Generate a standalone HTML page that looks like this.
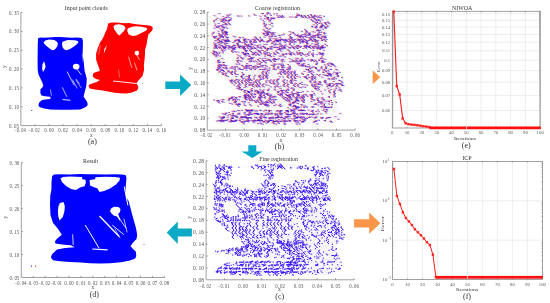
<!DOCTYPE html>
<html><head><meta charset="utf-8"><title>Point cloud registration</title>
<style>html,body{margin:0;padding:0;background:#fff;width:550px;height:303px;overflow:hidden}svg{display:block}</style>
</head><body>
<svg width="550" height="303" viewBox="0 0 550 303">
<rect width="550" height="303" fill="#fff"/>
<path d="M20.9 12.199999999999985V125.6H161.70000000000002" fill="none" stroke="#a0a0a0" stroke-width="1"/>
<path d="M34.95 125.6v-1.6M49.00 125.6v-1.6M63.05 125.6v-1.6M77.10 125.6v-1.6M91.15 125.6v-1.6M105.20 125.6v-1.6M119.25 125.6v-1.6M133.30 125.6v-1.6M147.35 125.6v-1.6M161.40 125.6v-1.6M20.9 106.75h1.6M20.9 87.90h1.6M20.9 69.05h1.6M20.9 50.20h1.6M20.9 31.35h1.6M20.9 12.50h1.6" stroke="#777" stroke-width="0.7"/>
<text x="20.00" y="132.30" font-size="5.3" text-anchor="middle" fill="#505050" font-family="'Liberation Serif',serif" textLength="11.4" lengthAdjust="spacingAndGlyphs">&#8722;0. 04</text>
<text x="34.05" y="132.30" font-size="5.3" text-anchor="middle" fill="#505050" font-family="'Liberation Serif',serif" textLength="11.4" lengthAdjust="spacingAndGlyphs">&#8722;0. 02</text>
<text x="49.00" y="132.30" font-size="5.3" text-anchor="middle" fill="#505050" font-family="'Liberation Serif',serif" textLength="9.6" lengthAdjust="spacingAndGlyphs">0. 00</text>
<text x="63.05" y="132.30" font-size="5.3" text-anchor="middle" fill="#505050" font-family="'Liberation Serif',serif" textLength="9.6" lengthAdjust="spacingAndGlyphs">0. 02</text>
<text x="77.10" y="132.30" font-size="5.3" text-anchor="middle" fill="#505050" font-family="'Liberation Serif',serif" textLength="9.6" lengthAdjust="spacingAndGlyphs">0. 04</text>
<text x="91.15" y="132.30" font-size="5.3" text-anchor="middle" fill="#505050" font-family="'Liberation Serif',serif" textLength="9.6" lengthAdjust="spacingAndGlyphs">0. 06</text>
<text x="105.20" y="132.30" font-size="5.3" text-anchor="middle" fill="#505050" font-family="'Liberation Serif',serif" textLength="9.6" lengthAdjust="spacingAndGlyphs">0. 08</text>
<text x="119.25" y="132.30" font-size="5.3" text-anchor="middle" fill="#505050" font-family="'Liberation Serif',serif" textLength="9.6" lengthAdjust="spacingAndGlyphs">0. 10</text>
<text x="133.30" y="132.30" font-size="5.3" text-anchor="middle" fill="#505050" font-family="'Liberation Serif',serif" textLength="9.6" lengthAdjust="spacingAndGlyphs">0. 12</text>
<text x="147.35" y="132.30" font-size="5.3" text-anchor="middle" fill="#505050" font-family="'Liberation Serif',serif" textLength="9.6" lengthAdjust="spacingAndGlyphs">0. 14</text>
<text x="161.40" y="132.30" font-size="5.3" text-anchor="middle" fill="#505050" font-family="'Liberation Serif',serif" textLength="9.6" lengthAdjust="spacingAndGlyphs">0. 16</text>
<text x="18.90" y="127.60" font-size="5.3" text-anchor="end" fill="#505050" font-family="'Liberation Serif',serif" textLength="9.8" lengthAdjust="spacingAndGlyphs">0. 05</text>
<text x="18.90" y="108.75" font-size="5.3" text-anchor="end" fill="#505050" font-family="'Liberation Serif',serif" textLength="9.8" lengthAdjust="spacingAndGlyphs">0. 10</text>
<text x="18.90" y="89.90" font-size="5.3" text-anchor="end" fill="#505050" font-family="'Liberation Serif',serif" textLength="9.8" lengthAdjust="spacingAndGlyphs">0. 15</text>
<text x="18.90" y="71.05" font-size="5.3" text-anchor="end" fill="#505050" font-family="'Liberation Serif',serif" textLength="9.8" lengthAdjust="spacingAndGlyphs">0. 20</text>
<text x="18.90" y="52.20" font-size="5.3" text-anchor="end" fill="#505050" font-family="'Liberation Serif',serif" textLength="9.8" lengthAdjust="spacingAndGlyphs">0. 25</text>
<text x="18.90" y="33.35" font-size="5.3" text-anchor="end" fill="#505050" font-family="'Liberation Serif',serif" textLength="9.8" lengthAdjust="spacingAndGlyphs">0. 30</text>
<text x="18.90" y="14.50" font-size="5.3" text-anchor="end" fill="#505050" font-family="'Liberation Serif',serif" textLength="9.8" lengthAdjust="spacingAndGlyphs">0. 35</text>
<text x="86.30" y="9.50" font-size="6.2" text-anchor="middle" fill="#333" font-family="'Liberation Serif',serif" textLength="42.9" lengthAdjust="spacingAndGlyphs">Input point clouds</text>
<text x="91.30" y="137.00" font-size="5.5" text-anchor="middle" fill="#555" font-family="'Liberation Serif',serif" >x</text>
<text x="92.40" y="144.20" font-size="8.0" text-anchor="middle" fill="#333" font-family="'Liberation Serif',serif" >(a)</text>
<text transform="translate(6.2,66.7) rotate(-90)" font-size="5.5" text-anchor="middle" fill="#555" font-family="'Liberation Serif',serif">y</text>
<path d="M207.2 11.999999999999996V130.1H355.42" fill="none" stroke="#a0a0a0" stroke-width="1"/>
<path d="M225.69 130.1v-1.6M244.18 130.1v-1.6M262.67 130.1v-1.6M281.16 130.1v-1.6M299.65 130.1v-1.6M318.14 130.1v-1.6M336.63 130.1v-1.6M355.12 130.1v-1.6M207.2 118.32h1.6M207.2 106.54h1.6M207.2 94.76h1.6M207.2 82.98h1.6M207.2 71.20h1.6M207.2 59.42h1.6M207.2 47.64h1.6M207.2 35.86h1.6M207.2 24.08h1.6M207.2 12.30h1.6" stroke="#777" stroke-width="0.7"/>
<text x="206.30" y="137.15" font-size="5.3" text-anchor="middle" fill="#505050" font-family="'Liberation Serif',serif" textLength="11.4" lengthAdjust="spacingAndGlyphs">&#8722;0. 02</text>
<text x="224.79" y="137.15" font-size="5.3" text-anchor="middle" fill="#505050" font-family="'Liberation Serif',serif" textLength="11.4" lengthAdjust="spacingAndGlyphs">&#8722;0. 01</text>
<text x="244.18" y="137.15" font-size="5.3" text-anchor="middle" fill="#505050" font-family="'Liberation Serif',serif" textLength="9.6" lengthAdjust="spacingAndGlyphs">0. 00</text>
<text x="262.67" y="137.15" font-size="5.3" text-anchor="middle" fill="#505050" font-family="'Liberation Serif',serif" textLength="9.6" lengthAdjust="spacingAndGlyphs">0. 01</text>
<text x="281.16" y="137.15" font-size="5.3" text-anchor="middle" fill="#505050" font-family="'Liberation Serif',serif" textLength="9.6" lengthAdjust="spacingAndGlyphs">0. 02</text>
<text x="299.65" y="137.15" font-size="5.3" text-anchor="middle" fill="#505050" font-family="'Liberation Serif',serif" textLength="9.6" lengthAdjust="spacingAndGlyphs">0. 03</text>
<text x="318.14" y="137.15" font-size="5.3" text-anchor="middle" fill="#505050" font-family="'Liberation Serif',serif" textLength="9.6" lengthAdjust="spacingAndGlyphs">0. 04</text>
<text x="336.63" y="137.15" font-size="5.3" text-anchor="middle" fill="#505050" font-family="'Liberation Serif',serif" textLength="9.6" lengthAdjust="spacingAndGlyphs">0. 05</text>
<text x="355.12" y="137.15" font-size="5.3" text-anchor="middle" fill="#505050" font-family="'Liberation Serif',serif" textLength="9.6" lengthAdjust="spacingAndGlyphs">0. 06</text>
<text x="205.20" y="132.10" font-size="5.6" text-anchor="end" fill="#505050" font-family="'Liberation Serif',serif" textLength="11.0" lengthAdjust="spacingAndGlyphs">0. 08</text>
<text x="205.20" y="120.32" font-size="5.6" text-anchor="end" fill="#505050" font-family="'Liberation Serif',serif" textLength="11.0" lengthAdjust="spacingAndGlyphs">0. 10</text>
<text x="205.20" y="108.54" font-size="5.6" text-anchor="end" fill="#505050" font-family="'Liberation Serif',serif" textLength="11.0" lengthAdjust="spacingAndGlyphs">0. 12</text>
<text x="205.20" y="96.76" font-size="5.6" text-anchor="end" fill="#505050" font-family="'Liberation Serif',serif" textLength="11.0" lengthAdjust="spacingAndGlyphs">0. 14</text>
<text x="205.20" y="84.98" font-size="5.6" text-anchor="end" fill="#505050" font-family="'Liberation Serif',serif" textLength="11.0" lengthAdjust="spacingAndGlyphs">0. 16</text>
<text x="205.20" y="73.20" font-size="5.6" text-anchor="end" fill="#505050" font-family="'Liberation Serif',serif" textLength="11.0" lengthAdjust="spacingAndGlyphs">0. 18</text>
<text x="205.20" y="61.42" font-size="5.6" text-anchor="end" fill="#505050" font-family="'Liberation Serif',serif" textLength="11.0" lengthAdjust="spacingAndGlyphs">0. 20</text>
<text x="205.20" y="49.64" font-size="5.6" text-anchor="end" fill="#505050" font-family="'Liberation Serif',serif" textLength="11.0" lengthAdjust="spacingAndGlyphs">0. 22</text>
<text x="205.20" y="37.86" font-size="5.6" text-anchor="end" fill="#505050" font-family="'Liberation Serif',serif" textLength="11.0" lengthAdjust="spacingAndGlyphs">0. 24</text>
<text x="205.20" y="26.08" font-size="5.6" text-anchor="end" fill="#505050" font-family="'Liberation Serif',serif" textLength="11.0" lengthAdjust="spacingAndGlyphs">0. 26</text>
<text x="205.20" y="14.30" font-size="5.6" text-anchor="end" fill="#505050" font-family="'Liberation Serif',serif" textLength="11.0" lengthAdjust="spacingAndGlyphs">0. 28</text>
<text x="277.50" y="9.50" font-size="6.2" text-anchor="middle" fill="#333" font-family="'Liberation Serif',serif" textLength="45" lengthAdjust="spacingAndGlyphs">Coarse registration</text>
<text x="280.80" y="141.70" font-size="5.5" text-anchor="middle" fill="#555" font-family="'Liberation Serif',serif" >x</text>
<text x="279.40" y="148.90" font-size="8.0" text-anchor="middle" fill="#333" font-family="'Liberation Serif',serif" >(b)</text>
<text transform="translate(191.5,68.3) rotate(-90)" font-size="5.5" text-anchor="middle" fill="#555" font-family="'Liberation Serif',serif">y</text>
<path d="M206.1 160.5V279.8H354.40000000000003" fill="none" stroke="#a0a0a0" stroke-width="1"/>
<path d="M224.60 279.8v-1.6M243.10 279.8v-1.6M261.60 279.8v-1.6M280.10 279.8v-1.6M298.60 279.8v-1.6M317.10 279.8v-1.6M335.60 279.8v-1.6M354.10 279.8v-1.6M206.1 267.90h1.6M206.1 256.00h1.6M206.1 244.10h1.6M206.1 232.20h1.6M206.1 220.30h1.6M206.1 208.40h1.6M206.1 196.50h1.6M206.1 184.60h1.6M206.1 172.70h1.6M206.1 160.80h1.6" stroke="#777" stroke-width="0.7"/>
<text x="205.20" y="287.65" font-size="5.3" text-anchor="middle" fill="#505050" font-family="'Liberation Serif',serif" textLength="11.4" lengthAdjust="spacingAndGlyphs">&#8722;0. 02</text>
<text x="223.70" y="287.65" font-size="5.3" text-anchor="middle" fill="#505050" font-family="'Liberation Serif',serif" textLength="11.4" lengthAdjust="spacingAndGlyphs">&#8722;0. 01</text>
<text x="243.10" y="287.65" font-size="5.3" text-anchor="middle" fill="#505050" font-family="'Liberation Serif',serif" textLength="9.6" lengthAdjust="spacingAndGlyphs">0. 00</text>
<text x="261.60" y="287.65" font-size="5.3" text-anchor="middle" fill="#505050" font-family="'Liberation Serif',serif" textLength="9.6" lengthAdjust="spacingAndGlyphs">0. 01</text>
<text x="280.10" y="287.65" font-size="5.3" text-anchor="middle" fill="#505050" font-family="'Liberation Serif',serif" textLength="9.6" lengthAdjust="spacingAndGlyphs">0. 02</text>
<text x="298.60" y="287.65" font-size="5.3" text-anchor="middle" fill="#505050" font-family="'Liberation Serif',serif" textLength="9.6" lengthAdjust="spacingAndGlyphs">0. 03</text>
<text x="317.10" y="287.65" font-size="5.3" text-anchor="middle" fill="#505050" font-family="'Liberation Serif',serif" textLength="9.6" lengthAdjust="spacingAndGlyphs">0. 04</text>
<text x="335.60" y="287.65" font-size="5.3" text-anchor="middle" fill="#505050" font-family="'Liberation Serif',serif" textLength="9.6" lengthAdjust="spacingAndGlyphs">0. 05</text>
<text x="354.10" y="287.65" font-size="5.3" text-anchor="middle" fill="#505050" font-family="'Liberation Serif',serif" textLength="9.6" lengthAdjust="spacingAndGlyphs">0. 06</text>
<text x="204.10" y="281.80" font-size="5.6" text-anchor="end" fill="#505050" font-family="'Liberation Serif',serif" textLength="11.0" lengthAdjust="spacingAndGlyphs">0. 08</text>
<text x="204.10" y="269.90" font-size="5.6" text-anchor="end" fill="#505050" font-family="'Liberation Serif',serif" textLength="11.0" lengthAdjust="spacingAndGlyphs">0. 10</text>
<text x="204.10" y="258.00" font-size="5.6" text-anchor="end" fill="#505050" font-family="'Liberation Serif',serif" textLength="11.0" lengthAdjust="spacingAndGlyphs">0. 12</text>
<text x="204.10" y="246.10" font-size="5.6" text-anchor="end" fill="#505050" font-family="'Liberation Serif',serif" textLength="11.0" lengthAdjust="spacingAndGlyphs">0. 14</text>
<text x="204.10" y="234.20" font-size="5.6" text-anchor="end" fill="#505050" font-family="'Liberation Serif',serif" textLength="11.0" lengthAdjust="spacingAndGlyphs">0. 16</text>
<text x="204.10" y="222.30" font-size="5.6" text-anchor="end" fill="#505050" font-family="'Liberation Serif',serif" textLength="11.0" lengthAdjust="spacingAndGlyphs">0. 18</text>
<text x="204.10" y="210.40" font-size="5.6" text-anchor="end" fill="#505050" font-family="'Liberation Serif',serif" textLength="11.0" lengthAdjust="spacingAndGlyphs">0. 20</text>
<text x="204.10" y="198.50" font-size="5.6" text-anchor="end" fill="#505050" font-family="'Liberation Serif',serif" textLength="11.0" lengthAdjust="spacingAndGlyphs">0. 22</text>
<text x="204.10" y="186.60" font-size="5.6" text-anchor="end" fill="#505050" font-family="'Liberation Serif',serif" textLength="11.0" lengthAdjust="spacingAndGlyphs">0. 24</text>
<text x="204.10" y="174.70" font-size="5.6" text-anchor="end" fill="#505050" font-family="'Liberation Serif',serif" textLength="11.0" lengthAdjust="spacingAndGlyphs">0. 26</text>
<text x="204.10" y="162.80" font-size="5.6" text-anchor="end" fill="#505050" font-family="'Liberation Serif',serif" textLength="11.0" lengthAdjust="spacingAndGlyphs">0. 28</text>
<text x="278.60" y="161.20" font-size="6.2" text-anchor="middle" fill="#333" font-family="'Liberation Serif',serif" textLength="38.7" lengthAdjust="spacingAndGlyphs">Fine registration</text>
<text x="279.40" y="291.40" font-size="5.5" text-anchor="middle" fill="#555" font-family="'Liberation Serif',serif" >x</text>
<text x="279.80" y="298.60" font-size="8.0" text-anchor="middle" fill="#333" font-family="'Liberation Serif',serif" >(c)</text>
<text transform="translate(190.5,217.4) rotate(-90)" font-size="5.5" text-anchor="middle" fill="#555" font-family="'Liberation Serif',serif">y</text>
<path d="M21.3 162.45V277.5H164.64000000000001" fill="none" stroke="#a0a0a0" stroke-width="1"/>
<path d="M33.22 277.5v-1.6M45.14 277.5v-1.6M57.06 277.5v-1.6M68.98 277.5v-1.6M80.90 277.5v-1.6M92.82 277.5v-1.6M104.74 277.5v-1.6M116.66 277.5v-1.6M128.58 277.5v-1.6M140.50 277.5v-1.6M152.42 277.5v-1.6M164.34 277.5v-1.6M21.3 254.55h1.6M21.3 231.60h1.6M21.3 208.65h1.6M21.3 185.70h1.6M21.3 162.75h1.6" stroke="#777" stroke-width="0.7"/>
<text x="20.40" y="285.00" font-size="5.3" text-anchor="middle" fill="#505050" font-family="'Liberation Serif',serif" textLength="11.4" lengthAdjust="spacingAndGlyphs">&#8722;0. 04</text>
<text x="32.32" y="285.00" font-size="5.3" text-anchor="middle" fill="#505050" font-family="'Liberation Serif',serif" textLength="11.4" lengthAdjust="spacingAndGlyphs">&#8722;0. 03</text>
<text x="44.24" y="285.00" font-size="5.3" text-anchor="middle" fill="#505050" font-family="'Liberation Serif',serif" textLength="11.4" lengthAdjust="spacingAndGlyphs">&#8722;0. 02</text>
<text x="56.16" y="285.00" font-size="5.3" text-anchor="middle" fill="#505050" font-family="'Liberation Serif',serif" textLength="11.4" lengthAdjust="spacingAndGlyphs">&#8722;0. 01</text>
<text x="68.98" y="285.00" font-size="5.3" text-anchor="middle" fill="#505050" font-family="'Liberation Serif',serif" textLength="9.6" lengthAdjust="spacingAndGlyphs">0. 00</text>
<text x="80.90" y="285.00" font-size="5.3" text-anchor="middle" fill="#505050" font-family="'Liberation Serif',serif" textLength="9.6" lengthAdjust="spacingAndGlyphs">0. 01</text>
<text x="92.82" y="285.00" font-size="5.3" text-anchor="middle" fill="#505050" font-family="'Liberation Serif',serif" textLength="9.6" lengthAdjust="spacingAndGlyphs">0. 02</text>
<text x="104.74" y="285.00" font-size="5.3" text-anchor="middle" fill="#505050" font-family="'Liberation Serif',serif" textLength="9.6" lengthAdjust="spacingAndGlyphs">0. 03</text>
<text x="116.66" y="285.00" font-size="5.3" text-anchor="middle" fill="#505050" font-family="'Liberation Serif',serif" textLength="9.6" lengthAdjust="spacingAndGlyphs">0. 04</text>
<text x="128.58" y="285.00" font-size="5.3" text-anchor="middle" fill="#505050" font-family="'Liberation Serif',serif" textLength="9.6" lengthAdjust="spacingAndGlyphs">0. 05</text>
<text x="140.50" y="285.00" font-size="5.3" text-anchor="middle" fill="#505050" font-family="'Liberation Serif',serif" textLength="9.6" lengthAdjust="spacingAndGlyphs">0. 06</text>
<text x="152.42" y="285.00" font-size="5.3" text-anchor="middle" fill="#505050" font-family="'Liberation Serif',serif" textLength="9.6" lengthAdjust="spacingAndGlyphs">0. 07</text>
<text x="164.34" y="285.00" font-size="5.3" text-anchor="middle" fill="#505050" font-family="'Liberation Serif',serif" textLength="9.6" lengthAdjust="spacingAndGlyphs">0. 08</text>
<text x="19.30" y="279.50" font-size="5.3" text-anchor="end" fill="#505050" font-family="'Liberation Serif',serif" textLength="9.8" lengthAdjust="spacingAndGlyphs">0. 05</text>
<text x="19.30" y="256.55" font-size="5.3" text-anchor="end" fill="#505050" font-family="'Liberation Serif',serif" textLength="9.8" lengthAdjust="spacingAndGlyphs">0. 10</text>
<text x="19.30" y="233.60" font-size="5.3" text-anchor="end" fill="#505050" font-family="'Liberation Serif',serif" textLength="9.8" lengthAdjust="spacingAndGlyphs">0. 15</text>
<text x="19.30" y="210.65" font-size="5.3" text-anchor="end" fill="#505050" font-family="'Liberation Serif',serif" textLength="9.8" lengthAdjust="spacingAndGlyphs">0. 20</text>
<text x="19.30" y="187.70" font-size="5.3" text-anchor="end" fill="#505050" font-family="'Liberation Serif',serif" textLength="9.8" lengthAdjust="spacingAndGlyphs">0. 25</text>
<text x="19.30" y="164.75" font-size="5.3" text-anchor="end" fill="#505050" font-family="'Liberation Serif',serif" textLength="9.8" lengthAdjust="spacingAndGlyphs">0. 30</text>
<text x="90.60" y="162.90" font-size="5.5" text-anchor="middle" fill="#333" font-family="'Liberation Serif',serif" textLength="15.1" lengthAdjust="spacingAndGlyphs">Result</text>
<text x="92.90" y="289.10" font-size="5.5" text-anchor="middle" fill="#555" font-family="'Liberation Serif',serif" >x</text>
<text x="94.30" y="296.60" font-size="8.0" text-anchor="middle" fill="#333" font-family="'Liberation Serif',serif" >(d)</text>
<text transform="translate(6.8,217.2) rotate(-90)" font-size="5.5" text-anchor="middle" fill="#555" font-family="'Liberation Serif',serif">y</text>
<polygon points="165.3,81.5 180.1,81.5 180.1,74.5 191.3,85.1 180.1,96 180.1,89 165.3,89" fill="#0aa9c5"/>
<polygon points="248.3,145.3 256.3,145.3 256.3,151.6 262.6,151.6 252.4,158 241.6,151.6 248.3,151.6" fill="#0aa9c5"/>
<polygon points="191.9,228.6 177.8,228.6 177.8,221.6 166.7,232.6 177.8,243.9 177.8,236.4 191.9,236.4" fill="#0aa9c5"/>
<polygon points="372.7,70.2 380.2,77.2 372.7,84" fill="#f9964a"/>
<polygon points="354.1,219.3 369.2,219.3 369.2,212.6 380.4,223.3 369.2,233.8 369.2,227.4 354.1,227.4" fill="#f9964a"/>
<path d="M407.09 11.3V128.0M421.88 11.3V128.0M436.67 11.3V128.0M451.46 11.3V128.0M466.25 11.3V128.0M481.04 11.3V128.0M495.83 11.3V128.0M510.62 11.3V128.0M525.41 11.3V128.0M392.3 13.90H540.2M392.3 20.26H540.2M392.3 27.06H540.2M392.3 34.37H540.2M392.3 42.26H540.2M392.3 50.84H540.2M392.3 60.24H540.2M392.3 70.62H540.2M392.3 82.23H540.2M392.3 95.40H540.2M392.3 110.59H540.2" stroke="#e2e2e2" stroke-width="0.6" fill="none"/>
<rect x="392.3" y="11.3" width="147.90" height="116.70" fill="none" stroke="#8a8a8a" stroke-width="0.8"/>
<path d="M392.3 126.62h1.2M540.2 126.62h-1.2M392.3 124.70h1.2M540.2 124.70h-1.2M392.3 122.82h1.2M540.2 122.82h-1.2M392.3 120.98h1.2M540.2 120.98h-1.2M392.3 119.17h1.2M540.2 119.17h-1.2M392.3 117.40h1.2M540.2 117.40h-1.2M392.3 115.65h1.2M540.2 115.65h-1.2M392.3 113.94h1.2M540.2 113.94h-1.2M392.3 112.25h1.2M540.2 112.25h-1.2M392.3 110.59h1.2M540.2 110.59h-1.2M392.3 108.97h1.2M540.2 108.97h-1.2M392.3 107.36h1.2M540.2 107.36h-1.2M392.3 105.78h1.2M540.2 105.78h-1.2M392.3 104.23h1.2M540.2 104.23h-1.2M392.3 102.70h1.2M540.2 102.70h-1.2M392.3 101.20h1.2M540.2 101.20h-1.2M392.3 99.72h1.2M540.2 99.72h-1.2M392.3 98.26h1.2M540.2 98.26h-1.2M392.3 96.82h1.2M540.2 96.82h-1.2M392.3 95.40h1.2M540.2 95.40h-1.2M392.3 94.00h1.2M540.2 94.00h-1.2M392.3 92.62h1.2M540.2 92.62h-1.2M392.3 91.26h1.2M540.2 91.26h-1.2M392.3 89.92h1.2M540.2 89.92h-1.2M392.3 88.60h1.2M540.2 88.60h-1.2M392.3 87.29h1.2M540.2 87.29h-1.2M392.3 86.00h1.2M540.2 86.00h-1.2M392.3 84.73h1.2M540.2 84.73h-1.2M392.3 83.47h1.2M540.2 83.47h-1.2M392.3 82.23h1.2M540.2 82.23h-1.2M392.3 81.01h1.2M540.2 81.01h-1.2M392.3 79.80h1.2M540.2 79.80h-1.2M392.3 78.60h1.2M540.2 78.60h-1.2M392.3 77.42h1.2M540.2 77.42h-1.2M392.3 76.26h1.2M540.2 76.26h-1.2M392.3 75.10h1.2M540.2 75.10h-1.2M392.3 73.96h1.2M540.2 73.96h-1.2M392.3 72.84h1.2M540.2 72.84h-1.2M392.3 71.72h1.2M540.2 71.72h-1.2M392.3 70.62h1.2M540.2 70.62h-1.2M392.3 69.53h1.2M540.2 69.53h-1.2M392.3 68.46h1.2M540.2 68.46h-1.2M392.3 67.39h1.2M540.2 67.39h-1.2M392.3 66.34h1.2M540.2 66.34h-1.2M392.3 65.29h1.2M540.2 65.29h-1.2M392.3 64.26h1.2M540.2 64.26h-1.2M392.3 63.24h1.2M540.2 63.24h-1.2M392.3 62.23h1.2M540.2 62.23h-1.2M392.3 61.23h1.2M540.2 61.23h-1.2M392.3 60.24h1.2M540.2 60.24h-1.2M392.3 59.25h1.2M540.2 59.25h-1.2M392.3 58.28h1.2M540.2 58.28h-1.2M392.3 57.32h1.2M540.2 57.32h-1.2M392.3 56.37h1.2M540.2 56.37h-1.2M392.3 55.43h1.2M540.2 55.43h-1.2M392.3 54.49h1.2M540.2 54.49h-1.2M392.3 53.57h1.2M540.2 53.57h-1.2M392.3 52.65h1.2M540.2 52.65h-1.2M392.3 51.74h1.2M540.2 51.74h-1.2M392.3 50.84h1.2M540.2 50.84h-1.2M392.3 49.95h1.2M540.2 49.95h-1.2M392.3 49.06h1.2M540.2 49.06h-1.2M392.3 48.19h1.2M540.2 48.19h-1.2M392.3 47.32h1.2M540.2 47.32h-1.2M392.3 46.46h1.2M540.2 46.46h-1.2M392.3 45.60h1.2M540.2 45.60h-1.2M392.3 44.76h1.2M540.2 44.76h-1.2M392.3 43.92h1.2M540.2 43.92h-1.2M392.3 43.09h1.2M540.2 43.09h-1.2M392.3 42.26h1.2M540.2 42.26h-1.2M392.3 41.44h1.2M540.2 41.44h-1.2M392.3 40.63h1.2M540.2 40.63h-1.2M392.3 39.83h1.2M540.2 39.83h-1.2M392.3 39.03h1.2M540.2 39.03h-1.2M392.3 38.24h1.2M540.2 38.24h-1.2M392.3 37.45h1.2M540.2 37.45h-1.2M392.3 36.67h1.2M540.2 36.67h-1.2M392.3 35.90h1.2M540.2 35.90h-1.2M392.3 35.13h1.2M540.2 35.13h-1.2M392.3 34.37h1.2M540.2 34.37h-1.2M392.3 33.61h1.2M540.2 33.61h-1.2M392.3 32.86h1.2M540.2 32.86h-1.2M392.3 32.12h1.2M540.2 32.12h-1.2M392.3 31.38h1.2M540.2 31.38h-1.2M392.3 30.65h1.2M540.2 30.65h-1.2M392.3 29.92h1.2M540.2 29.92h-1.2M392.3 29.20h1.2M540.2 29.20h-1.2M392.3 28.48h1.2M540.2 28.48h-1.2M392.3 27.77h1.2M540.2 27.77h-1.2M392.3 27.06h1.2M540.2 27.06h-1.2M392.3 26.36h1.2M540.2 26.36h-1.2M392.3 25.67h1.2M540.2 25.67h-1.2M392.3 24.97h1.2M540.2 24.97h-1.2M392.3 24.29h1.2M540.2 24.29h-1.2M392.3 23.60h1.2M540.2 23.60h-1.2M392.3 22.93h1.2M540.2 22.93h-1.2M392.3 22.25h1.2M540.2 22.25h-1.2M392.3 21.59h1.2M540.2 21.59h-1.2M392.3 20.92h1.2M540.2 20.92h-1.2M392.3 20.26h1.2M540.2 20.26h-1.2M392.3 19.61h1.2M540.2 19.61h-1.2M392.3 18.96h1.2M540.2 18.96h-1.2M392.3 18.31h1.2M540.2 18.31h-1.2M392.3 17.67h1.2M540.2 17.67h-1.2M392.3 17.03h1.2M540.2 17.03h-1.2M392.3 16.40h1.2M540.2 16.40h-1.2M392.3 15.77h1.2M540.2 15.77h-1.2M392.3 15.14h1.2M540.2 15.14h-1.2M392.3 14.52h1.2M540.2 14.52h-1.2M392.3 13.90h1.2M540.2 13.90h-1.2M392.3 13.29h1.2M540.2 13.29h-1.2M392.3 12.68h1.2M540.2 12.68h-1.2M392.3 12.07h1.2M540.2 12.07h-1.2M392.3 11.47h1.2M540.2 11.47h-1.2M407.09 11.3v1.3M407.09 128.0v-1.3M421.88 11.3v1.3M421.88 128.0v-1.3M436.67 11.3v1.3M436.67 128.0v-1.3M451.46 11.3v1.3M451.46 128.0v-1.3M466.25 11.3v1.3M466.25 128.0v-1.3M481.04 11.3v1.3M481.04 128.0v-1.3M495.83 11.3v1.3M495.83 128.0v-1.3M510.62 11.3v1.3M510.62 128.0v-1.3M525.41 11.3v1.3M525.41 128.0v-1.3" stroke="#666" stroke-width="0.4"/>
<text x="390.10" y="15.50" font-size="4.6" text-anchor="end" fill="#555" font-family="'Liberation Serif',serif" >0.16</text>
<text x="390.10" y="21.86" font-size="4.6" text-anchor="end" fill="#555" font-family="'Liberation Serif',serif" >0.15</text>
<text x="390.10" y="28.66" font-size="4.6" text-anchor="end" fill="#555" font-family="'Liberation Serif',serif" >0.14</text>
<text x="390.10" y="35.97" font-size="4.6" text-anchor="end" fill="#555" font-family="'Liberation Serif',serif" >0.13</text>
<text x="390.10" y="43.86" font-size="4.6" text-anchor="end" fill="#555" font-family="'Liberation Serif',serif" >0.12</text>
<text x="390.10" y="52.44" font-size="4.6" text-anchor="end" fill="#555" font-family="'Liberation Serif',serif" >0.11</text>
<text x="390.10" y="61.84" font-size="4.6" text-anchor="end" fill="#555" font-family="'Liberation Serif',serif" >0.1</text>
<text x="390.10" y="72.22" font-size="4.6" text-anchor="end" fill="#555" font-family="'Liberation Serif',serif" >0.09</text>
<text x="390.10" y="83.83" font-size="4.6" text-anchor="end" fill="#555" font-family="'Liberation Serif',serif" >0.08</text>
<text x="390.10" y="97.00" font-size="4.6" text-anchor="end" fill="#555" font-family="'Liberation Serif',serif" >0.07</text>
<text x="390.10" y="112.19" font-size="4.6" text-anchor="end" fill="#555" font-family="'Liberation Serif',serif" >0.06</text>
<text x="392.30" y="134.30" font-size="4.8" text-anchor="middle" fill="#555" font-family="'Liberation Serif',serif" >0</text>
<text x="407.09" y="134.30" font-size="4.8" text-anchor="middle" fill="#555" font-family="'Liberation Serif',serif" >10</text>
<text x="421.88" y="134.30" font-size="4.8" text-anchor="middle" fill="#555" font-family="'Liberation Serif',serif" >20</text>
<text x="436.67" y="134.30" font-size="4.8" text-anchor="middle" fill="#555" font-family="'Liberation Serif',serif" >30</text>
<text x="451.46" y="134.30" font-size="4.8" text-anchor="middle" fill="#555" font-family="'Liberation Serif',serif" >40</text>
<text x="466.25" y="134.30" font-size="4.8" text-anchor="middle" fill="#555" font-family="'Liberation Serif',serif" >50</text>
<text x="481.04" y="134.30" font-size="4.8" text-anchor="middle" fill="#555" font-family="'Liberation Serif',serif" >60</text>
<text x="495.83" y="134.30" font-size="4.8" text-anchor="middle" fill="#555" font-family="'Liberation Serif',serif" >70</text>
<text x="510.62" y="134.30" font-size="4.8" text-anchor="middle" fill="#555" font-family="'Liberation Serif',serif" >80</text>
<text x="525.41" y="134.30" font-size="4.8" text-anchor="middle" fill="#555" font-family="'Liberation Serif',serif" >90</text>
<text x="540.20" y="134.30" font-size="4.8" text-anchor="middle" fill="#555" font-family="'Liberation Serif',serif" >100</text>
<text x="462.10" y="9.60" font-size="6.0" text-anchor="middle" fill="#333" font-family="'Liberation Serif',serif" textLength="20.2" lengthAdjust="spacingAndGlyphs">NIWOA</text>
<text x="465.00" y="140.30" font-size="5" text-anchor="middle" fill="#333" font-family="'Liberation Serif',serif" textLength="22" lengthAdjust="spacingAndGlyphs">Iterations</text>
<text x="466.20" y="147.80" font-size="8" text-anchor="middle" fill="#333" font-family="'Liberation Serif',serif" >(e)</text>
<text transform="translate(380.0,66.6) rotate(-90)" font-size="5" text-anchor="middle" fill="#555" font-family="'Liberation Serif',serif" textLength="11.2" lengthAdjust="spacingAndGlyphs">Error</text>
<polyline points="393.78,11.60 396.74,86.10 399.69,94.50 402.65,118.40 405.61,123.20 408.57,124.20 411.53,124.60 414.49,124.90 417.44,125.30 420.40,125.70 423.36,126.20 426.32,126.60 429.28,127.00 432.23,127.90 435.19,127.90 438.15,127.90 441.11,127.90 444.06,127.90 447.02,127.90 449.98,127.90 452.94,127.90 455.90,127.90 458.86,127.90 461.81,127.90 464.77,127.90 467.73,127.90 470.69,127.90 473.65,127.90 476.60,127.90 479.56,127.90 482.52,127.90 485.48,127.90 488.44,127.90 491.39,127.90 494.35,127.90 497.31,127.90 500.27,127.90 503.23,127.90 506.18,127.90 509.14,127.90 512.10,127.90 515.06,127.90 518.02,127.90 520.97,127.90 523.93,127.90 526.89,127.90 529.85,127.90 532.81,127.90 535.76,127.90 538.72,127.90" fill="none" stroke="#ff1a1a" stroke-width="1.1"/>
<rect x="392.58" y="10.40" width="2.4" height="2.4" fill="#ff2424"/>
<rect x="395.54" y="84.90" width="2.4" height="2.4" fill="#ff2424"/>
<rect x="398.50" y="93.30" width="2.4" height="2.4" fill="#ff2424"/>
<rect x="401.45" y="117.20" width="2.4" height="2.4" fill="#ff2424"/>
<rect x="404.41" y="122.00" width="2.4" height="2.4" fill="#ff2424"/>
<rect x="407.37" y="123.00" width="2.4" height="2.4" fill="#ff2424"/>
<rect x="410.33" y="123.40" width="2.4" height="2.4" fill="#ff2424"/>
<rect x="413.29" y="123.70" width="2.4" height="2.4" fill="#ff2424"/>
<rect x="416.24" y="124.10" width="2.4" height="2.4" fill="#ff2424"/>
<rect x="419.20" y="124.50" width="2.4" height="2.4" fill="#ff2424"/>
<rect x="422.16" y="125.00" width="2.4" height="2.4" fill="#ff2424"/>
<rect x="425.12" y="125.40" width="2.4" height="2.4" fill="#ff2424"/>
<rect x="428.08" y="125.80" width="2.4" height="2.4" fill="#ff2424"/>
<rect x="431.03" y="126.70" width="2.4" height="2.4" fill="#ff2424"/>
<rect x="433.99" y="126.70" width="2.4" height="2.4" fill="#ff2424"/>
<rect x="436.95" y="126.70" width="2.4" height="2.4" fill="#ff2424"/>
<rect x="439.91" y="126.70" width="2.4" height="2.4" fill="#ff2424"/>
<rect x="442.87" y="126.70" width="2.4" height="2.4" fill="#ff2424"/>
<rect x="445.82" y="126.70" width="2.4" height="2.4" fill="#ff2424"/>
<rect x="448.78" y="126.70" width="2.4" height="2.4" fill="#ff2424"/>
<rect x="451.74" y="126.70" width="2.4" height="2.4" fill="#ff2424"/>
<rect x="454.70" y="126.70" width="2.4" height="2.4" fill="#ff2424"/>
<rect x="457.66" y="126.70" width="2.4" height="2.4" fill="#ff2424"/>
<rect x="460.61" y="126.70" width="2.4" height="2.4" fill="#ff2424"/>
<rect x="463.57" y="126.70" width="2.4" height="2.4" fill="#ff2424"/>
<rect x="466.53" y="126.70" width="2.4" height="2.4" fill="#ff2424"/>
<rect x="469.49" y="126.70" width="2.4" height="2.4" fill="#ff2424"/>
<rect x="472.45" y="126.70" width="2.4" height="2.4" fill="#ff2424"/>
<rect x="475.40" y="126.70" width="2.4" height="2.4" fill="#ff2424"/>
<rect x="478.36" y="126.70" width="2.4" height="2.4" fill="#ff2424"/>
<rect x="481.32" y="126.70" width="2.4" height="2.4" fill="#ff2424"/>
<rect x="484.28" y="126.70" width="2.4" height="2.4" fill="#ff2424"/>
<rect x="487.24" y="126.70" width="2.4" height="2.4" fill="#ff2424"/>
<rect x="490.19" y="126.70" width="2.4" height="2.4" fill="#ff2424"/>
<rect x="493.15" y="126.70" width="2.4" height="2.4" fill="#ff2424"/>
<rect x="496.11" y="126.70" width="2.4" height="2.4" fill="#ff2424"/>
<rect x="499.07" y="126.70" width="2.4" height="2.4" fill="#ff2424"/>
<rect x="502.03" y="126.70" width="2.4" height="2.4" fill="#ff2424"/>
<rect x="504.98" y="126.70" width="2.4" height="2.4" fill="#ff2424"/>
<rect x="507.94" y="126.70" width="2.4" height="2.4" fill="#ff2424"/>
<rect x="510.90" y="126.70" width="2.4" height="2.4" fill="#ff2424"/>
<rect x="513.86" y="126.70" width="2.4" height="2.4" fill="#ff2424"/>
<rect x="516.82" y="126.70" width="2.4" height="2.4" fill="#ff2424"/>
<rect x="519.77" y="126.70" width="2.4" height="2.4" fill="#ff2424"/>
<rect x="522.73" y="126.70" width="2.4" height="2.4" fill="#ff2424"/>
<rect x="525.69" y="126.70" width="2.4" height="2.4" fill="#ff2424"/>
<rect x="528.65" y="126.70" width="2.4" height="2.4" fill="#ff2424"/>
<rect x="531.61" y="126.70" width="2.4" height="2.4" fill="#ff2424"/>
<rect x="534.56" y="126.70" width="2.4" height="2.4" fill="#ff2424"/>
<rect x="537.52" y="126.70" width="2.4" height="2.4" fill="#ff2424"/>
<rect x="429.28" y="126.6" width="111.53" height="2.6" fill="#ff1414"/>
<path d="M430.40 127.9h0.7M431.88 127.9h0.7M433.36 127.9h0.7M434.84 127.9h0.7M436.32 127.9h0.7M437.80 127.9h0.7M439.28 127.9h0.7M440.76 127.9h0.7M442.24 127.9h0.7M443.71 127.9h0.7M445.19 127.9h0.7M446.67 127.9h0.7M448.15 127.9h0.7M449.63 127.9h0.7M451.11 127.9h0.7M452.59 127.9h0.7M454.07 127.9h0.7M455.55 127.9h0.7M457.03 127.9h0.7M458.50 127.9h0.7M459.98 127.9h0.7M461.46 127.9h0.7M462.94 127.9h0.7M464.42 127.9h0.7M465.90 127.9h0.7M467.38 127.9h0.7M468.86 127.9h0.7M470.34 127.9h0.7M471.82 127.9h0.7M473.30 127.9h0.7M474.77 127.9h0.7M476.25 127.9h0.7M477.73 127.9h0.7M479.21 127.9h0.7M480.69 127.9h0.7M482.17 127.9h0.7M483.65 127.9h0.7M485.13 127.9h0.7M486.61 127.9h0.7M488.09 127.9h0.7M489.56 127.9h0.7M491.04 127.9h0.7M492.52 127.9h0.7M494.00 127.9h0.7M495.48 127.9h0.7M496.96 127.9h0.7M498.44 127.9h0.7M499.92 127.9h0.7M501.40 127.9h0.7M502.88 127.9h0.7M504.35 127.9h0.7M505.83 127.9h0.7M507.31 127.9h0.7M508.79 127.9h0.7M510.27 127.9h0.7M511.75 127.9h0.7M513.23 127.9h0.7M514.71 127.9h0.7M516.19 127.9h0.7M517.67 127.9h0.7M519.14 127.9h0.7M520.62 127.9h0.7M522.10 127.9h0.7M523.58 127.9h0.7M525.06 127.9h0.7M526.54 127.9h0.7M528.02 127.9h0.7M529.50 127.9h0.7M530.98 127.9h0.7M532.46 127.9h0.7M533.93 127.9h0.7M535.41 127.9h0.7M536.89 127.9h0.7M538.37 127.9h0.7M539.85 127.9h0.7" stroke="#e00000" stroke-width="0.7" opacity="0.8"/>
<rect x="465.95" y="126.4" width="0.7" height="3" fill="#fff"/>
<path d="M407.40 161.4V279.5M422.40 161.4V279.5M437.40 161.4V279.5M452.40 161.4V279.5M467.40 161.4V279.5M482.40 161.4V279.5M497.40 161.4V279.5M512.40 161.4V279.5M527.40 161.4V279.5M392.4 200.83H542.4M392.4 240.16H542.4" stroke="#e2e2e2" stroke-width="0.6" fill="none"/>
<rect x="392.4" y="161.4" width="150.00" height="118.10" fill="none" stroke="#8a8a8a" stroke-width="0.8"/>
<path d="M392.4 267.65h1.2M542.4 267.65h-1.2M392.4 260.72h1.2M542.4 260.72h-1.2M392.4 255.81h1.2M542.4 255.81h-1.2M392.4 252.00h1.2M542.4 252.00h-1.2M392.4 248.89h1.2M542.4 248.89h-1.2M392.4 246.25h1.2M542.4 246.25h-1.2M392.4 243.97h1.2M542.4 243.97h-1.2M392.4 241.96h1.2M542.4 241.96h-1.2M392.4 228.32h1.2M542.4 228.32h-1.2M392.4 221.39h1.2M542.4 221.39h-1.2M392.4 216.48h1.2M542.4 216.48h-1.2M392.4 212.67h1.2M542.4 212.67h-1.2M392.4 209.56h1.2M542.4 209.56h-1.2M392.4 206.92h1.2M542.4 206.92h-1.2M392.4 204.64h1.2M542.4 204.64h-1.2M392.4 202.63h1.2M542.4 202.63h-1.2M392.4 188.99h1.2M542.4 188.99h-1.2M392.4 182.06h1.2M542.4 182.06h-1.2M392.4 177.15h1.2M542.4 177.15h-1.2M392.4 173.34h1.2M542.4 173.34h-1.2M392.4 170.23h1.2M542.4 170.23h-1.2M392.4 167.59h1.2M542.4 167.59h-1.2M392.4 165.31h1.2M542.4 165.31h-1.2M392.4 163.30h1.2M542.4 163.30h-1.2M407.40 161.4v1.3M407.40 279.5v-1.3M422.40 161.4v1.3M422.40 279.5v-1.3M437.40 161.4v1.3M437.40 279.5v-1.3M452.40 161.4v1.3M452.40 279.5v-1.3M467.40 161.4v1.3M467.40 279.5v-1.3M482.40 161.4v1.3M482.40 279.5v-1.3M497.40 161.4v1.3M497.40 279.5v-1.3M512.40 161.4v1.3M512.40 279.5v-1.3M527.40 161.4v1.3M527.40 279.5v-1.3" stroke="#666" stroke-width="0.4"/>
<text x="387.40" y="163.10" font-size="4.8" text-anchor="end" fill="#555" font-family="'Liberation Serif',serif" >10</text>
<text x="387.80" y="161.10" font-size="3.2" text-anchor="start" fill="#555" font-family="'Liberation Serif',serif" >1</text>
<text x="387.40" y="202.43" font-size="4.8" text-anchor="end" fill="#555" font-family="'Liberation Serif',serif" >10</text>
<text x="387.80" y="200.43" font-size="3.2" text-anchor="start" fill="#555" font-family="'Liberation Serif',serif" >0</text>
<text x="387.40" y="241.76" font-size="4.8" text-anchor="end" fill="#555" font-family="'Liberation Serif',serif" >10</text>
<text x="387.80" y="239.76" font-size="3.2" text-anchor="start" fill="#555" font-family="'Liberation Serif',serif" >&#8722;1</text>
<text x="387.40" y="281.09" font-size="4.8" text-anchor="end" fill="#555" font-family="'Liberation Serif',serif" >10</text>
<text x="387.80" y="279.09" font-size="3.2" text-anchor="start" fill="#555" font-family="'Liberation Serif',serif" >&#8722;2</text>
<text x="392.40" y="285.80" font-size="4.8" text-anchor="middle" fill="#555" font-family="'Liberation Serif',serif" >0</text>
<text x="407.40" y="285.80" font-size="4.8" text-anchor="middle" fill="#555" font-family="'Liberation Serif',serif" >10</text>
<text x="422.40" y="285.80" font-size="4.8" text-anchor="middle" fill="#555" font-family="'Liberation Serif',serif" >20</text>
<text x="437.40" y="285.80" font-size="4.8" text-anchor="middle" fill="#555" font-family="'Liberation Serif',serif" >30</text>
<text x="452.40" y="285.80" font-size="4.8" text-anchor="middle" fill="#555" font-family="'Liberation Serif',serif" >40</text>
<text x="467.40" y="285.80" font-size="4.8" text-anchor="middle" fill="#555" font-family="'Liberation Serif',serif" >50</text>
<text x="482.40" y="285.80" font-size="4.8" text-anchor="middle" fill="#555" font-family="'Liberation Serif',serif" >60</text>
<text x="497.40" y="285.80" font-size="4.8" text-anchor="middle" fill="#555" font-family="'Liberation Serif',serif" >70</text>
<text x="512.40" y="285.80" font-size="4.8" text-anchor="middle" fill="#555" font-family="'Liberation Serif',serif" >80</text>
<text x="527.40" y="285.80" font-size="4.8" text-anchor="middle" fill="#555" font-family="'Liberation Serif',serif" >90</text>
<text x="542.40" y="285.80" font-size="4.8" text-anchor="middle" fill="#555" font-family="'Liberation Serif',serif" >100</text>
<text x="466.90" y="159.60" font-size="6.0" text-anchor="middle" fill="#333" font-family="'Liberation Serif',serif" textLength="9.4" lengthAdjust="spacingAndGlyphs">ICP</text>
<text x="467.20" y="291.10" font-size="5" text-anchor="middle" fill="#333" font-family="'Liberation Serif',serif" textLength="22.3" lengthAdjust="spacingAndGlyphs">Iterations</text>
<text x="467.00" y="298.80" font-size="8" text-anchor="middle" fill="#333" font-family="'Liberation Serif',serif" >(f)</text>
<text transform="translate(383.7,223.6) rotate(-90)" font-size="5" text-anchor="middle" fill="#555" font-family="'Liberation Serif',serif" textLength="15.9" lengthAdjust="spacingAndGlyphs">Error</text>
<polyline points="393.90,169.00 396.90,196.00 399.90,204.00 402.90,212.30 405.90,218.00 408.90,221.50 411.90,225.00 414.90,229.30 417.90,232.30 420.90,235.20 423.90,238.50 426.90,242.20 429.90,245.00 432.90,254.60 435.90,277.20 438.90,277.20 441.90,277.20 444.90,277.20 447.90,277.20 450.90,277.20 453.90,277.20 456.90,277.20 459.90,277.20 462.90,277.20 465.90,277.20 468.90,277.20 471.90,277.20 474.90,277.20 477.90,277.20 480.90,277.20 483.90,277.20 486.90,277.20 489.90,277.20 492.90,277.20 495.90,277.20 498.90,277.20 501.90,277.20 504.90,277.20 507.90,277.20 510.90,277.20 513.90,277.20 516.90,277.20 519.90,277.20 522.90,277.20 525.90,277.20 528.90,277.20 531.90,277.20 534.90,277.20 537.90,277.20 540.90,277.20" fill="none" stroke="#ff1a1a" stroke-width="1.0"/>
<rect x="392.70" y="167.80" width="2.4" height="2.4" fill="#ff2424"/>
<rect x="395.70" y="194.80" width="2.4" height="2.4" fill="#ff2424"/>
<rect x="398.70" y="202.80" width="2.4" height="2.4" fill="#ff2424"/>
<rect x="401.70" y="211.10" width="2.4" height="2.4" fill="#ff2424"/>
<rect x="404.70" y="216.80" width="2.4" height="2.4" fill="#ff2424"/>
<rect x="407.70" y="220.30" width="2.4" height="2.4" fill="#ff2424"/>
<rect x="410.70" y="223.80" width="2.4" height="2.4" fill="#ff2424"/>
<rect x="413.70" y="228.10" width="2.4" height="2.4" fill="#ff2424"/>
<rect x="416.70" y="231.10" width="2.4" height="2.4" fill="#ff2424"/>
<rect x="419.70" y="234.00" width="2.4" height="2.4" fill="#ff2424"/>
<rect x="422.70" y="237.30" width="2.4" height="2.4" fill="#ff2424"/>
<rect x="425.70" y="241.00" width="2.4" height="2.4" fill="#ff2424"/>
<rect x="428.70" y="243.80" width="2.4" height="2.4" fill="#ff2424"/>
<rect x="431.70" y="253.40" width="2.4" height="2.4" fill="#ff2424"/>
<rect x="434.70" y="276.00" width="2.4" height="2.4" fill="#ff2424"/>
<rect x="437.70" y="276.00" width="2.4" height="2.4" fill="#ff2424"/>
<rect x="440.70" y="276.00" width="2.4" height="2.4" fill="#ff2424"/>
<rect x="443.70" y="276.00" width="2.4" height="2.4" fill="#ff2424"/>
<rect x="446.70" y="276.00" width="2.4" height="2.4" fill="#ff2424"/>
<rect x="449.70" y="276.00" width="2.4" height="2.4" fill="#ff2424"/>
<rect x="452.70" y="276.00" width="2.4" height="2.4" fill="#ff2424"/>
<rect x="455.70" y="276.00" width="2.4" height="2.4" fill="#ff2424"/>
<rect x="458.70" y="276.00" width="2.4" height="2.4" fill="#ff2424"/>
<rect x="461.70" y="276.00" width="2.4" height="2.4" fill="#ff2424"/>
<rect x="464.70" y="276.00" width="2.4" height="2.4" fill="#ff2424"/>
<rect x="467.70" y="276.00" width="2.4" height="2.4" fill="#ff2424"/>
<rect x="470.70" y="276.00" width="2.4" height="2.4" fill="#ff2424"/>
<rect x="473.70" y="276.00" width="2.4" height="2.4" fill="#ff2424"/>
<rect x="476.70" y="276.00" width="2.4" height="2.4" fill="#ff2424"/>
<rect x="479.70" y="276.00" width="2.4" height="2.4" fill="#ff2424"/>
<rect x="482.70" y="276.00" width="2.4" height="2.4" fill="#ff2424"/>
<rect x="485.70" y="276.00" width="2.4" height="2.4" fill="#ff2424"/>
<rect x="488.70" y="276.00" width="2.4" height="2.4" fill="#ff2424"/>
<rect x="491.70" y="276.00" width="2.4" height="2.4" fill="#ff2424"/>
<rect x="494.70" y="276.00" width="2.4" height="2.4" fill="#ff2424"/>
<rect x="497.70" y="276.00" width="2.4" height="2.4" fill="#ff2424"/>
<rect x="500.70" y="276.00" width="2.4" height="2.4" fill="#ff2424"/>
<rect x="503.70" y="276.00" width="2.4" height="2.4" fill="#ff2424"/>
<rect x="506.70" y="276.00" width="2.4" height="2.4" fill="#ff2424"/>
<rect x="509.70" y="276.00" width="2.4" height="2.4" fill="#ff2424"/>
<rect x="512.70" y="276.00" width="2.4" height="2.4" fill="#ff2424"/>
<rect x="515.70" y="276.00" width="2.4" height="2.4" fill="#ff2424"/>
<rect x="518.70" y="276.00" width="2.4" height="2.4" fill="#ff2424"/>
<rect x="521.70" y="276.00" width="2.4" height="2.4" fill="#ff2424"/>
<rect x="524.70" y="276.00" width="2.4" height="2.4" fill="#ff2424"/>
<rect x="527.70" y="276.00" width="2.4" height="2.4" fill="#ff2424"/>
<rect x="530.70" y="276.00" width="2.4" height="2.4" fill="#ff2424"/>
<rect x="533.70" y="276.00" width="2.4" height="2.4" fill="#ff2424"/>
<rect x="536.70" y="276.00" width="2.4" height="2.4" fill="#ff2424"/>
<rect x="539.70" y="276.00" width="2.4" height="2.4" fill="#ff2424"/>
<rect x="435.90" y="275.9" width="107.10" height="2.7" fill="#ff1414"/>
<path d="M435.55 277.25h0.7M437.05 277.25h0.7M438.55 277.25h0.7M440.05 277.25h0.7M441.55 277.25h0.7M443.05 277.25h0.7M444.55 277.25h0.7M446.05 277.25h0.7M447.55 277.25h0.7M449.05 277.25h0.7M450.55 277.25h0.7M452.05 277.25h0.7M453.55 277.25h0.7M455.05 277.25h0.7M456.55 277.25h0.7M458.05 277.25h0.7M459.55 277.25h0.7M461.05 277.25h0.7M462.55 277.25h0.7M464.05 277.25h0.7M465.55 277.25h0.7M467.05 277.25h0.7M468.55 277.25h0.7M470.05 277.25h0.7M471.55 277.25h0.7M473.05 277.25h0.7M474.55 277.25h0.7M476.05 277.25h0.7M477.55 277.25h0.7M479.05 277.25h0.7M480.55 277.25h0.7M482.05 277.25h0.7M483.55 277.25h0.7M485.05 277.25h0.7M486.55 277.25h0.7M488.05 277.25h0.7M489.55 277.25h0.7M491.05 277.25h0.7M492.55 277.25h0.7M494.05 277.25h0.7M495.55 277.25h0.7M497.05 277.25h0.7M498.55 277.25h0.7M500.05 277.25h0.7M501.55 277.25h0.7M503.05 277.25h0.7M504.55 277.25h0.7M506.05 277.25h0.7M507.55 277.25h0.7M509.05 277.25h0.7M510.55 277.25h0.7M512.05 277.25h0.7M513.55 277.25h0.7M515.05 277.25h0.7M516.55 277.25h0.7M518.05 277.25h0.7M519.55 277.25h0.7M521.05 277.25h0.7M522.55 277.25h0.7M524.05 277.25h0.7M525.55 277.25h0.7M527.05 277.25h0.7M528.55 277.25h0.7M530.05 277.25h0.7M531.55 277.25h0.7M533.05 277.25h0.7M534.55 277.25h0.7M536.05 277.25h0.7M537.55 277.25h0.7M539.05 277.25h0.7M540.55 277.25h0.7M542.05 277.25h0.7" stroke="#e00000" stroke-width="0.7" opacity="0.8"/>
<rect x="467.10" y="275.7" width="0.7" height="3.1" fill="#fff"/>
<path d="M38.1 38.2L40.0 37.6L44.0 37.7L48.0 37.6L52.0 37.3L56.0 37.1L60.0 37.0L64.0 37.2L68.0 37.5L72.0 37.7L76.0 37.6L80.0 37.7L82.2 38.2L82.9 41.0L82.9 46.0L82.7 52.0L82.5 55.0L83.6 60.3L84.6 70.8L86.7 78.2L86.6 82.0L86.3 85.5L85.8 88.0L84.8 91.5L83.6 96.4L85.5 99.5L87.4 102.5L87.6 105.2L85.0 107.5L80.0 109.4L70.0 109.8L60.0 109.7L50.4 109.4L44.0 108.4L39.5 107.0L38.4 105.6L39.2 102.5L42.0 100.0L47.0 99.2L50.4 99.1L50.4 96.8L45.0 96.3L41.5 95.6L40.3 93.0L40.5 89.3L42.5 87.2L43.3 85.5L42.3 82.5L40.3 78.2L38.5 74.5L37.7 70.0L37.6 62.0L37.7 52.0L37.8 44.0ZM43.7 42.2L45.2 40.6L49.3 39.6L54.4 39.9L56.9 41.7L57.9 43.2L57.4 46.2L55.9 48.3L54.4 49.8L52.3 50.3L49.3 48.3L46.2 45.7L44.2 43.7ZM62.3 42.0L64.5 41.1L67.6 40.1L74.7 40.3L77.8 41.1L78.3 42.7L76.8 44.2L73.7 46.7L69.6 49.3L66.6 50.3L64.0 49.3L62.5 47.3L62.0 44.2ZM44.0 61.3L45.1 64.5L45.6 66.6L44.5 69.8L43.0 71.9L42.2 68.7L42.4 64.5Z" fill="#0000ff" fill-rule="evenodd"/>
<ellipse cx="76.2" cy="66.6" rx="3.3" ry="2.9" fill="#fff"/>
<path d="M77.2 69.5L81 74.5" stroke="#fff" stroke-width="0.8" stroke-linecap="round"/>
<path d="M67.2 71.9L74.1 85" stroke="#fff" stroke-width="0.8" stroke-linecap="round"/>
<path d="M76.2 79.3L79.4 83.5" stroke="#fff" stroke-width="0.6" stroke-linecap="round"/>
<path d="M72.7 80L77.1 88.2" stroke="#fff" stroke-width="0.6" stroke-linecap="round"/>
<path d="M76 80L80.9 87.6" stroke="#fff" stroke-width="0.6" stroke-linecap="round"/>
<path d="M62.4 87.6L66.7 96.4" stroke="#fff" stroke-width="0.7" stroke-linecap="round"/>
<path d="M62.9 99.6L70 100.2" stroke="#fff" stroke-width="0.9" stroke-linecap="round"/>
<path d="M50.4 89.8L51.4 95.3" stroke="#fff" stroke-width="0.6" stroke-linecap="round"/>
<path d="M82.2 55L83 61.3" stroke="#fff" stroke-width="0.4" stroke-linecap="round"/>
<circle cx="31.8" cy="110.5" r="0.55" fill="#0000ff"/>
<path d="M108.1 23.5L111.4 22.6L116.8 22.4L121.2 22.9L125.0 23.2L128.8 22.9L134.3 24.0L138.6 24.5L144.1 25.1L149.5 25.6L152.3 26.7L152.8 28.9L151.7 31.1L148.4 34.4L147.3 39.8L146.5 45.0L145.0 50.0L145.0 54.0L144.5 60.0L143.9 65.0L144.1 70.0L142.5 76.0L140.6 78.0L137.0 82.2L137.0 83.9L138.2 86.5L138.2 88.6L137.0 90.4L132.0 92.5L126.4 93.4L120.0 93.3L114.6 92.8L108.0 91.5L102.7 90.4L95.0 89.5L89.7 88.6L88.5 85.7L90.0 84.3L96.8 82.1L100.0 80.0L96.0 79.0L92.7 76.8L93.3 73.3L96.0 72.0L99.8 70.9L99.1 68.0L97.9 65.3L96.1 59.5L96.1 53.6L97.9 47.8L100.2 42.0L101.0 41.5L103.2 37.6L105.4 32.2L107.0 28.9L108.1 24.0ZM113.5 26.2L115.2 24.8L119.0 24.3L122.8 25.1L125.0 26.7L125.5 28.4L123.9 31.1L121.7 33.3L119.5 35.4L117.9 34.4L115.7 31.6L114.1 28.9ZM127.7 28.4L132.1 26.7L136.4 26.2L141.9 26.7L146.3 27.8L147.3 28.9L146.3 30.5L141.9 32.7L136.4 35.4L132.1 36.0L128.8 34.4L127.2 31.1ZM106.8 45.0L105.6 49.5L103.7 53.8L104.4 49.0Z" fill="#ff0000" fill-rule="evenodd"/>
<circle cx="136.9" cy="53.1" r="2.3" fill="#fff"/>
<path d="M136.9 54.8L139.2 59.5" stroke="#fff" stroke-width="0.7" stroke-linecap="round"/>
<path d="M128.7 57.1L131.7 67.6" stroke="#fff" stroke-width="0.6" stroke-linecap="round"/>
<path d="M134.6 63L136.9 70" stroke="#fff" stroke-width="0.6" stroke-linecap="round"/>
<path d="M113.4 81L137 83.6" stroke="#fff" stroke-width="0.9" stroke-linecap="round"/>
<path d="M100.2 45.5L98.8 54.5" stroke="#fff" stroke-width="0.4" stroke-linecap="round"/>
<path d="M118.5 70L119.5 77" stroke="#fff" stroke-width="0.4" stroke-linecap="round"/>
<circle cx="142.8" cy="83.6" r="0.45" fill="#ff0000"/>
<path d="M52.2 176.0L54.0 174.6L60.0 174.3L70.0 174.5L80.0 174.0L88.0 174.2L95.0 174.3L105.0 174.4L115.0 174.3L122.0 174.5L125.6 175.0L126.5 178.0L126.0 183.0L125.5 190.0L126.0 197.0L128.6 201.0L130.5 208.0L132.0 214.0L134.0 221.0L136.0 228.0L137.2 235.0L136.5 239.0L133.5 242.0L130.5 246.0L133.0 249.0L135.8 251.6L136.3 256.0L135.2 258.5L130.0 260.5L121.0 262.2L110.0 263.2L100.0 263.5L90.0 263.3L81.0 262.5L70.0 262.0L60.0 261.3L53.0 260.3L50.9 257.5L52.0 254.2L53.9 252.5L57.0 249.4L65.0 248.0L74.7 247.3L70.7 245.2L62.0 244.6L55.5 243.6L54.9 241.6L56.9 238.7L61.8 234.7L57.9 228.8L52.9 222.8L50.5 215.0L50.0 205.0L50.3 195.0L51.4 190.0L51.5 182.0ZM60.5 178.5L63.0 177.0L70.0 176.6L82.0 177.0L82.3 179.3L85.5 179.8L85.8 183.0L84.5 186.3L80.0 187.5L76.0 190.0L71.0 189.0L66.0 186.0L62.0 182.0ZM89.6 180.0L95.0 179.3L95.5 177.2L105.0 176.8L115.0 177.0L120.0 177.8L119.5 180.5L116.0 184.5L110.0 188.5L104.0 191.0L99.5 192.0L97.5 188.5L93.5 187.0L90.0 185.5ZM60.0 203.0L63.5 202.0L64.8 206.0L64.5 211.0L62.8 216.9L59.5 220.5L58.2 216.0L57.9 211.0L58.5 206.0ZM111.0 208.5L114.0 206.8L118.5 207.0L120.5 209.0L120.0 212.0L118.2 214.0L119.5 217.5L120.5 220.0L119.5 220.5L117.0 216.5L114.0 215.8L111.5 213.5L110.0 211.0Z" fill="#0000ff" fill-rule="evenodd"/>
<path d="M120 219.5L126 228" stroke="#fff" stroke-width="0.8" stroke-linecap="round"/>
<path d="M99.9 216.5L118.9 236.2" stroke="#fff" stroke-width="1.3" stroke-linecap="round"/>
<path d="M112.6 225.4L123.5 234.4" stroke="#fff" stroke-width="0.9" stroke-linecap="round"/>
<path d="M124 219L127 232" stroke="#fff" stroke-width="0.7" stroke-linecap="round"/>
<path d="M124.3 187L127.8 205" stroke="#fff" stroke-width="1.0" stroke-linecap="round"/>
<path d="M85.4 225.4L99 248" stroke="#fff" stroke-width="1.0" stroke-linecap="round"/>
<path d="M92.7 249L107.2 249.8" stroke="#fff" stroke-width="1.2" stroke-linecap="round"/>
<path d="M72.7 234.7L73.2 244.6" stroke="#fff" stroke-width="0.8" stroke-linecap="round"/>
<path d="M115 229L120 238" stroke="#fff" stroke-width="0.6" stroke-linecap="round"/>
<rect x="31" y="265.6" width="1" height="1" fill="#0000ff"/>
<rect x="35" y="265.6" width="1" height="1" fill="#ff0000"/>
<rect x="143.5" y="244.3" width="1" height="0.8" fill="#e0208a"/>
<filter id="bl" x="-5%" y="-5%" width="110%" height="110%"><feGaussianBlur stdDeviation="0.45"/></filter>
<g filter="url(#bl)">
<path d="M214.0 14.0 L222.0 13.2 L233.0 14.5 L236.0 16.2 L245.0 15.5 L256.0 13.5 L268.0 13.0 L283.0 13.5 L284.0 17.0 L297.0 16.5 L297.0 14.0 L310.0 14.3 L320.0 15.5 L329.0 17.0 L329.5 22.0 L328.8 28.0 L327.0 30.0 L327.0 40.0 L328.0 45.0 L330.7 47.0 L330.7 51.0 L325.5 52.0 L323.0 57.0 L327.0 60.0 L333.0 63.0 L335.0 66.0 L340.0 72.0 L343.0 77.0 L344.0 85.0 L344.0 91.0 L336.0 93.0 L335.5 100.0 L338.0 106.0 L341.0 112.0 L341.0 118.0 L335.0 122.0 L322.0 124.0 L300.0 124.6 L270.0 124.5 L240.0 124.0 L220.0 123.0 L214.8 121.5 L213.3 110.0 L213.3 60.0 L213.6 30.0ZM233.0 16.5 L245.0 16.3 L256.0 16.5 L259.0 18.0 L263.0 21.0 L263.5 30.0 L261.0 35.0 L254.0 37.2 L245.0 37.5 L238.0 36.6 L230.0 34.2 L226.0 31.2 L229.0 27.0 L231.0 22.0ZM273.5 20.0 L276.0 17.5 L284.0 17.2 L297.0 17.5 L306.0 18.5 L311.0 20.0 L313.0 22.5 L312.0 25.5 L306.0 27.5 L298.0 29.2 L290.0 31.5 L283.0 34.0 L277.0 34.5 L274.0 31.5 L273.0 26.0ZM223.5 52.5 L226.0 50.5 L230.5 50.2 L235.5 51.8 L237.0 56.0 L236.8 61.5 L234.5 65.3 L228.5 65.8 L224.8 63.0 L223.0 58.0ZM289.0 64.5 L292.2 64.5 L317.5 91.5 L314.3 92.0ZM266.0 62.0 L268.0 62.0 L282.0 80.0 L280.0 80.5ZM213.0 67.0 L219.0 72.5 L227.8 80.0 L236.0 88.2 L244.2 92.3 L247.0 94.5 L235.0 96.5 L225.0 98.2 L218.3 99.8 L213.0 100.0ZM213.0 100.0 L218.3 101.5 L230.0 104.0 L247.0 106.0 L260.5 106.5 L285.0 107.5 L289.0 109.5 L285.0 111.3 L260.5 109.8 L245.0 109.6 L222.4 112.7 L217.0 117.0 L215.5 121.5 L213.0 122.0ZM270.0 90.0 L273.5 90.0 L290.0 107.0 L286.5 107.5ZM283.5 13.0 L296.5 13.0 L296.5 16.4 L284.5 16.8Z" fill="#c4b8ff" fill-opacity="0.12" fill-rule="evenodd"/>
<path d="M262 13.4l1 0m3.6-.5l1 0m.4-.9l-2 2.6m-52.7 1l1 0m4-2.1l1 0m6.8 1.4l1 0m-.5 1.2l1 0m.5-.9l1 0m.2-1.1l1 0m6.4 1.8l1 0m-.1 0l1 0m1.7 .1l1 0m6.7-.1l1 0m4.1-1.7l1 0m.3 1.1l1 0m4 .8l1 0m.4-2.6l1 0m1.9 2l1 0m-.6 .7l1 0m3.9-2.4l1 0m-.2 1.5l1 0m2.4-1.4l1 0m1.7-.3l1 0m-.6 2l1 0m1.6-.4l1.3 1.5 1.1 1.3m0-3.2l1.3 1.5 1.1 1.3m12.4-3.7l1 0m-.4 1.6l1 0m-.8-.4l-2 2.6m2.8-2.8l1 0m-.7-.1l1 0m.6 1l1 0m-.5-.1l1 0m-.1-.4l1.3 1.5 1.1 1.3m.1-2.5l1 0m-.6-.1l1.3 1.5 1.1 1.3m.7-3.4l1.3 1.5 1.1 1.3m.5-3.1l1 0m-.7 0l1.3 1.5 1.1 1.3m.3-1.2l1 0m-.1-1.5l1.3 1.5 1.1 1.3m.7-2.1l1.3 1.5 1.1 1.3m0-2.7l1 0m2.6 .6l1 0m-107.7 2.1l1 0m2.2 .9l1 0m1.2-.4l1.3 1.5 1.1 1.3m-1.7-4.9l1 0m-.4 2.1l1 0m-.2-.5l1.3 1.5 1.1 1.3m-1.2-3.5l1 0m-.6 0l1 0m1.3-.1l1 0m1 1.7l-2 2.6m2.4-3.6l1 0m28.8 .6l1 0m2.9 0l1 0m1.1-1.3l1 0m-.7 1.2l1 0m-.6-1.2l1 0m-.5-.1l1 0m-.6 1.3l1 0m1.9-.5l1 0m-.6-.4l1 0m-.7 .6l-2 2.6m3-2.2l1 0m.2-.4l1 0m-1-.4l1 0m2.6-.7l1 0m.2-.1l1 0m1.8-.5l1 0m7 .3l1 0m1.5-.1l1 0m2.3 .4l1 0m4.9-.2l1 0m6.2 .8l1 0m1.4 .9l1.3 1.5 1.1 1.3m-1.2-3.9l1 0m-.9-.6l1 0m.6 .7l1 0m-.3 1.2l1 0m-.7-.6l1.3 1.5 1.1 1.3m.8-2.4l1.3 1.5 1.1 1.3m.4-4l1 0m-108.1 4.1l1 0m-.6-1.2l1 0m.7-.8l1 0m4.3 1.7l1 0m-.8-.3l1 0m-.1-.4l1 0m-.4-1l1 0m-.9 2.5l1 0m1.2 .3l1.3 1.5 1.1 1.3m-1.9-4.6l1 0m1.6 1.7l1.3 1.5 1.1 1.3m-2.3-4.6l1 0m-.5-.3l1 0m.6-.3l1 0m31 .3l1 0m.6 1.5l1 0m2.7-2.2l1 0m.5 1.7l1 0m43.1-.1l1 0m.8 .7l1.3 1.5 1.1 1.3m-1-2.5l1 0m-.8 .2l1 0m-.3-2.1l1 0m2.4 2.2l1.3 1.5 1.1 1.3m-1.8-5.4l1 0m2.3 2.6l1.3 1.5 1.1 1.3m.7-3.8l1.3 1.5 1.1 1.3m-115.2-.2l1 0m-.7 1.2l1.3 1.5 1.1 1.3m.6-4.7l1 0m.8 1.9l-2 2.6m3.6-2.7l1.3 1.5 1.1 1.3m-1.3-3.3l1 0m1.3-.1l1 0m-1-.6l1 0m37.4 .1l1 0m-.7-.8l1 0m.5 2.3l1 0m-.8-1.3l1 0m2.9 .3l1 0m.7-1.7l1 0m-.1 .7l1 0m40.4 1.2l1 0m2.6 .5l-2 2.6m3.7-4.6l1 0m3 1.8l-2 2.6m3-2.5l1.3 1.5 1.1 1.3m-1.2-5.2l1 0m.3 0l1 0m-112.9 5.3l1 0m2.5-2.1l1 0m2.2-.1l1 0m.1 1.3l1 0m.7 .1l1 0m-.8 1.2l-2 2.6m3.4-4.1l1 0m.4 1.3l1 0m36.5-1.4l1 0m-.6-1l1 0m.5 2.4l1 0m-.4-.3l1 0m2.2 .6l1 0m1.2-2.5l1 0m38.5 .3l1 0m-.5 .5l1 0m2.6 1.1l1 0m-.2-.9l1 0m2.5 .7l1 0m-.6-1.4l1 0m-.3 1.1l1 0m-1-1.3l1 0m-.4-.4l1 0m2.3 2.1l1 0m-.8 .3l1 0m.5-1.4l1 0m.1-.8l1 0m-110.7 5.2l1 0m1-2.5l1 0m0 1.4l1 0m-.2 .8l1 0m1.9 .6l1 0m-.7-.2l1 0m37.2-2.2l1.3 1.5 1.1 1.3m1.2-.9l1 0m-.9 .5l1 0m.2-2.1l1 0m20.2 2.2l1 0m11-.2l1 0m2.5-2.2l1.3 1.5 1.1 1.3m9.3-1.4l1 0m-.1-.9l1 0m-.5 .8l1 0m-.7 .6l1 0m.5-.9l1 0m1.6-.9l1 0m-109.2 2.5l-2 2.6m6.2-1.5l1.3 1.5 1.1 1.3m1.1-3.5l1 0m.2-.2l1 0m-.3 .8l-2 2.6m3-.8l1 0m-.6-1.7l1 0m-1-.8l1.3 1.5 1.1 1.3m-2.1-1.3l1 0m-.9-1.2l1 0m-.1 .1l1 0m-.8-.4l1 0m35.1 .7l1.3 1.5 1.1 1.3m-1.4-2.3l1 0m.7-.4l1 0m.2 .1l1 0m-.3 1.2l1 0m-1-1.4l1 0m-1 1.6l1 0m.5-2.6l1 0m-.9 .2l-2 2.6m2.8-2.8l1.3 1.5 1.1 1.3m.1-1.9l1.3 1.5 1.1 1.3m-2.2-2.9l1 0m.9 .2l1 0m8.3 1.3l1 0m5.1 .3l1 0m.4-1.3l1 0m.5-1.3l1.3 1.5 1.1 1.3m10.8-2.7l1 0m-.5 .6l-2 2.6m3.7-2.7l1.3 1.5 1.1 1.3m-1.9-.8l1 0m.1-1.3l1 0m1.6-1.3l1 0m1 .3l1 0m4.4-.2l-2 2.6m2.8-2.3l1 0m1.9 .3l1 0m-.8 1.2l1 0m.3-.4l1 0m-113.3 2.3l1.3 1.5 1.1 1.3m-.8-1.7l1 0m1.5-1l-2 2.6m4.2-3.1l1.3 1.5 1.1 1.3m-.2-2l1 0m-.8-.6l1.3 1.5 1.1 1.3m-1.1-1.7l1 0m1.1-1.3l1.3 1.5 1.1 1.3m-1-3.3l1 0m.6 2.8l1 0m4.4-1.3l1 0m.8 .7l1 0m3.8 .7l1 0m2.1-.1l1 0m10.5-.6l1 0m.1 .5l1 0m3.2-.1l1 0m3.5-.2l1 0m.9-1.4l1 0m-.4-.6l1 0m1.2 1.8l1 0m-.8-2.1l1 0m.3 1.6l1 0m.2-1.2l1 0m-.9 1.1l1 0m1.7 .1l1 0m0 .2l1 0m2.2-1.1l1 0m0 1.9l1 0m-.5-2l1 0m1-.5l1 0m6.2 .5l1.3 1.5 1.1 1.3m-.3-.7l1 0m2.9-2.3l1 0m.5 .2l1 0m0-.5l1 0m-.8 1.9l1 0m-.3-1.2l1.3 1.5 1.1 1.3m-1.3-1.8l1 0m-.5-.9l1 0m-.9-.2l1 0m.2 .5l1.3 1.5 1.1 1.3m-1.8-2.6l1 0m-.9-1.6l1 0m1 1.8l1 0m-.7 .1l1 0m-.2-1.7l1 0m-.3 2.4l1 0m-.7-1.5l1 0m.2-.7l1 0m.4 .4l1 0m1 .3l1.3 1.5 1.1 1.3m-2.1-1.5l1 0m.2-1.9l1 0m-.5 1.2l1 0m-.4 .7l1 0m-.1-1.3l1 0m-.7 1.5l1 0m-.9-1.6l1 0m-.4-.4l1 0m.8-.4l1 0m-.5 .8l1.3 1.5 1.1 1.3m-2.3-2.6l1 0m-.9-1l1 0m.8 0l1 0m-.4-.2l1 0m.8 1.6l1 0m-.4 0l-2 2.6m3.2-2.7l1 0m.4 1.3l1 0m-.2-1.8l-2 2.6m-107.2 .7l1 0m-.4 .4l1 0m-.4 0l1.3 1.5 1.1 1.3m-2.2-4.1l1 0m-.3 .6l1 0m1.1 1.7l1 0m.4-.7l1 0m1.2 .5l1 0m1.1-2.3l1 0m-.9 1.5l-2 2.6m2.4-1.5l1 0m-.5-1.2l1.3 1.5 1.1 1.3m6-2.6l-2 2.6m3.5-1.7l1 0m-.6-.9l1.3 1.5 1.1 1.3m-2.1-2.6l1 0m-.2-1.9l1 0m3.1 2.1l1 0m-.5-.5l1 0m-.9 1.1l1 0m-.3-.8l1 0m-.4-.7l1 0m1.2 .6l1 0m.8 .4l1 0m1.9-.4l1 0m.7-.8l1.3 1.5 1.1 1.3m-.7-2.6l1 0m-.2 0l1 0m.1-.2l1.3 1.5 1.1 1.3m.3-2.5l1 0m.6 1.5l1 0m-.3-1.5l-2 2.6m8.9-3.1l1.3 1.5 1.1 1.3m-1.3-3.2l1 0m1.6 .7l1 0m1.4-.1l1 0m-.7 1.4l1 0m-.9 .3l1 0m-.8-.9l1.3 1.5 1.1 1.3m-1-3.3l1 0m-.7 1.4l1 0m.9-.1l1 0m-1-.1l1 0m.3-.9l1 0m-.8-.5l-2 2.6m2.8-1.5l1 0m-.6-1.1l1.3 1.5 1.1 1.3m-.2-2.2l1 0m-.9 .9l1 0m-.1-1.1l1.3 1.5 1.1 1.3m-.9-2l1 0m.6-1.5l1.3 1.5 1.1 1.3m-.8-3.5l1 0m-.8 .8l1 0m-.1 .7l1 0m1 1l1 0m-.6-1.1l-2 2.6m2.7-2.4l1 0m1.5 .8l1 0m-.9-1.2l1 0m.5 0l1.3 1.5 1.1 1.3m-2.2-2.5l1 0m.7 .3l1 0m0 .1l1 0m1.7-.6l-2 2.6m2.9-2.5l1.3 1.5 1.1 1.3m-.4-1.6l1 0m.2-2.8l1 0m.6 .5l1 0m-.7-.1l1 0m-.4 .7l-2 2.6m2.1-2.2l1.3 1.5 1.1 1.3m-1.4-1.8l1 0m1-.3l1 0m-.8-.5l1 0m0-.3l1.3 1.5 1.1 1.3m.1-4.2l1 0m-.8 2.9l1 0m2.6-.2l1 0m-.5 .1l1 0m-.9-1.2l1 0m1-.1l1.3 1.5 1.1 1.3m-1.7-4l1 0m.5 1.5l1 0m-113.3 3.5l1 0m.1-2.1l1 0m.3-.1l1 0m-.3 2.4l-1.6 1.6 1.6 1.6m.7-3.9l1 0m.4 0l1 0m0-.8l1 0m-.7-.1l1 0m.4 .7l1 0m-.9-.1l1 0m.9 .9l1 0m-.6-2.3l1 0m-.1 0l1 0m-.2 .8l1 0m-.4-.3l1 0m-.9 1.4l-1.6 1.6 1.6 1.6m.3-2.4l1 0m-.5-2.7l1 0m-.5 .9l1 0m4.2 1l1 0m1.7-2l1 0m-.1 2.6l1 0m.9-2l1 0m-.6 1.1l-1.6 1.6 1.6 1.6m.2-3.6l1 0m-.9-.8l1 0m1.2 1.6l1 0m1.3-.7l1.4 1.5 1.2 1.4m-2.3-3.7l1 0m.3 .6l1 0m-.2-.8l1 0m-.8 1.2l1 0m2.4-.3l1 0m-.4-1.1l1 0m-1 1.6l1.4 1.5 1.2 1.4m-2.3-3.9l1 0m.7 1.4l1 0m.3-1.9l1 0m-.7 .9l1 0m-.7 .7l1 0m.2-.3l1 0m3.1-.3l1 0m1.9-.7l1 0m.3 .2l1 0m2 .9l1 0m-.8-1l1 0m.1-.5l1 0m-.8 .7l1 0m-.3-.8l1 0m1.8 2.8l1 0m-.3-.7l1 0m-.1-1l1 0m-.8-.5l1 0m.6-.7l1 0m-.9 2.4l1 0m-.2-1.9l1 0m0-.1l1 0m-.7-.3l1 0m1.3 2.4l1.4 1.5 1.2 1.4m-2.1-3.9l1 0m3.5 .4l1 0m-.1-1.6l1 0m2.5 1.1l1 0m-.4-.5l1 0m.4 .9l-1.6 1.6 1.6 1.6m.5-3.3l1 0m1.1-.3l1 0m.1-.3l1 0m-.4 .3l1 0m2.7-1.3l1 0m-.4 2.4l1 0m-.5-1.1l1 0m1-.2l1 0m-.8 0l1 0m-.9 .8l1 0m.4-1.6l1 0m-.6 1l1 0m.4 .3l1 0m0 .2l1 0m-.9 1l1 0m-.6 0l1 0m6.5-2.3l1 0m-1-.3l1 0m.1 1.2l1 0m1 .9l1 0m-104.8 1.9l1 0m-.1 1l1 0m-.7 .2l1.4 1.5 1.2 1.4m-.4-3.1l1 0m.4-1.7l1 0m-.3 .8l1 0m.4-1.3l1 0m-.1 2l1 0m-.9-.1l1.4 1.5 1.2 1.4m1.5-2.2l-1.6 1.6 1.6 1.6m2-4.1l1.4 1.5 1.2 1.4m-2-2.5l1 0m3.3-.1l-1.6 1.6 1.6 1.6m.6-3.2l1 0m-.4-.5l1 0m-.4 .4l1 0m1.8-.7l1 0m-.7 .5l1.4 1.5 1.2 1.4m0-2.4l1 0m-.4-.1l1.4 1.5 1.2 1.4m-.8-2.6l1 0m1.2-1.3l1 0m-.3 .9l-1.6 1.6 1.6 1.6m1.2-3.3l1 0m-.6 .6l1 0m-.6-1.5l1 0m.1 1.4l1 0m-.8-1.4l1 0m-.9 1.2l-1.6 1.6 1.6 1.6m.5-2.5l1 0m-.2-.5l1 0m-.8 .1l1.4 1.5 1.2 1.4m-2.5-5.2l1 0m1.6 2.4l1.4 1.5 1.2 1.4m-1.6-4.2l1 0m1.4 .4l1.4 1.5 1.2 1.4m-1.7-2.6l1 0m.8-.8l1 0m1.9 1.5l1 0m-.4-.6l1.4 1.5 1.2 1.4m-1.4-4.2l1 0m1.3-.2l1 0m4.5 2l1 0m1.2-1.1l1 0m-.6-.9l1 0m.7 .3l1 0m1.1 .1l1 0m1.2 1.5l1 0m-.8-.1l-1.6 1.6 1.6 1.6m2.2-4l1.4 1.5 1.2 1.4m-.7-2.4l1 0m-.4-1.1l1 0m.8 1.8l1 0m3.4-1l1.4 1.5 1.2 1.4m-.3-4.3l1 0m.2 1.9l1.4 1.5 1.2 1.4m-.8-2.7l1 0m-.7-.2l1 0m-.7-.5l1 0m-.2 .4l1 0m1.3 .5l1 0m2.1-.1l1 0m.4-.7l1 0m-.9 .1l1 0m0 .5l1 0m-.2-.6l-1.6 1.6 1.6 1.6m.1-4l1 0m-.7 1.6l1 0m.3-.6l1.4 1.5 1.2 1.4m-1.5-3.2l1 0m.8 .2l1.4 1.5 1.2 1.4m-2.2-4.8l1 0m1.9 1.9l1.4 1.5 1.2 1.4m-2.6-4.4l1 0m-.7 1.9l1 0m-.2-1.7l1 0m.5 .6l1 0m-1-1.3l1 0m-.4 2.3l1.4 1.5 1.2 1.4m-2.6-3.3l1 0m2.6 .8l1 0m-.2-.8l1 0m-1 0l-1.6 1.6 1.6 1.6m2.4-4.5l1 0m.8 1.4l1 0m-113.6 2.3l1 0m-.9 .1l1 0m.4-1.4l1 0m-.8 .8l1 0m2 .2l1 0m-.4-.7l1 0m-.5 .1l1 0m-.4 1.5l1 0m1.3-1.9l1 0m-.3 .1l1 0m-1 1.9l-1.6 1.6 1.6 1.6m.5-4.1l1 0m0-1l1 0m-.6 .6l1 0m1.2 .6l1 0m.5 1.1l1 0m-.9-2.2l1 0m1.2 .2l1 0m-.2-.4l1 0m0 1.8l1 0m-1 .9l1 0m-.8 .1l-1.6 1.6 1.6 1.6m.4-4.4l1 0m-.9-.3l1 0m-.7 1.4l1 0m-.5-2l1 0m-.5 .4l1 0m2.2-.9l1 0m-.8 .8l1 0m-.1-1.1l1 0m2 1.7l1 0m.1-1l1 0m-.9-.6l1 0m-.5 2.4l1.4 1.5 1.2 1.4m-2.5-3.7l1 0m5-.3l1 0m.3 .7l-1.6 1.6 1.6 1.6m.5-3.4l1 0m3.1-.5l1 0m.1 1.5l1.4 1.5 1.2 1.4m.4-5.4l1 0m-1 .8l1 0m-.1 .5l1 0m2.3-1.1l1 0m-.2 1.1l1 0m1.4 .1l1 0m-.9 .1l1 0m-.7 .6l1 0m.4-.9l1 0m-.2-1.6l1 0m-.7 1.5l1 0m-.2-.1l1 0m1.2-.5l1 0m.2-.3l1 0m.5 .2l1 0m-.5-.1l1 0m-.4 2.1l1 0m-.2 0l1 0m0-.6l1.4 1.5 1.2 1.4m-1.8-3l1 0m.2-.1l1 0m-.2-.8l1 0m-.8-.7l1 0m-.7 1.9l1 0m.3-1.9l1 0m-.7 .9l1 0m-.8 .4l1 0m3.5-.5l1 0m-.1-.2l1 0m-.5 .1l1 0m1.6-.7l1 0m-.6 .9l1 0m.1 .9l1 0m2.4-.8l1 0m.8-.9l1 0m-.8-.2l1 0m2.4 1.4l1 0m1.4-.8l1 0m1.7-.5l1 0m-.4 .2l1 0m3.3 .8l1 0m-.4-1.3l1 0m1.8 2l1 0m-.2-.7l1 0m-.3-.4l1 0m-.8 .9l1 0m.5 .8l1 0m-.1-1.7l1 0m.5 0l1 0m-.8-.2l1 0m-.5 0l1 0m.2 .2l1 0m-.7-.6l1 0m-112.2 3.9l1 0m-.5 1.3l1 0m-1-.7l1 0m.8 .8l1 0m-1-.9l1 0m2.9 .7l1 0m3.8-1.8l1 0m9.1 1l1 0m.3 .7l1 0m1.6 0l1 0m3.5 .4l1 0m1.1-2.5l1 0m-.1 .9l1 0m0-.6l1 0m4.6 2l1 0m1.6 0l1 0m.1-.1l1 0m4.6-2.3l-1.6 1.6 1.6 1.6m1.3-2.4l1 0m1.1 1l1 0m.6-1.3l1 0m-.7 1.9l1 0m-.9-2.6l1 0m3.3-.1l1 0m1.4 2.6l1.4 1.5 1.2 1.4m-.6-4.1l1 0m0 1.1l1 0m9.6-2.2l1 0m.4 .6l1 0m-.2 1.3l1 0m.8 .3l-1.6 1.6 1.6 1.6m1.4-3l1.4 1.5 1.2 1.4m1.4-3.2l1 0m1-1.4l1 0m2.1 1.8l1.4 1.5 1.2 1.4m5.2-3.4l1 0m2.3-1.5l1 0m5.4 2l1 0m2.8 .1l-1.6 1.6 1.6 1.6m.5-5.4l1 0m-112.1 2.4l1.4 1.5 1.2 1.4m-1.1-1.6l1 0m1.6-1.3l1 0m0 .3l-1.6 1.6 1.6 1.6m.1-1.4l1 0m.1-1.5l1 0m2.8-.4l1 0m13.7 2l1 0m3.9-2.2l1 0m.2 1.4l1 0m-.3 .5l1 0m-.7-1.8l1.4 1.5 1.2 1.4m-2.3-1.3l1 0m-.8-1.1l1 0m.1 .3l1 0m.1-.9l1.4 1.5 1.2 1.4m-2-2.2l1 0m3.5 1.2l1 0m-.3 .1l1 0m-.7-1.6l1 0m-.4-.4l1.4 1.5 1.2 1.4m.9-1.1l1 0m-.9-1.5l1.4 1.5 1.2 1.4m1-2l1 0m2-.7l1 0m-.7-.3l1 0m-.7 1.5l1 0m.7-.1l1 0m-.9-.8l1 0m.5 2.1l1 0m-.7-.2l1 0m-.6-2.6l1 0m1.7 .4l-1.6 1.6 1.6 1.6m2.7-2.3l1 0m2.1-1.3l1 0m.2 .5l1 0m3.2 1.4l1 0m-.9-.8l1 0m0 .7l1 0m1-.5l1 0m-.9-.2l1 0m.5-.1l1 0m2 .6l1 0m-.3 .3l1 0m-.9-1l1 0m4.8-.6l1 0m-.3 1.4l1 0m.7-1.4l1.4 1.5 1.2 1.4m-2.4-3.1l1 0m-1-.1l1 0m1 .2l1 0m3 1.5l1 0m3.1-1.9l-1.6 1.6 1.6 1.6m3.6-1.5l1 0m-.5-1.6l-1.6 1.6 1.6 1.6m2.9-1.3l1 0m1.8-.8l1 0m-.7 0l1 0m.5-.2l1 0m.9 1l1 0m-.9-1.1l1 0m-108.1 3.2l1 0m2.6-.7l1 0m1.6 2.6l1 0m14.1-.1l1 0m-.6-1.2l1 0m.8-1.5l1 0m.1 .8l1.4 1.5 1.2 1.4m.1-1.4l1 0m1.1-2.1l1 0m2.6 .4l1 0m-.2 2.1l1 0m-.3-2l1.4 1.5 1.2 1.4m-.9-1l1 0m0-1.1l1 0m5.3 1l1 0m1.9 .3l1 0m1.5-.4l1 0m-.9-2.1l1 0m4.5 .6l1 0m1.9-.4l1 0m.1 2.2l1 0m3.1 .1l1 0m-.3-2.4l1 0m.5-.2l1 0m1.2-.2l1 0m.8 1.2l1 0m9.9 1.2l1 0m1.3 .3l1 0m2.8-.3l1 0m3.4-2l1 0m5.6 .1l1 0m6.8 2.1l1 0m-.7-.1l1 0m0-1.4l1 0m-104.9 3.6l1 0m.8-.9l-1.6 1.6 1.6 1.6m17-2l1 0m1.3-1.1l-1.6 1.6 1.6 1.6m.9-1.9l1 0m.5 .2l1 0m5.8-2.2l1 0m-.9 .4l1 0m.8 1.5l1 0m-.5-.8l1 0m-1 1.4l1 0m-.9-2.7l1 0m.9 2.3l1 0m1.7-.3l1 0m1.3-1.9l1.4 1.5 1.2 1.4m2.4-1.3l1 0m-.7-.8l1.4 1.5 1.2 1.4m-2.1-1.7l1 0m1.4-.4l1 0m.4-.2l1 0m-.9-1.4l1 0m.4 .9l1 0m-.4 .1l1 0m-.9-.5l1.4 1.5 1.2 1.4m.5-3.3l1.4 1.5 1.2 1.4m-1-2.9l1 0m-.9 0l1 0m-.5 2.2l1 0m-.6-1.5l1 0m-.4-.3l1 0m.8 .1l1 0m2.8 .8l1 0m-.7-.5l1 0m0-.4l1 0m.4 1.7l1 0m4.3-2.3l1 0m1.3 2.7l1 0m-.6-2.2l1.4 1.5 1.2 1.4m2.2-1.4l1 0m-.9-1.5l-1.6 1.6 1.6 1.6m.9-1.3l1 0m.7 0l1 0m-.7-1.1l1 0m-.6 1.4l1 0m-.2-.7l1 0m-.9-.2l1 0m-1-.7l1 0m.2-.9l1 0m.5 1.8l1 0m-.6-.1l1 0m2.5-1l1 0m1.8 1.4l1 0m-.7-1.2l1 0m-.2 .3l1 0m-.7-1.1l1.4 1.5 1.2 1.4m.5-2.4l1.4 1.5 1.2 1.4m1.1-2.2l1 0m-.8-.3l1 0m1.5-.2l1.4 1.5 1.2 1.4m-1.6-2.2l1 0m-.4-1.8l1 0m1.2 .6l1 0m-108.3 3.5l1 0m.8-.7l1 0m1.9 .4l1 0m0-.1l1 0m11.5 1.7l1.3 0m1.4 0l1.3 0m6.8-.5l1 0m1.2-1.8l1 0m4-.1l1 0m2 2.4l1.3 0m-1.2-2.1l1 0m3.1 .5l-1.6 1.6 1.6 1.6m.1-3.4l1 0m3.2 .5l1 0m6.8 1.3l1.3 0m.5 0l1.3 0m1.5 0l1.3 0m.8 0l1.3 0m.3-2.4l1 0m-.4 2.4l1.3 0m4.1 .4l1 0m1-2.7l1 0m6 1.4l1 0m.6 .1l1 0m.7-.7l-1.6 1.6 1.6 1.6m2.5-1.6l1 0m-.4-.8l-1.6 1.6 1.6 1.6m1.1-2.9l1 0m2.9 .7l1 0m6.6-.4l1 0m0-.7l1 0m4-1.3l1 0m-.6 .2l1 0m1.1-.3l1 0m4.1 .8l-1.6 1.6 1.6 1.6m.9-1.9l1 0m-.7-1.3l1.4 1.5 1.2 1.4m-1.1-1.9l1 0m-.1 .7l1 0m-115.7 1.3l1 0m-.6-1l1 0m-.9 1.5l1 0m-.2 1.3l1 0m-.7-1.5l-1.6 1.6 1.6 1.6m.4-4.3l1 0m-.7 .3l1 0m-.5 1l1 0m-.8-1.1l1 0m.3 2.5l1 0m-.7-2.3l1 0m-.1-.6l1 0m.1 1.1l1 0m-.4 1.5l1 0m-.3-.1l1 0m-1-1.7l1 0m4.7 1.3l1.3 0m1.5 0l1.3 0m.7 0l1.3 0m3.7-1.4l1.3 0m.7 1.4l1.3 0m1 0l1.3 0m-1.2-1.2l1 0m-.9 1.3l1 0m-.6-1.5l1.3 0m.4 1.4l1.3 0m-.9-1.4l1.3 0m.6 0l1.3 0m.6 1.4l1.3 0m-.3-.1l1 0m.3 .2l1 0m-.4-1.2l1 0m.9 1.1l1.3 0m-.7-.1l1 0m-1 .6l1 0m.9-.5l1.3 0m.8 0l1.3 0m-.6-1.4l1.3 0m1.1 0l1.3 0m.2 1.4l1.3 0m3.6-1.4l1.3 0m.9 1.4l1.3 0m-1-1.4l1.3 0m2.8 1.4l1.3 0m1.7-1.4l1.3 0m-.3 1.8l1 0m-.5-.4l1.3 0m-.8-1.4l1.3 0m5.1 1.4l1.3 0m-1.2-1l1 0m10.7 0l1 0m.6-.3l1 0m.9 .3l1 0m-.7 .3l1 0m.2 .6l1 0m0 0l1 0m.4 .3l1 0m-.2-.9l1 0m2.3 .9l1 0m1-.5l1.4 1.5 1.2 1.4m-1-4.8l1 0m5.5 1.6l-1.6 1.6 1.6 1.6m1.9-4.5l1 0m.5 1.6l1 0m3.4-.2l1 0m2.5-.9l1 0m.2 1.4l1 0m-119.5 2.9l1 0m-.9 .3l1 0m-.1-.1l1 0m-.6-1.3l1 0m1.3 .4l1 0m.4 1.1l1 0m-.5-.7l1.4 1.5 1.2 1.4m-.9-4.1l1 0m.8 .7l1 0m.2-.3l1 0m.1 2l1 0m1-2.5l1.3 0m.6 0l1.3 0m.9 1.4l1.3 0m-1-1.4l1.3 0m.5 2.4l-1.7 2.2 1.7 2.2m1.9-5.8l1 0m-.3-1l1.3 0m-.2 1.2l1 0m-.1 .2l1.3 0m.4 .1l1 0m.2-1.5l1.3 0m.6 0l1.3 0m-1-.1l1 0m-.8 2.1l1 0m1.2-2l1.3 0m.7 1.4l1.3 0m-1.2-1.4l1.3 0m1 0l1.3 0m.4 1.4l1.3 0m-.4-1.4l1.3 0m2.7 1.4l1.3 0m1.2 0l1.3 0m.5 0l1.3 0m-.4-1.4l1.3 0m.2 1.4l1.3 0m1.5 .6l1 0m-.9-2l1.3 0m2.9 1.4l1.3 0m-1-1.4l1.3 0m.6 1.4l1.3 0m.7-1.5l1 0m-.5 .1l1 0m1.1 1.4l1.3 0m.7-1.7l1 0m-.7 1.7l1.3 0m-1.2 .4l1 0m-.2 .1l1 0m-.3-2.3l1 0m.6 2.5l-1.7 2.2 1.7 2.2m1.4-5.1l1.3 0m-.8-1.4l1.3 0m.1-.1l1 0m-.9 2.3l-1.7 2.2 1.7 2.2m.2-5.2l1.3 0m-.6-1.4l1.3 0m4.5 2.3l-1.7 2.2 1.7 2.2m10.1-5.4l1 0m.8 .6l1 0m-.9-.5l1 0m-.6-.1l1.4 1.5 1.2 1.4m-.7-3.8l1 0m-.9 .3l1 0m.4-1.2l1 0m-.8 3l1 0m3.1-2.7l1 0m-1 .6l1 0m2.5 1.4l1 0m3.2 .2l1 0m-.2-1l1.4 1.5 1.2 1.4m-1.2-3.9l1 0m-.9-.1l1 0m-.9 .3l1 0m.8 2.2l1 0m.8-1.1l1 0m.4-.1l1 0m3.7 .1l1 0m.6 .5l1 0m-119.3 2.2l1 0m-.1-1l1 0m.3-.5l1 0m0 2l1 0m3.9 0l-1.6 1.6 1.6 1.6m1.3-4.4l1 0m-.7 .6l1 0m1.7 .3l1 0m.6-1.6l-1.7 2.2 1.7 2.2m9.1-2.4l1 0m21.1-2l-1.7 2.2 1.7 2.2m3.5-4.4l-1.7 2.2 1.7 2.2m.8-4.4l1 0m-.9 2.3l1 0m12.3-2.4l-1.7 2.2 1.7 2.2m.4-2.8l1 0m1.5-.4l1 0m3.3 .3l1 0m2.4-1.4l-1.7 2.2 1.7 2.2m2.4-2.3l1 0m6.2 .5l1 0m1.3-1.8l1 0m3.1 .8l1 0m1.5-.7l1 0m-.9 1l1.4 1.5 1.2 1.4m-.4-3.3l1 0m4.1-1.4l1 0m-1 0l1 0m3.9 1.8l1 0m-.9-.7l1 0m3.3 .7l1.4 1.5 1.2 1.4m-1.6-3.6l1 0m4.5 .3l1 0m1.3 .2l1 0m-.6 1.1l1 0m.9-.9l-1.6 1.6 1.6 1.6m.8-3.5l1 0m-117.8 2.1l1 0m-1-.5l1 0m-.5 0l1 0m1.5 1.7l1 0m1 .9l1 0m7.4 0l1 0m.5-2l1 0m4.6-.3l1 0m-.9 .2l1 0m-1 .5l-1.7 1.9 1.7 1.9m2.9-2.3l1 0m1.8-1l1 0m.4-.3l-1.7 1.9 1.7 1.9m4.6-3.6l1 0m3 .8l1 0m1-1.4l-1.7 1.9 1.7 1.9m3.3-3.4l-1.7 1.9 1.7 1.9m1.2-3.2l1 0m1.3-.6l-1.7 1.9 1.7 1.9m10.2-5.2l1 0m6.3 .1l1 0m2.9 .9l-1.7 1.9 1.7 1.9m3.4-3.4l-1.7 1.9 1.7 1.9m3.3-4.1l-1.7 1.9 1.7 1.9m.7-3.9l1 0m-.4 1.9l1 0m4.6-2.3l1 0m1.3 2.1l1.4 1.5 1.2 1.4m-.3-3.6l1 0m-.6-1.2l1 0m2.9 2.1l1 0m0-1.6l1 0m-.5 1.3l-1.6 1.6 1.6 1.6m2.7-3.2l-1.6 1.6 1.6 1.6m.7-5l1 0m1.3 1.2l1 0m-.2-1l1 0m2.4 0l1 0m.8 .6l1 0m.5 .1l1 0m-.7-.1l1 0m-.4 .7l1 0m-.2-.5l1 0m-.4-1.6l1 0m-.4-.3l1 0m-.1 .5l1 0m-.9 1.3l1 0m-1-.9l1 0m-.8 .2l1 0m-.4 1.6l1 0m.5-2.4l1 0m2.4 .1l1 0m.2 2.2l1 0m-.3 .3l1 0m-106.2 2.8l-1.7 2.2 1.7 2.2m3.8-4.4l-1.7 2.2 1.7 2.2m.5-4.2l1 0m1.9-.1l-1.7 2.2 1.7 2.2m1.2-7.2l1 0m1.3 2.8l-1.7 2.2 1.7 2.2m1-5.7l1 0m1.5 .9l-1.7 2.2 1.7 2.2m.9-4.5l1 0m-.4 .3l1 0m-.5-2l1 0m.5 1.9l-1.7 2.2 1.7 2.2m3.4-4.5l1 0m-.8-2.1l1 0m2.5 2.4l-1.7 2.2 1.7 2.2m3-4.5l-1.7 2.2 1.7 2.2m.1-4.2l1 0m1.1-.4l1 0m3.6-2l1 0m3.2 2.4l-1.7 2.2 1.7 2.2m3.4-4.4l-1.7 2.2 1.7 2.2m2.4-4.5l1 0m.2-.5l1 0m-.9 .4l-1.7 2.2 1.7 2.2m.9-6.9l1 0m2.1 .3l1 0m1.5 2l-1.7 2.2 1.7 2.2m7.4-4.3l-1.7 2.2 1.7 2.2m2.4-5.1l1 0m3.8-1.3l1 0m3.3-.1l1 0m.5 0l1 0m-.8 0l1 0m.3 1.6l1 0m1-1.2l1 0m1.8 1.8l1 0m2.2-1.4l1 0m6.1-.6l1 0m5.4 1.2l1 0m-1 .9l1 0m1.8-.1l1 0m0-.4l1 0m1.8-2.1l-1.6 1.6 1.6 1.6m1-1.3l1 0m4.9-1l1 0m-112.8 2.8l1 0m.1 .4l1 0m.4 .3l1 0m13.2-.4l1 0m2.9-.6l1 0m-.2 0l1 0m0 2.1l1 0m1-.2l1 0m10.3-.9l1 0m.4-.9l1 0m18.5 .6l1 0m2.7 1.8l1 0m-.7-2.2l1 0m.5 .7l1 0m.8-1l1 0m.4 .4l1 0m5 1.8l1 0m7.3-1l1 0m-.6-.1l1 0m.2-1l1 0m1.2 1.9l1 0m-.1 .4l1 0m-.8-1.6l1 0m.4 1l1 0m2.3-.4l1 0m-.5 .7l1 0m4.1-1.2l1 0m-.4 .9l1 0m-.5-1.8l-1.6 1.6 1.6 1.6m7.5-1.8l1 0m4.2-1l1 0m.8-.3l1.4 1.5 1.2 1.4m-109.1 1.9l1 0m5-1.2l-1.7 1.9 1.7 1.9m.2-2.7l1 0m5.8-1.5l-1.7 1.9 1.7 1.9m1.6-2.9l1 0m-.6 1.1l1 0m.5-2.7l1 0m-.7 2.1l1 0m.6-.7l1 0m.8-.6l-1.7 1.9 1.7 1.9m3.4-3.6l-1.7 1.9 1.7 1.9m3-3.9l-1.7 1.9 1.7 1.9m3.7-3.9l-1.7 1.9 1.7 1.9m1.5-2.3l1 0m-.6-2.3l1 0m1 2.6l1 0m3.7-1.5l1 0m.4 .2l1 0m3.4-.4l-1.7 1.9 1.7 1.9m6.5-4l-1.7 1.9 1.7 1.9m1.7-4.2l1 0m1.1 .8l-1.7 1.9 1.7 1.9m2.4-4.3l1 0m3.1-.1l1 0m-.8 .2l-1.7 1.9 1.7 1.9m3.6-3.6l-1.7 1.9 1.7 1.9m.6-4l1 0m.7 .9l1 0m1.7 .3l1 0m1.3 .6l1 0m2.9-2.4l1 0m2 .8l-1.6 1.6 1.6 1.6m2.9-3.3l-1.6 1.6 1.6 1.6m1.3-2.7l1 0m-1 0l1 0m.3 .5l1 0m-.7-1.8l1 0m-.2 1.2l1 0m.4 1.2l1 0m3.9-1.2l1 0m.1 1.1l1 0m.2 .4l1 0m-.9 .2l1 0m-.7-1.4l1 0m-.5 .2l1 0m-1-.9l1 0m-.8 2l1 0m1.3-2.1l1 0m-.3 2l1 0m-.2-1.1l1 0m1.3-.7l1 0m.7 .1l1 0m-.6-.5l-1.6 1.6 1.6 1.6m.5-2.6l1 0m.5-.9l1.4 1.5 1.2 1.4m-1.3-1.6l1 0m-.2 1.1l1 0m.1 .2l1 0m-107.2 1.2l1 0m-1 1.7l1 0m1.2-.7l1 0m-.7-.5l1 0m3.9 .3l1 0m6.3 1l1 0m5-2.6l1 0m11.7 1l1 0m3.1 .3l1 0m-.4-.7l1 0m4 .1l1 0m-.8 2l1 0m9.8-.2l1 0m0-.6l1 0m7.4-.2l1 0m.9-.7l1 0m1.5 .3l1 0m6.4-1.4l1 0m2.3 2.5l1 0m-.4-2.2l-1.6 1.6 1.6 1.6m.8-3l1 0m1.7 .3l-1.6 1.6 1.6 1.6m7.2-3.4l1 0m0 1.8l1 0m1.4-1.4l1 0m.9-.4l1 0m2.7 2l1 0m-1-1.5l1 0m2.2 1l1 0m-101.1 .8l1 0m-1 .5l1 0m.5 .7l1 0m-.3-.6l1 0m0 .1l1 0m1.2 1.1l1 0m.5-.4l-1.6 1.6 1.6 1.6m1.4-2.9l1.4 1.5 1.2 1.4m-1.1-1.8l1 0m.8-1.6l1 0m-.1 .9l1 0m-.7-.5l1 0m2.2 .7l1 0m-.9-.9l1 0m.7 .1l1.4 1.5 1.2 1.4m-1.5-2l1 0m1-1.5l1 0m.3 1.6l1 0m2.3-1.7l-1.6 1.6 1.6 1.6m3-2.7l1 0m-.7 .5l1 0m-.2-1.4l1 0m4.9 0l1 0m-1 .8l1 0m1.6 1.4l1 0m1.1 0l1 0m.4-1l1 0m.1 .3l1 0m-.5-.2l1 0m.2 0l1 0m2.6-.9l-1.6 1.6 1.6 1.6m.5-2.4l1 0m-.9-1.3l1 0m-.4 .8l1 0m4.1-.1l1 0m-1 .8l1 0m-.7-1.6l1 0m8 2.7l1 0m3.7-.1l1 0m3.8-.1l1 0m2.1-2.5l1 0m1 1.4l1 0m2.4 1.1l1 0m3.2-1.4l1 0m3.3 .7l1 0m.3-1.2l1 0m2.9 .3l1 0m.1 .6l-1.6 1.6 1.6 1.6m2.9-3.6l1 0m.7-.2l1 0m-.7 .1l1 0m-.4 1.4l1 0m-96.1 2.8l-1.6 1.6 1.6 1.6m1.3-3.9l1.4 1.5 1.2 1.4m-2.2-4.2l1 0m-.8-.3l1 0m-.1 .5l1 0m1 1.5l1.4 1.5 1.2 1.4m-2.2-4.9l1 0m-.5 1.7l1 0m.9 .8l1 0m.4-.1l1 0m-.9 .1l1 0m-.9-2.5l1 0m1.2 .4l1 0m-.7 .4l1 0m-.9 1l1 0m.6-1.8l1 0m-.6 1.5l1 0m.2-.4l1 0m-.3 .3l1 0m-.7 .8l-1.6 1.6 1.6 1.6m.1-4.5l1 0m-.1-.4l1 0m-.3 .8l1 0m1 .5l-1.6 1.6 1.6 1.6m1-3.4l1 0m-.9-.1l1.4 1.5 1.2 1.4m-1.2-2.9l1 0m2.2 .7l-1.6 1.6 1.6 1.6m6.4-3l1 0m-.8-2l1 0m-1 0l1 0m2 2.2l1 0m-.8-1.2l-1.6 1.6 1.6 1.6m.5-2.8l1 0m-.8-1.8l1 0m-.4 .6l1 0m.1 .6l1 0m1.1 .6l1.4 1.5 1.2 1.4m-1.5-4.4l1 0m.1 .6l1 0m2 1.1l-1.6 1.6 1.6 1.6m.6-4.1l1 0m-.5-.9l1 0m-.3 2.1l1 0m.6-.4l1 0m-.9-.4l-1.6 1.6 1.6 1.6m1.7-3.3l1.4 1.5 1.2 1.4m-1.7-3.9l1 0m-.3 1.7l1 0m-.9-1.3l1 0m-.2-.2l1 0m-.9 2.2l1 0m1-2.2l1 0m3.9 1.5l1.4 1.5 1.2 1.4m4.5-2.7l-1.6 1.6 1.6 1.6m1.2-4l1 0m7.4 .5l1 0m5.8-2l1 0m0 .9l1 0m4.6 .5l-1.6 1.6 1.6 1.6m-103.5 .5l1 0m.4-.3l-1.6 1.6 1.6 1.6m1.5-3.1l1.4 1.5 1.2 1.4m-1.3-2.1l1 0m1.9-.7l1 0m-.2 0l1 0m3.7 .6l1.4 1.5 1.2 1.4m-2.4-5l1 0m-.6 1.1l1 0m-.7 .5l1 0m-.9 .3l1 0m-1-2.2l1 0m.5 .5l1 0m-.7 1.6l1.4 1.5 1.2 1.4m-2.2-3.9l1 0m.6 .4l1 0m-.8-.2l1 0m-.5 1l1.4 1.5 1.2 1.4m-.4-3l1 0m.6 .3l1 0m-.3-1.2l1 0m3.2 .8l1 0m0-2l1 0m-.9-.1l1 0m-.6 2.1l1 0m.3 .2l-1.6 1.6 1.6 1.6m0-4.5l1 0m1.6 1.5l1 0m1.7-2.9l1 0m3 2.7l-1.6 1.6 1.6 1.6m.1-5.1l1 0m-.6 1.7l1 0m.4-.1l1 0m-.2-.3l1 0m.5 .3l1 0m-1-.8l1 0m5.2-1.5l1 0m-.4 .4l1 0m-.5 1.2l1 0m-.8 .8l1.4 1.5 1.2 1.4m-.5-2.6l1 0m.2 0l1.4 1.5 1.2 1.4m-1.9-4.9l1 0m.6-.2l1 0m-.7 .5l1 0m-.8 .9l1.4 1.5 1.2 1.4m-1.9-2.6l1 0m.1-2l1 0m1.4 2l1 0m1.6 .6l1 0m.5-.9l1 0m-.7 .5l-1.6 1.6 1.6 1.6m.6-5.3l1 0m-.3 .3l1 0m-.7 1.2l1.4 1.5 1.2 1.4m-.3-3l1.4 1.5 1.2 1.4m-1.6-2.4l1 0m-.9-1.6l1 0m-.8 .6l1 0m0 .6l1 0m-.8 1.1l1 0m-.7-2.8l1 0m5.2-.1l1 0m.1 2.2l1 0m-.8-1.7l1 0m-.8 .6l1 0m.2 1.3l-1.6 1.6 1.6 1.6m1.3-5.3l1 0m3.7 2.4l-1.6 1.6 1.6 1.6m9.8-3.4l1 0m-1-.6l1 0m4.4 .3l1 0m-121.5 3.1l1 0m3.2 .3l1 0m1.2 0l-1.6 1.6 1.6 1.6m2.1-3.7l1 0m0-.2l1 0m4.3 .6l1 0m-.8-.5l1 0m-.7-1.4l1 0m-.2 .3l1 0m-.2-.7l1 0m1.6 2.7l1 0m-.8-1.7l1 0m.5 .5l1 0m.8 .9l-1.6 1.6 1.6 1.6m1.9-3.7l1 0m5.3-1.7l1 0m-.7-.2l1 0m-.1 1.7l1 0m2.2-1.8l1 0m-.5 2.8l1 0m3.3-.6l1.4 1.5 1.2 1.4m0-3.1l1.4 1.5 1.2 1.4m-1.2-2.8l1 0m-.7-1.8l1 0m-.3-.5l1 0m-.1 .3l1 0m-.8 1.8l1.4 1.5 1.2 1.4m1.9-4.4l1 0m2.8 1.8l-1.6 1.6 1.6 1.6m.8-2.8l1.4 1.5 1.2 1.4m-2.2-5.1l1 0m.6 1.4l1 0m.3-.3l1 0m.7-.1l1 0m-.2 .9l-1.6 1.6 1.6 1.6m1-3.7l1 0m9 .7l1 0m.2-2.3l1 0m1 1.8l1 0m.7-2l1 0m-.4 2l1 0m3.3 .5l1 0m-.3 .1l1 0m-.9-1.2l1 0m-.2-.4l1 0m3.1 1.1l1.4 1.5 1.2 1.4m-.7-3.2l1 0m-.7 .9l1 0m8.8-.8l1 0m-.3 .6l1 0m2.3-.5l1.4 1.5 1.2 1.4m1.2-4.6l1 0m0-.3l1 0m-.9 1.6l1 0m.4-.1l1 0m5.9 1.2l1 0m-115.2 .4l1 0m-.2-.1l1 0m3.5 .8l1 0m.5 .6l1 0m5.3 1.1l1 0m3.5-.9l1 0m.8-1.1l1 0m4.9 .3l1 0m.7 1.4l1 0m-.3-1.6l1 0m-.5 .4l1 0m2.8 .9l1 0m2.3-2l1 0m2.8 1.2l1 0m2.5 .5l1 0m1.7-.4l1 0m1.2 .1l1 0m.3 .8l1 0m-.7-.7l1 0m.1 .2l1 0m.5-.2l1 0m2.7 .9l1 0m13.6-2.2l1 0m1-.1l1 0m-.4 .4l1 0m-.8 .8l1 0m2.2 .4l1 0m-.5 .2l1 0m-.6 .1l1 0m-.7-.6l1 0m-.1-.7l1 0m-.3-.2l1 0m-.5 1.6l1 0m1.1-2.1l1 0m-.9 0l1 0m-.8 .5l1 0m4.3 .8l1 0m6.7-.5l1 0m5.9 1l1 0m3-.2l1 0m-.7-1.5l-1.6 1.6 1.6 1.6m1.7-3.2l1 0m.2 2.4l-1.6 1.6 1.6 1.6m1-5.2l1 0m1.4 .5l1 0m-1-.7l1 0m2 1.5l1 0m3-.2l1 0m-104.9 1.7l1 0m2.7 .3l1 0m1.1 0l1 0m-.6 .5l1 0m0-1.1l1 0m-.9 .6l1 0m-.7-.7l-1.6 1.6 1.6 1.6m.2-2.3l1 0m3.5 .5l1 0m0 .6l1 0m3.8-1l1 0m0 1.2l1 0m5.9 .4l1 0m1.5-1.6l1 0m-.9-.8l1 0m-.2 .1l1 0m.6-.3l1 0m.1 .8l2.6-.4m-1.5 1.5l1 0m-.1-.4l1 0m-.6-.4l1 0m1.1-.9l-1.6 1.6 1.6 1.6m0-1.3l1 0m4.5-.2l1 0m1-.6l1 0m4-1.2l-1.6 1.6 1.6 1.6m.3-1l1 0m7-1.6l2.6-.4m-2.3 1.2l1 0m-1 0l1 0m-.1 .7l1 0m1.2-2.2l1 0m-.8 3l1 0m0-1l1 0m-.4 .8l1 0m-.8-1l1 0m1.8 1l1 0m-.7-2.8l1 0m2.5 1l1 0m-.7 .3l1 0m1.8 .5l1 0m8.8-1l2.6-.4m-.6-.1l1 0m.9 1.1l1 0m1.6-1.1l1 0m7 .1l1 0m2.1 .4l1 0m-45 3.3l1 0m1.5 1.6l1 0m2-.6l1 0m1.1-1.8l1 0m-.7 1.7l1 0m-.8-1.7l1 0m-1 1l2.6-.4m-2.5-.7l1 0m.2 2.3l1 0m-.5-1.4l1 0m0-.4l1 0m.9-.4l1 0m2.3 .5l1 0m-.9-.5l1 0m1.2-.1l1 0m-.6 .2l1 0m4.1 .2l2.6-.4m6.3 .1l2.6-.4m.7 .8l2.6-.4m-2.4 2.1l1 0m.5-1.7l1 0m.3 2.3l1 0m-.7-1.9l2.6-.4m1 .2l1 0m-.4-.8l1 0m-103.7 5.9l1 0m2.6-1.4l1 0m.5 .2l1 0m.8-.3l1 0m1.5-.7l1 0m.1 .3l1 0m1.6-.4l1 0m1.7 2.1l1 0m.1-2.6l1 0m-.3 .1l1 0m-.7 1.4l1 0m-.9-.9l1 0m-.3 .1l2.6-.4m-2.6 .5l1 0m.6 1.2l1 0m-.3-1.4l1 0m-.6 1.8l1 0m-.7-1.8l1 0m-1 .3l2.6-.4m-1.5 .7l1 0m-.9-1.3l1 0m1.5 .4l1 0m.5 1.7l1 0m.1-1.1l1 0m1.9-.2l1 0m-.1-.4l1 0m1.9 1l1 0m.9-1l1 0m-.5 .4l1 0m1.9-.2l1 0m-.9 1.1l1 0m-.9-.8l1 0m1 0l1 0m4.4 .5l2.6-.4m.5 .8l1 0m-.7 1l1 0m-.7-1.5l2.6-.4m-2.3 .4l1 0m4.7-.2l2.6-.4m-2.2 .5l1 0m-.9-.1l1 0m-.1 .4l1 0m-.7 .2l1 0m-.9 .6l1 0m1.9-.8l1 0m-.6-1l1 0m-.3 .3l2.6-.4m-1.8 2.2l1 0m-.7-1.6l1 0m-.2 .3l1 0m-.2 1l1 0m-.6-2.3l1 0m2.7 1l2.6-.4m-.5-.6l1 0m-.1 1l2.6-.4m-2.5 0l1 0m.7-.2l1 0m.2 .5l1 0m2.7-.5l1 0m1.9 1.2l2.6-.4m-1.4-.5l1 0m2.5 1.2l1 0m1-1.6l1 0m-.3 1.7l1 0m3.5-1.3l1 0m.8 1l1 0m0-1.6l1 0m-.4 1.4l1 0m-105 2.6l1 0m.9 .1l1 0m-.8 .8l1 0m.1-1l1 0m-.6-.7l1 0m.6 2.2l1 0m1-.6l1 0m1.6 .9l1 0m-.7-.4l1 0m-1-1.4l1 0m-.6-.4l1 0m-.7 2.1l1 0m3.3-1.2l2.6-.4m-1.1-.7l1 0m4.1 .2l1 0m.1 1.3l1 0m1.1 .2l2.6-.4m-1.5 .8l1 0m-.6-2l1 0m.2-.3l1 0m-.6 1.5l2.6-.4m.9-.2l2.6-.4m-.1 .8l2.6-.4m-2.2-.2l1 0m-.6 .1l1 0m-.5 0l1 0m-.3 .9l1 0m1.2-.6l2.6-.4m-2.3 1.7l1 0m-.2-1.2l1 0m1.2 1.5l1 0m-.2-1.3l1 0m0-1.2l1 0m-.4 1.6l1 0m.4-1.5l1 0m-.7 1.4l1 0m-.3-1.5l1 0m.7 1l2.6-.4m-1.7-.6l1 0m2.5 .8l1 0m-.9 1.1l1 0m.3-.6l1 0m-.8 .5l1 0m-1-1.4l1 0m.5 2l1 0m.4-2.3l1 0m-1 1.1l2.6-.4m-.3 .1l1 0m-.5-.8l1 0m1.8-.6l1 0m-.2 1.6l2.6-.4m-.9 .7l1 0m-.4 0l1 0m-.9 .3l1 0m.2 0l2.6-.4m.5-.7l2.6-.4m-1.4 .6l1 0m-.5-.8l1 0m.7 1.2l2.6-.4m1.7-.5l1 0m-.7 .9l1 0m.5-1.1l1 0m.1 1.2l1 0m-.8-1l1 0m-1 .8l1 0m.8-.5l2.6-.4m-.8 1.3l1 0m1-.1l2.6-.4m.3 .5l2.6-.4m-1.5-1.4l1 0m.1 1.3l1 0m1.2 .6l1 0m.5-.9l1 0m2.4 .1l1 0m4-1l1 0m13.1 .7l1 0m-121.9 3.2l1 0m.3 1.4l1 0m.4-.5l2.6-.4m-2.6-.1l1 0m0 .7l1 0m-1-.1l1 0m-.3-.9l1 0m-.7 .3l1 0m2.5 0l1 0m2.6 1.1l2.6-.4m-2.3-1.7l1 0m.1 1.7l1 0m-.8 .3l1 0m-.1-2.2l1 0m.3 .1l1 0m0-.3l1 0m-.8 1.3l1 0m-.2 .4l1 0m-.7-.8l1 0m2.5 .8l2.6-.4m-2-.7l1 0m-.8 1.2l1 0m.1-.6l1 0m.2 .7l1 0m-.8-.5l2.6-.4m-2.2 .3l1 0m.2-1.2l1 0m-.3 2.3l1 0m-1-.8l1 0m-.6 .3l1 0m-.1 .1l2.6-.4m-2.5 1l1 0m1.6-.7l1 0m-.8 .5l1 0m-.5-.2l1 0m3.3-.8l1 0m-.7 .3l1 0m.3 .5l1 0m1.5-.6l1 0m-.5-.2l2.6-.4m-1.5 1.7l1 0m1.5-1.5l1 0m-.7 .7l2.6-.4m-.5 .5l1 0m2.5 .1l2.6-.4m-2.6 .6l1 0m1.1 .2l1 0m.2-1.3l1 0m-1 1.1l1 0m.6 0l1 0m.2-.7l1 0m-.4 .5l2.6-.4m-1.9 .1l1 0m0-.9l1 0m-.3 0l1 0m.5 1l2.6-.4m-1.4-1.3l1 0m.4 2.1l1 0m.8 .2l1 0m-.3-1.6l1 0m-.4 .6l2.6-.4m-1.1-.6l1 0m-.2 .5l1 0m.5-.1l1 0m3.5-.9l1 0m-.9 .6l1 0m-.9 1.9l1 0m-.4-2.3l1 0m-.5 2.4l1 0m-.5-1l2.6-.4m-1.8 .5l1 0m-.8 .1l1 0m-.9 .3l1 0m.1-1.9l1 0m-.4 1.6l2.6-.4m-.3-.8l1 0m.3 1l2.6-.4m.1 1.1l1 0m.9 .2l1 0m.6-.9l2.6-.4m1.1-.1l1 0m1.3 1.4l1 0m-.6-.9l2.6-.4m3.7 .9l2.6-.4m-2.2 .8l1 0m3.4 .2l1 0m.1-.6l1 0m.1-.1l2.6-.4m4.6-.6l1 0m-119.6 4.2l1 0m.8-.2l2.6-.4m-.1-.2l1 0m-.1-1.1l1 0m-.9 1.7l2.6-.4m-1.6 .6l1 0m-.8 .6l1 0m.9-1.1l2.6-.4m.4-.4l1 0m1.7 .3l1 0m-.8 1.1l2.6-.4m-2.6-.4l1 0m.4 1.1l1 0m-.6 .1l1 0m-.2-.2l1 0m0 .1l1 0m-.7-.9l2.6-.4m-1.5 .7l1 0m2.3-.5l1 0m-.6-1.5l1 0m-.8 2.1l1 0m1.3-1.6l1 0m.6 2.2l2.6-.4m-.1-.2l1 0m-.1 .2l2.6-.4m-2.5-1.3l1 0m0 1.3l1 0m2-.1l1 0m.2 .4l1 0m.1-.2l2.6-.4m-1.5-.4l1 0m-.4 .9l1 0m.6-.1l2.6-.4m-1.6-.2l1 0m-.6-.5l1 0m-.5 1.1l1 0m-.5-1.4l1 0m-.3 1.5l2.6-.4m-2.1-.1l1 0m-.8-1.7l1 0m-.2 1.7l1 0m1.3 1.1l1 0m.4-1.3l1 0m-.6 .9l1 0m1.3-.1l1 0m-.7 .2l1 0m-.6-2.6l1 0m-1 2.9l1 0m-.2-.9l2.6-.4m-1.6 0l1 0m-.4 .3l1 0m.7-.1l1 0m1 1.1l1 0m0-1.3l1 0m-.2 1.3l2.6-.4m-1.9 0l1 0m.9-1.5l1 0m-.3 1.9l2.6-.4m-.4-1.1l1 0m.6 1.6l1 0m-.6-1.1l1 0m-.9-1.6l1 0m-.5-.3l1 0m-.8 2.4l1 0m-.3 .3l2.6-.4m.1-2l1 0m-.7 2.1l2.6-.4m-1.2 .5l1 0m.5-2.3l1 0m1.4 .3l1 0m-.7 1.6l1 0m-.5 .4l1 0m-.7-.2l1 0m-.5 .2l2.6-.4m.2 .4l1 0m.5-.8l1 0m.4-1.6l1 0m-.6 2.9l2.6-.4m-1.7-2.3l1 0m-.1 2.7l1 0m-.9-.7l1 0m-1-1.5l1 0m.3 1l1 0m-1-.6l1 0m-.1-1l1 0m7.7 2.7l2.6-.4m-.5-.5l1 0m1.3-.4l1 0m5 .5l1 0m-.9-.2l1 0m4.5 .9l1 0m-.5-.1l1 0m6.5-2l1 0m-118.5 2.3l1 0m7.5 .1l1 0m.3 0l1 0m9.9 .3l1 0m-.5 .1l1 0m-.9-.3l1 0m.4 2.1l1 0m-.6-1l1 0m3-1.2l1 0m4.2 0l1 0m0 1l1 0m2.9 .8l1 0m1.4-.4l1 0m-.7 .7l1 0m.9 .4l1 0m-.5-2.2l1 0m-.8-.4l1 0m1.7 1.4l1 0m.2-1.3l1 0m-.4 .9l1 0m3.6 .1l1 0m-.3-1l2.6-.4m-2.4 .9l1 0m-.6 1.6l1 0m1.3 .1l1 0m1.4-1.2l1 0m-.9 .6l1 0m4.6-.6l1 0m-.7 1.6l1 0m-.3-.4l1 0m10.2-1.1l1 0m-.7 1.4l1 0m.7-1.4l1 0m.1 1.2l1 0m1.8-1.6l1 0m10.4-.1l1 0m2.4 1.6l1 0m13.6-1.6l1 0" stroke="#ff2020" stroke-width="0.8" fill="none" stroke-opacity="1" stroke-linejoin="round"/>
<path d="M267.7 13.1l1 0m.4-.9l-2 2.6m-52.7 1l1 0m4-2.1l1 0m6.8 1.4l1 0m-.5 1.2l1 0m.5-.9l1 0m.2-1.1l1 0m6.4 1.8l1 0m-.1 0l1 0m1.7 .1l1 0m6.7-.1l1 0m4.1-1.7l1 0m.3 1.1l1 0m4 .8l1 0m.4-2.6l1 0m.2-.1l1 0m.7 2.1l1 0m-.6 .7l1 0m3.9-2.4l1 0m-.2 1.5l1 0m2.4-1.4l1 0m1.7-.3l1 0m-.6 2l1 0m1.6-.4l1.3 1.5 1.1 1.3m0-3.2l1.3 1.5 1.1 1.3m12.4-3.7l1 0m-.4 1.6l1 0m-.8-.4l-2 2.6m2.8-2.8l1 0m-.7-.1l1 0m.6 1l1 0m-.5-.1l1 0m-.1-.4l1.3 1.5 1.1 1.3m.1-2.5l1 0m-.6-.1l1.3 1.5 1.1 1.3m.7-3.4l1.3 1.5 1.1 1.3m.5-3.1l1 0m-.7 0l1.3 1.5 1.1 1.3m.3-1.2l1 0m-.1-1.5l1.3 1.5 1.1 1.3m.7-2.1l1.3 1.5 1.1 1.3m0-2.7l1 0m2.6 .6l1 0m-107.7 2.1l1 0m2.2 .9l1 0m1.2-.4l1.3 1.5 1.1 1.3m-1.7-4.9l1 0m-.4 2.1l1 0m-.2-.5l1.3 1.5 1.1 1.3m-1.2-3.5l1 0m-.6 0l1 0m1.3-.1l1 0m1 1.7l-2 2.6m2.4-3.6l1 0m28.8 .6l1 0m2.9 0l1 0m1.1-1.3l1 0m-.7 1.2l1 0m-.6-1.2l1 0m-.5-.1l1 0m-.6 1.3l1 0m1.9-.5l1 0m-.6-.4l1 0m-.7 .6l-2 2.6m3-2.2l1 0m.2-.4l1 0m-1-.4l1 0m2.6-.7l1 0m.2-.1l1 0m1.8-.5l1 0m7 .3l1 0m1.5-.1l1 0m2.3 .4l1 0m4.9-.2l1 0m6.2 .8l1 0m1.4 .9l1.3 1.5 1.1 1.3m-1.2-3.9l1 0m-.9-.6l1 0m.6 .7l1 0m-.3 1.2l1 0m-.7-.6l1.3 1.5 1.1 1.3m.8-2.4l1.3 1.5 1.1 1.3m.4-4l1 0m-108.1 4.1l1 0m-.6-1.2l1 0m.7-.8l1 0m4.3 1.7l1 0m-.8-.3l1 0m-.1-.4l1 0m-.4-1l1 0m-.9 2.5l1 0m1.7-1.5l1 0m1.6 1.7l1.3 1.5 1.1 1.3m-2.3-4.6l1 0m-.5-.3l1 0m.6-.3l1 0m31 .3l1 0m.6 1.5l1 0m2.7-2.2l1 0m.5 1.7l1 0m43.1-.1l1 0m.8 .7l1.3 1.5 1.1 1.3m-1-2.5l1 0m-.1-1.9l1 0m3-.4l1 0m5.4 1.6l1.3 1.5 1.1 1.3m-115.2-.2l1 0m-.7 1.2l1.3 1.5 1.1 1.3m.6-4.7l1 0m.8 1.9l-2 2.6m3.6-2.7l1.3 1.5 1.1 1.3m-1.3-3.3l1 0m1.3-2.2l1.3 1.5 1.1 1.3m-2.4-.7l1 0m-1-.6l1 0m37.4 .1l1 0m-.7-.8l1 0m.7 1l1 0m2.9 .3l1 0m.7-1.7l1 0m-.1 .7l1 0m40.4 1.2l1 0m2.3-2.4l1 0m-.7 2.9l-2 2.6m3.7-4.6l1 0m1.1-.8l1.3 1.5 1.1 1.3m-.5-.2l-2 2.6m3-2.5l1.3 1.5 1.1 1.3m-1.4-5.5l1.3 1.5 1.1 1.3m-2.2-2.5l1 0m.3 0l1 0m-112.9 5.3l1 0m2.5-2.1l1 0m2.2-.1l1 0m.1 1.3l1 0m.7 .1l1 0m.6-.3l1 0m.4 1.3l1 0m36.5-1.4l1 0m-.6-1l1 0m-.4-.3l1 0m-.1 2.7l1 0m-.4-.3l1 0m4.4-1.9l1 0m38.5 .3l1 0m-.5 .5l1 0m2.6 1.1l1 0m-.2-.9l1 0m2.5 .7l1 0m-.6-1.4l1 0m-.3 1.1l1 0m-1-1.3l1 0m-.4-.4l1 0m2.3 2.1l1 0m-.8 .3l1 0m.5-1.4l1 0m.1-.8l1 0m-110.7 5.2l1 0m1-2.5l1 0m0 1.4l1 0m-.2 .8l1 0m1-2.4l-2 2.6m3.2 .2l1 0m37.2-2.2l1.3 1.5 1.1 1.3m1.2-.9l1 0m.3-1.6l1 0m.7-.8l1 0m34 .6l1.3 1.5 1.1 1.3m9.3-1.4l1 0m-.1-.9l1 0m-.5 .8l1 0m-.7 .6l1 0m.5-.9l1 0m1.6-.9l1 0m-109.2 2.5l-2 2.6m6.2-1.5l1.3 1.5 1.1 1.3m1.1-3.5l1 0m.2-.2l1 0m-.3 .8l-2 2.6m3-3.9l1 0m-.6 1.4l1 0m-1-.8l1.3 1.5 1.1 1.3m-2.1-1.3l1 0m-.9-1.2l1 0m-.1 .1l1 0m-.8-.4l1 0m35.1 .7l1.3 1.5 1.1 1.3m-1.4-2.3l1 0m.7-.4l1 0m.2 .1l1 0m-.7-1.5l1 0m-.6 2.7l1 0m-1-1.4l1 0m-1 1.6l1 0m.5-2.6l1 0m-.9 .2l-2 2.6m2.8-2.8l1.3 1.5 1.1 1.3m.1-1.9l1.3 1.5 1.1 1.3m-2.2-2.9l1 0m.9 .2l1 0m8.3 1.3l1 0m4.7-2.5l1 0m.8 1.5l1 0m.5-1.3l1.3 1.5 1.1 1.3m6.3-3.2l1 0m3.5 .5l1 0m-.5 .6l-2 2.6m3.7-2.7l1.3 1.5 1.1 1.3m-1.9-.8l1 0m.1-1.3l1 0m1.6-1.3l1 0m1 .3l1 0m4.4-.2l-2 2.6m2.8-2.3l1 0m1.9 .3l1 0m-.8 1.2l1 0m.3-.4l1 0m-113.3 2.3l1.3 1.5 1.1 1.3m-.8-1.7l1 0m1.5-1l-2 2.6m4.2-3.1l1.3 1.5 1.1 1.3m-.2-2l1 0m-.8-.6l1.3 1.5 1.1 1.3m-1.1-1.7l1 0m1.1-1.3l1.3 1.5 1.1 1.3m-2.3-3.4l1 0m.3 .1l1 0m6 1.5l1 0m.8 .7l1 0m18.4 0l1 0m.1 .5l1 0m3.2-.1l1 0m3.5-.2l1 0m.9-1.4l1 0m-.4-.6l1 0m1.2 1.8l1 0m-.8-2.1l1 0m.3 1.6l1 0m.2-1.2l1 0m-.9 1.1l1 0m1.7 .1l1 0m0 .2l1 0m2.2-1.1l1 0m.5-.1l1 0m1-.5l1 0m6.2 .5l1.3 1.5 1.1 1.3m-1.8-3.8l1 0m4.4 .8l1 0m.5 .2l1 0m0-.5l1 0m-.8 1.9l1 0m-.3-1.2l1.3 1.5 1.1 1.3m-1.3-1.8l1 0m-.5-.9l1 0m-.9-.2l1 0m.2 .5l1.3 1.5 1.1 1.3m-1.8-2.6l1 0m-.9-1.6l1 0m1 1.8l1 0m-.7 .1l1 0m-.2-1.7l1 0m-.3 2.4l1 0m-.7-1.5l1 0m.2-.7l1 0m.4 .4l1 0m1 .3l1.3 1.5 1.1 1.3m-2.1-1.5l1 0m.2-1.9l1 0m-.5 1.2l1 0m-.4 .7l1 0m-.1-1.3l1 0m-.7 1.5l1 0m-.9-1.6l1 0m-.4-.4l1 0m.8-.4l1 0m-.5 .8l1.3 1.5 1.1 1.3m-2.3-2.6l1 0m-.9-1l1 0m.8 0l1 0m-.4-.2l1 0m.8 1.6l1 0m-.4 0l-2 2.6m3.2-2.7l1 0m.4 1.3l1 0m-.2-1.8l-2 2.6m-107.2 .7l1 0m-.4 .4l1 0m-.4 0l1.3 1.5 1.1 1.3m-2.2-4.1l1 0m-.3 .6l1 0m1.1 1.7l1 0m.4-.7l1 0m1.2 .5l1 0m1.1-2.3l1 0m-.9 1.5l-2 2.6m2.4-1.5l1 0m-.6-2.9l1 0m-.9 1.7l1.3 1.5 1.1 1.3m6-2.6l-2 2.6m3.5-1.7l1 0m-.6-.9l1.3 1.5 1.1 1.3m-2.1-2.6l1 0m-.2-1.9l1 0m-.5-.1l1 0m2.1-.1l1 0m-.5 2.3l1 0m-.5-.5l1 0m-.9 1.1l1 0m-.3-.8l1 0m-.4-.7l1 0m1.2 .6l1 0m.8 .4l1 0m1.9-.4l1 0m.7-.8l1.3 1.5 1.1 1.3m-.7-2.6l1 0m-.2 0l1 0m.1-.2l1.3 1.5 1.1 1.3m.3-2.5l1 0m1.3 0l-2 2.6m8.9-3.1l1.3 1.5 1.1 1.3m-1.3-3.2l1 0m1.6 .7l1 0m1.4-.1l1 0m-.7 1.4l1 0m-.9 .3l1 0m-.8-.9l1.3 1.5 1.1 1.3m-1-3.3l1 0m1.1-1.6l1 0m-.9 2.9l1 0m-1-.1l1 0m.3-.9l1 0m-.8-.5l-2 2.6m2.8-1.5l1 0m-.6-1.1l1.3 1.5 1.1 1.3m-.2-2.2l1 0m-.9 .9l1 0m-.1-1.1l1.3 1.5 1.1 1.3m-.9-2l1 0m.6-1.5l1.3 1.5 1.1 1.3m-.8-3.5l1 0m-.8 .8l1 0m-.1 .7l1 0m-1-1.8l1 0m1 2.8l1 0m-.6-1.1l-2 2.6m2.7-2.4l1 0m1.5 .8l1 0m-.9-1.2l1 0m.5 0l1.3 1.5 1.1 1.3m-2.2-2.5l1 0m.7 .3l1 0m0 .1l1 0m1.7-.6l-2 2.6m2.9-2.5l1.3 1.5 1.1 1.3m-.4-1.6l1 0m.2-2.8l1 0m.6 .5l1 0m-.7-.1l1 0m-.4 .7l-2 2.6m2.1-2.2l1.3 1.5 1.1 1.3m-1.4-1.8l1 0m1-.3l1 0m-.8-.5l1 0m0-.3l1.3 1.5 1.1 1.3m.1-4.2l1 0m2.8 2.7l1 0m-.4-1.1l1 0m1-.1l1.3 1.5 1.1 1.3m-1.7-4l1 0m.5 1.5l1 0m-113.3 3.5l1 0m.1-2.1l1 0m.3-.1l1 0m-.3 2.4l-1.6 1.6 1.6 1.6m.7-3.9l1 0m.4 0l1 0m0-.8l1 0m-.7-.1l1 0m.4 .7l1 0m-.9-.1l1 0m.9 .9l1 0m-.6-2.3l1 0m-.1 0l1 0m-.2 .8l1 0m-.4-.3l1 0m-.9 1.4l-1.6 1.6 1.6 1.6m.8-5.1l1 0m-.5 .9l1 0m4.2 1l1 0m1.7-2l1 0m-.1 2.6l1 0m.9-2l1 0m-.6 1.1l-1.6 1.6 1.6 1.6m.2-3.6l1 0m-.9-.8l1 0m1.2 1.6l1 0m1.3-.7l1.4 1.5 1.2 1.4m-2.3-3.7l1 0m.3 .6l1 0m-.2-.8l1 0m-.8 1.2l1 0m2.4-.3l1 0m-.4-1.1l1 0m-1 1.6l1.4 1.5 1.2 1.4m-2.3-3.9l1 0m.7 1.4l1 0m.3-1.9l1 0m-.7 .9l1 0m-.7 .7l1 0m.2-.3l1 0m3.1-.3l1 0m1.2-1.4l1 0m-.3 .7l1 0m.3 .2l1 0m2 .9l1 0m-.8-1l1 0m.1-.5l1 0m-.8 .7l1 0m-.3-.8l1 0m2.5 2.1l1 0m-.1-1l1 0m-.8-.5l1 0m.6-.7l1 0m-.9 2.4l1 0m-.2-1.9l1 0m0-.1l1 0m-.7-.3l1 0m-.6-.3l1 0m.9 2.7l1.4 1.5 1.2 1.4m-2.1-3.9l1 0m3.5 .4l1 0m-.1-1.6l1 0m2.5 1.1l1 0m-.4-.5l1 0m.4 .9l-1.6 1.6 1.6 1.6m.5-3.3l1 0m1.1-.3l1 0m.1-.3l1 0m-.4 .3l1 0m2.7-1.3l1 0m-.4 2.4l1 0m-.5-1.1l1 0m1-.2l1 0m-.8 0l1 0m-.9 .8l1 0m.4-1.6l1 0m-.6 1l1 0m.4 .3l1 0m0 .2l1 0m7-1.3l1 0m-1-.3l1 0m.1 1.2l1 0m1-1.6l1 0m-1 2.5l1 0m3.1-2.6l1 0m-108.9 4.5l1 0m-.1 1l1 0m-.7 .2l1.4 1.5 1.2 1.4m-.4-3.1l1 0m.4-1.7l1 0m-.3 .8l1 0m.4-1.3l1 0m-.1 2l1 0m-.9-.1l1.4 1.5 1.2 1.4m1.5-2.2l-1.6 1.6 1.6 1.6m.9-6.1l1 0m.1 2l1.4 1.5 1.2 1.4m-2-2.5l1 0m3.3-.1l-1.6 1.6 1.6 1.6m.6-3.2l1 0m-.4-.5l1 0m-.4 .4l1 0m1.8-.7l1 0m-.7 .5l1.4 1.5 1.2 1.4m0-2.4l1 0m-.4-.1l1.4 1.5 1.2 1.4m-.8-2.6l1 0m1.2-1.3l1 0m-.3 .9l-1.6 1.6 1.6 1.6m1.2-3.3l1 0m-.6 .6l1 0m-.6-1.5l1 0m.1 1.4l1 0m-.8-1.4l1 0m-.9 1.2l-1.6 1.6 1.6 1.6m1.3-3l1 0m-.8 .1l1.4 1.5 1.2 1.4m-2.5-5.2l1 0m1.6 2.4l1.4 1.5 1.2 1.4m-1.6-4.2l1 0m1.4 .4l1.4 1.5 1.2 1.4m-1.7-2.6l1 0m.8-.8l1 0m1.9 1.5l1 0m-.4-.6l1.4 1.5 1.2 1.4m-1.4-4.2l1 0m1.3-.2l1 0m4.4-.8l1 0m-.9 2.8l1 0m1.2-1.1l1 0m-.6-.9l1 0m.7 .3l1 0m1.1 .1l1 0m1.2 1.5l1 0m-.8-.1l-1.6 1.6 1.6 1.6m2.2-4l1.4 1.5 1.2 1.4m-.7-2.4l1 0m-.4-1.1l1 0m5.2 .8l1.4 1.5 1.2 1.4m-.3-4.3l1 0m.2 1.9l1.4 1.5 1.2 1.4m-.8-2.7l1 0m-.7-.2l1 0m-.7-.5l1 0m-.2 .4l1 0m4.4 .4l1 0m.4-.7l1 0m-.9 .1l1 0m0 .5l1 0m-.4-2.7l1 0m-.8 2.1l-1.6 1.6 1.6 1.6m.1-4l1 0m-.9-1.3l1 0m-.8 2.9l1 0m.3-.6l1.4 1.5 1.2 1.4m-1.5-3.2l1 0m.8 .2l1.4 1.5 1.2 1.4m-2.2-4.8l1 0m1.9 1.9l1.4 1.5 1.2 1.4m-2.6-4.4l1 0m-.7 1.9l1 0m-.2-1.7l1 0m.5 .6l1 0m-1-1.3l1 0m-.4 2.3l1.4 1.5 1.2 1.4m-2.6-3.3l1 0m2.6 .8l1 0m-.2-.8l1 0m-1 0l-1.6 1.6 1.6 1.6m2.4-4.5l1 0m.8 1.4l1 0m-113.6 2.3l1 0m-.9 .1l1 0m.4-1.4l1 0m-.8 .8l1 0m2 .2l1 0m-.4-.7l1 0m-.5 .1l1 0m-.4 1.5l1 0m1.3-1.9l1 0m-.3 .1l1 0m-1 1.9l-1.6 1.6 1.6 1.6m.5-4.1l1 0m0-1l1 0m-.6 .6l1 0m1.2 .6l1 0m.5 1.1l1 0m-.9-2.2l1 0m1.2 .2l1 0m-.2-.4l1 0m0 1.8l1 0m-1 .9l1 0m-.4-1.1l1 0m-.9-.3l1 0m-.2-.6l1 0m-.5 .4l1 0m2.2-.9l1 0m-.8 .8l1 0m-.1-1.1l1 0m2 1.7l1 0m.1-1l1 0m-.9-.6l1 0m-.5 2.4l1.4 1.5 1.2 1.4m-2.5-3.7l1 0m4.3-1.7l1 0m-.3 1.4l1 0m.3 .7l-1.6 1.6 1.6 1.6m.5-3.4l1 0m3.1-.5l1 0m3.1-1l1 0m-1 .8l1 0m-.1 .5l1 0m2.3-1.1l1 0m-.2 1.1l1 0m1.4 .1l1 0m-.9 .1l1 0m-.7 .6l1 0m.4-.9l1 0m-.2-1.6l1 0m-.7 1.5l1 0m-.2-.1l1 0m1.2-.5l1 0m.2-.3l1 0m.5 .2l1 0m-.5-.1l1 0m-.4 2.1l1 0m-.2 0l1 0m0-.6l1.4 1.5 1.2 1.4m-1.8-3l1 0m.2-.1l1 0m-.2-.8l1 0m-.8-.7l1 0m-.7 1.9l1 0m.3-1.9l1 0m-.7 .9l1 0m-.8 .4l1 0m1.9-1.9l1 0m.6 1.4l1 0m-.1-.2l1 0m-.5 .1l1 0m1.6-.7l1 0m-.6 .9l1 0m.1 .9l1 0m2.4-.8l1 0m.8-.9l1 0m-.8-.2l1 0m-.1-.6l1 0m1.5 2l1 0m1.4-.8l1 0m1.7-.5l1 0m-.4 .2l1 0m3.3 .8l1 0m-.4-1.3l1 0m1.8 2l1 0m-.2-.7l1 0m-.3-.4l1 0m-.8 .9l1 0m.5 .8l1 0m-.1-1.7l1 0m.5 0l1 0m-.8-.2l1 0m-.5 0l1 0m.2 .2l1 0m-.7-.6l1 0m-112.2 3.9l1 0m-.5 1.3l1 0m-1-.7l1 0m.8-.1l1 0m2.9 .7l1 0m3.8-1.8l1 0m8.3-.9l-1.6 1.6 1.6 1.6m.8-3.3l1 0m-1 2l1 0m.3 .7l1 0m1.6 0l1 0m5.6-2.1l1 0m-.1 .9l1 0m0-.6l1 0m4.6 2l1 0m1.6 0l1 0m.1-.1l1 0m.4-2.7l1.4 1.5 1.2 1.4m1.6-2.5l-1.6 1.6 1.6 1.6m1.3-2.4l1 0m1.1 1l1 0m.6-1.3l1 0m-.7 1.9l1 0m-.9-2.6l1 0m3.3-.1l1 0m1.4 2.6l1.4 1.5 1.2 1.4m-.6-4.1l1 0m0 1.1l1 0m9.6-2.2l1 0m.4 .6l1 0m-.2 1.3l1 0m.8 .3l-1.6 1.6 1.6 1.6m1.4-3l1.4 1.5 1.2 1.4m1.4-3.2l1 0m1-1.4l1 0m2.1 1.8l1.4 1.5 1.2 1.4m5.2-3.4l1 0m2.3-1.5l1 0m9.7-.1l1 0m-112.1 2.4l1.4 1.5 1.2 1.4m-1.1-1.6l1 0m.5-1.6l1 0m.1 .3l1 0m0 .3l-1.6 1.6 1.6 1.6m.1-1.4l1 0m.1-1.5l1 0m2.8-.4l1 0m13.7 2l1 0m3.9-2.2l1 0m-.5-.2l1 0m-.3 1.6l1 0m-.3 .5l1 0m-.7-1.8l1.4 1.5 1.2 1.4m-2.3-1.3l1 0m-.8-1.1l1 0m.1 .3l1 0m.1-.9l1.4 1.5 1.2 1.4m-2-2.2l1 0m3.5 1.2l1 0m-.3 .1l1 0m-.7-1.6l1 0m-.4-.4l1.4 1.5 1.2 1.4m.9-1.1l1 0m-.9-1.5l1.4 1.5 1.2 1.4m1-2l1 0m2-.7l1 0m-.7-.3l1 0m-.7 1.5l1 0m.7-.1l1 0m-.9-.8l1 0m.8 1.9l1 0m-.6-2.6l1 0m1.7 .4l-1.6 1.6 1.6 1.6m2.7-2.3l1 0m2.1-1.3l1 0m.2 .5l1 0m3.2 1.4l1 0m-.9-.8l1 0m0 .7l1 0m1-.5l1 0m-.9-.2l1 0m.5-.1l1 0m2 .6l1 0m-.3 .3l1 0m-.9-1l1 0m4.8-.6l1 0m-.3 1.4l1 0m.7-1.4l1.4 1.5 1.2 1.4m-2.4-3.1l1 0m-1-.1l1 0m1 .2l1 0m3 1.5l1 0m3.1-1.9l-1.6 1.6 1.6 1.6m3.6-1.5l1 0m-.5-1.6l-1.6 1.6 1.6 1.6m2.9-1.3l1 0m1.8-2.2l1 0m-1 1.4l1 0m-.7 0l1 0m.5-.2l1 0m.9 1l1 0m-.9-2.1l-1.6 1.6 1.6 1.6m0-2.2l1 0m-108.1 3.2l1 0m2.6-.7l1 0m17.1 1.3l1 0m.8-1.5l1 0m.1 .8l1.4 1.5 1.2 1.4m.1-1.4l1 0m1.1-2.1l1 0m2.6 .4l1 0m.5 .1l1.4 1.5 1.2 1.4m-.9-1l1 0m0-1.1l1 0m5.3 1l1 0m4.4-.1l1 0m-.9-2.1l1 0m1.9-.5l1 0m1.6 1.1l1 0m1.9-.4l1 0m4.9-.1l1 0m.5-.2l1 0m1.2-.2l1 0m.8 1.2l1 0m9.9 1.2l1 0m5.1 0l1 0m3.4-2l1 0m5.6 .1l1 0m7.1 2l1 0m0-1.4l1 0m-104.9 3.6l1 0m.8-.9l-1.6 1.6 1.6 1.6m2.4-4.2l1 0m13.6 2.2l1 0m-.5-2.3l1 0m.8 1.2l-1.6 1.6 1.6 1.6m.9-1.9l1 0m.5 .2l1 0m5.8-2.2l1 0m-.9 .4l1 0m.4-.9l1 0m-.6 2.4l1 0m-.5-.8l1 0m-.9-1.3l1 0m.9 2.3l1 0m1.7-.3l1 0m1.3-1.9l1.4 1.5 1.2 1.4m2.1-3.2l1 0m-.7 1.9l1 0m-.7-.8l1.4 1.5 1.2 1.4m-2.1-1.7l1 0m1.4-.4l1 0m.4-.2l1 0m-.9-1.4l1 0m.4 .9l1 0m-.4 .1l1 0m-.9-.5l1.4 1.5 1.2 1.4m.5-3.3l1.4 1.5 1.2 1.4m-1-2.9l1 0m-.9 0l1 0m-.8-.5l1 0m-.7 2.7l1 0m-.6-1.5l1 0m-.4-.3l1 0m.8 .1l1 0m0-.9l1 0m1.8 1.7l1 0m-.7-.5l1 0m0-.4l1 0m.4 1.7l1 0m4.3-2.3l1 0m1.7 .5l1.4 1.5 1.2 1.4m2.2-1.4l1 0m-.9-1.5l-1.6 1.6 1.6 1.6m.9-1.3l1 0m-.9-2.7l1 0m.6 2.7l1 0m-.7-1.1l1 0m.2 .7l1 0m-.9-.2l1 0m-1-.7l1 0m.2-.9l1 0m.5 1.8l1 0m-.6-.1l1 0m2.5-1l1 0m1.8 1.4l1 0m-.7-1.2l1 0m-.2 .3l1 0m-.7-1.1l1.4 1.5 1.2 1.4m.5-2.4l1.4 1.5 1.2 1.4m1.1-2.2l1 0m-.8-.3l1 0m.6-1.6l1 0m-.1 1.4l1.4 1.5 1.2 1.4m-1.6-2.2l1 0m-.4-1.8l1 0m1.2 .6l1 0m-108.3 3.5l1 0m.8-.7l1 0m1.9 .4l1 0m0-.1l1 0m11.5 1.7l1.3 0m1.4 0l1.3 0m6.8-.5l1 0m1.2-1.8l1 0m.5-.3l1 0m2.5 .2l1 0m2 2.4l1.3 0m-1.2-2.1l1 0m3.1 .5l-1.6 1.6 1.6 1.6m.1-3.4l1 0m3.2 .5l1 0m6.8 1.3l1.3 0m.5 0l1.3 0m1.5 0l1.3 0m.8 0l1.3 0m.3-2.4l1 0m-.4 2.4l1.3 0m6.1-2.3l1 0m.9-.3l1 0m4.1 1.7l1 0m.6 .1l1 0m.7-.7l-1.6 1.6 1.6 1.6m.2-4.3l1 0m1.3 2.7l1 0m-.4-.8l-1.6 1.6 1.6 1.6m1.1-2.9l1 0m10.5 .3l1 0m0-.7l1 0m4-1.3l1 0m-.6 .2l1 0m1.1-.3l1 0m4.1 .8l-1.6 1.6 1.6 1.6m.9-1.9l1 0m-.7-1.3l1.4 1.5 1.2 1.4m-1.1-1.9l1 0m-.1 .7l1 0m-115.7 1.3l1 0m-.6-1l1 0m-.9 1.5l1 0m.1-.2l-1.6 1.6 1.6 1.6m.4-4.3l1 0m-.7 .3l1 0m-.5 1l1 0m-.8-1.1l1 0m.6 .2l1 0m-.1-.6l1 0m.1 1.1l1 0m-.4 1.5l1 0m-.3-.1l1 0m-1-1.7l1 0m4.7 1.3l1.3 0m1.5 0l1.3 0m.7 0l1.3 0m3.7-1.4l1.3 0m.7 1.4l1.3 0m1 0l1.3 0m-1.2-1.2l1 0m-.9 1.3l1 0m-.6-1.5l1.3 0m.4 1.4l1.3 0m-.9-1.4l1.3 0m.6 0l1.3 0m.6 1.4l1.3 0m-.3-.1l1 0m.3 .2l1 0m-.4-1.2l1 0m.9 1.1l1.3 0m-.7-.1l1 0m-1 .6l1 0m.9-.5l1.3 0m.8 0l1.3 0m-.6-1.4l1.3 0m1.1 0l1.3 0m.2 1.4l1.3 0m3.6-1.4l1.3 0m.9 1.4l1.3 0m-1-1.4l1.3 0m2.8 1.4l1.3 0m1.7-1.4l1.3 0m-.3 1.8l1 0m-.5-.4l1.3 0m-.8-1.4l1.3 0m3.5-.9l1 0m.6 2.3l1.3 0m-1.2-1l1 0m10.7 0l1 0m.6-.3l1 0m.9 .3l1 0m-.7 .3l1 0m.2 .6l1 0m0 0l1 0m0-2.3l1 0m-.6 2.6l1 0m-.2-.9l1 0m2.3 .9l1 0m1-.5l1.4 1.5 1.2 1.4m-1-4.8l1 0m5.5 1.6l-1.6 1.6 1.6 1.6m1.9-4.5l1 0m.5 1.6l1 0m3.4-.2l1 0m2.5-.9l1 0m.2 1.4l1 0m-119.5 2.9l1 0m-.9 .3l1 0m-.1-.1l1 0m-.6-1.3l1 0m.4-1.1l1 0m-.1 1.5l1 0m.4 1.1l1 0m-.5-.7l1.4 1.5 1.2 1.4m-2.4-4.7l1 0m.5 .6l1 0m.8 .7l1 0m.2-.3l1 0m2.1-.5l1.3 0m.6 0l1.3 0m.9 1.4l1.3 0m-1-1.4l1.3 0m2.4 1l1 0m-.3-1l1.3 0m-.2 1.2l1 0m-.1 .2l1.3 0m.4 .1l1 0m.2-1.5l1.3 0m.6 0l1.3 0m-1-.1l1 0m-.8 2.1l1 0m1.2-2l1.3 0m.7 1.4l1.3 0m-1.2-1.4l1.3 0m1 0l1.3 0m.4 1.4l1.3 0m-.4-1.4l1.3 0m2.7 1.4l1.3 0m1.2 0l1.3 0m.5 0l1.3 0m-.4-1.4l1.3 0m.2 1.4l1.3 0m1.5 .6l1 0m-.9-2l1.3 0m2.9 1.4l1.3 0m-1-1.4l1.3 0m.6 1.4l1.3 0m.7-1.5l1 0m-.5 .1l1 0m1.1 1.4l1.3 0m.7-1.7l1 0m-.7 1.7l1.3 0m-1.2 .4l1 0m-.2 .1l1 0m-.3-2.3l1 0m.6 2.5l-1.7 2.2 1.7 2.2m1.4-5.1l1.3 0m-.8-1.4l1.3 0m.1-.1l1 0m-.9 2.3l-1.7 2.2 1.7 2.2m.2-5.2l1.3 0m-.6-1.4l1.3 0m14.6 1.3l1 0m.8 .6l1 0m-.9-.5l1 0m-.6-.1l1.4 1.5 1.2 1.4m-.7-3.8l1 0m-.9 .3l1 0m.4-1.2l1 0m3.3 .3l1 0m-1 .6l1 0m2.5 1.4l1 0m3.2 .2l1 0m-.2-1l1.4 1.5 1.2 1.4m-1.2-3.9l1 0m-.9-.1l1 0m-.9 .3l1 0m2.6 1.1l1 0m.4-.1l1 0m3.7 .1l1 0m.6 .5l1 0m-119.3 2.2l1 0m-.1-1l1 0m.3-.5l1 0m0 2l1 0m3.9 0l-1.6 1.6 1.6 1.6m1.2-5.2l1 0m-.9 .8l1 0m-.7 .6l1 0m1.7 .3l1 0m.6-1.6l-1.7 2.2 1.7 2.2m3.5-4.6l-1.7 2.2 1.7 2.2m5.6-2.2l1 0m21.1-2l-1.7 2.2 1.7 2.2m3.5-4.4l-1.7 2.2 1.7 2.2m.8-4.4l1 0m-.9 2.3l1 0m12.3-2.4l-1.7 2.2 1.7 2.2m.4-2.8l1 0m1.5-.4l1 0m3.3 .3l1 0m2.4-1.4l-1.7 2.2 1.7 2.2m2.4-2.3l1 0m-.1-2.4l-1.7 2.2 1.7 2.2m6.3-1.5l1 0m1.3-1.8l1 0m3.1 .8l1 0m1.5-.7l1 0m-.9 1l1.4 1.5 1.2 1.4m-1.9-4.9l1 0m.5 1.6l1 0m4.1-1.4l1 0m-1 0l1 0m3.9 1.8l1 0m-.9-.7l1 0m3.3 .7l1.4 1.5 1.2 1.4m-2.5-5l1 0m-.1 1.4l1 0m4.5 .3l1 0m1.3 .2l1 0m1.3 .2l-1.6 1.6 1.6 1.6m.8-3.5l1 0m-117.8 2.1l1 0m-1-.5l1 0m-.5 0l1 0m1.5 1.7l1 0m10.9-1.1l1 0m4.6-.3l1 0m-.9 .2l1 0m-1 .5l-1.7 1.9 1.7 1.9m5.7-3.3l1 0m.4-.3l-1.7 1.9 1.7 1.9m4.6-3.6l1 0m3 .8l1 0m1-1.4l-1.7 1.9 1.7 1.9m3.3-3.4l-1.7 1.9 1.7 1.9m1.2-3.2l1 0m1.3-.6l-1.7 1.9 1.7 1.9m10.2-5.2l1 0m6.3 .1l1 0m2.9 .9l-1.7 1.9 1.7 1.9m3.4-3.4l-1.7 1.9 1.7 1.9m3.3-4.1l-1.7 1.9 1.7 1.9m.7-3.9l1 0m5.2-.4l1 0m3.6 1.4l1 0m-.6-1.2l1 0m3.9 .5l1 0m-.5 1.3l-1.6 1.6 1.6 1.6m2.7-3.2l-1.6 1.6 1.6 1.6m.7-5l1 0m1.3 1.2l1 0m-.2-1l1 0m2.4 0l1 0m.8 .6l1 0m.5 .1l1 0m-.7-.1l1 0m-.4 .7l1 0m-.2-.5l1 0m-.4-1.6l1 0m-.4-.3l1 0m-.1 .5l1 0m-.9 1.3l1 0m-1-.9l1 0m-.8 .2l1 0m-.4 1.6l1 0m.5-2.4l1 0m2.4 .1l1 0m-.2-.5l1 0m-.6 2.7l1 0m-110.5 .3l1 0m4 2.8l-1.7 2.2 1.7 2.2m3.4-7.2l1 0m-.6 2.8l-1.7 2.2 1.7 2.2m4.6-7.1l1 0m2.3 1.5l1 0m.8-1.7l1 0m-.3 2.6l-1.7 2.2 1.7 2.2m.9-4.5l1 0m-.4 .3l1 0m-.5-2l1 0m.5 1.9l-1.7 2.2 1.7 2.2m3.4-4.5l1 0m-.8-2.1l1 0m2.5 2.4l-1.7 2.2 1.7 2.2m3-4.5l-1.7 2.2 1.7 2.2m.1-4.2l1 0m1.1-.4l1 0m3.6-2l1 0m3.2 2.4l-1.7 2.2 1.7 2.2m5.8-4.5l1 0m.2-.5l1 0m-.9 .4l-1.7 2.2 1.7 2.2m.9-6.9l1 0m2.1 .3l1 0m1.5 2l-1.7 2.2 1.7 2.2m7.4-4.3l-1.7 2.2 1.7 2.2m2.4-5.1l1 0m1.3-1.8l1 0m1.5 .5l1 0m3.3-.1l1 0m.1-.6l1.4 1.5 1.2 1.4m-2.2-2.3l1 0m-.8 0l1 0m.3 1.6l1 0m1-1.2l1 0m1.7-.8l1 0m-.9 2.6l1 0m2.2-1.4l1 0m6.1-.6l1 0m5.4 1.2l1 0m-1 .9l1 0m1.8-.1l1 0m0-.4l1 0m1.8-2.1l-1.6 1.6 1.6 1.6m1-1.3l1 0m.8-2.1l1 0m3.1 1.1l1 0m-112.8 2.8l1 0m.1 .4l1 0m.4 .3l1 0m3.3-1.6l1 0m1.9-.1l-1.7 2.2 1.7 2.2m3.5-4.4l-1.7 2.2 1.7 2.2m3.5-3.1l1 0m2.9-.6l1 0m-.2 0l1 0m0 2.1l1 0m1-.2l1 0m10.3-.9l1 0m.4-.9l1 0m6.6-.8l-1.7 2.2 1.7 2.2m11.9-3l1 0m3-.4l1 0m.5 .7l1 0m.8-1l1 0m.4 .4l1 0m5 1.8l1 0m7.3-1l1 0m-.6-.1l1 0m.2-1l1 0m1.2 1.9l1 0m.1-1.2l1 0m.4 1l1 0m2.3-.4l1 0m-.5 .7l1 0m4.1-1.2l1 0m-.4 .9l1 0m-.5-1.8l-1.6 1.6 1.6 1.6m7.5-1.8l1 0m4.2-1l1 0m.8-.3l1.4 1.5 1.2 1.4m-109.1 1.9l1 0m5-1.2l-1.7 1.9 1.7 1.9m.2-2.7l1 0m5.8-1.5l-1.7 1.9 1.7 1.9m1.6-2.9l1 0m.9-1.6l1 0m-.7 2.1l1 0m.6-.7l1 0m.8-.6l-1.7 1.9 1.7 1.9m3.4-3.6l-1.7 1.9 1.7 1.9m3-3.9l-1.7 1.9 1.7 1.9m3.7-3.9l-1.7 1.9 1.7 1.9m1.5-2.3l1 0m-.6-2.3l1 0m1 2.6l1 0m3.7-1.5l1 0m.4 .2l1 0m3.4-.4l-1.7 1.9 1.7 1.9m6.5-4l-1.7 1.9 1.7 1.9m1.7-4.2l1 0m1.1 .8l-1.7 1.9 1.7 1.9m1.4-5l1 0m0 .7l1 0m3.1-.1l1 0m-.8 .2l-1.7 1.9 1.7 1.9m3.6-3.6l-1.7 1.9 1.7 1.9m.6-4l1 0m.7 .9l1 0m1.7 .3l1 0m1.3 .6l1 0m2.9-2.4l1 0m2 .8l-1.6 1.6 1.6 1.6m.9-4.3l1 0m1 1l-1.6 1.6 1.6 1.6m1.3-2.7l1 0m-1 0l1 0m.3 .5l1 0m-.7-1.8l1 0m-.2 1.2l1 0m.4 1.2l1 0m3.9-1.2l1 0m.1 1.1l1 0m.2 .4l1 0m-.6-1.2l1 0m-.5 .2l1 0m-1-.9l1 0m1.5-.1l1 0m-.3 2l1 0m-.2-1.1l1 0m1.3-.7l1 0m.7 .1l1 0m-.6-.5l-1.6 1.6 1.6 1.6m.5-2.6l1 0m.5-.9l1.4 1.5 1.2 1.4m-1.3-1.6l1 0m-.2 1.1l1 0m-106.1 1.4l1 0m1.2 1l1 0m-.7-.5l1 0m3.9 .3l1 0m3.6-2.1l1 0m7.7 .5l1 0m11.7 1l1 0m3.1 .3l1 0m-.4-.7l1 0m4 .1l1 0m11 1.2l1 0m7.4-.2l1 0m.9-.7l1 0m1.5 .3l1 0m6.4-1.4l1 0m2.3 2.5l1 0m-.4-2.2l-1.6 1.6 1.6 1.6m.8-3l1 0m1.7 .3l-1.6 1.6 1.6 1.6m7.2-3.4l1 0m0 1.8l1 0m-.1-2.6l1 0m0-.1l1 0m-.5 1.3l1 0m.9-.4l1 0m2.7 2l1 0m-1-1.5l1 0m2.2 1l1 0m3.1-2.4l1 0m-107.2 2.9l1 0m1 .3l1 0m-1 .5l1 0m.5 .7l1 0m-.3-.6l1 0m0 .1l1 0m1.2 1.1l1 0m.5-.4l-1.6 1.6 1.6 1.6m1.4-2.9l1.4 1.5 1.2 1.4m.7-3.4l1 0m-.1 .9l1 0m-.8-2.3l1 0m-.9 1.8l1 0m2.2 .7l1 0m-.9-.9l1 0m.7 .1l1.4 1.5 1.2 1.4m-1.5-2l1 0m1-1.5l1 0m.3 1.6l1 0m2.3-1.7l-1.6 1.6 1.6 1.6m3-2.7l1 0m-.7 .5l1 0m-.2-1.4l1 0m4.9 0l1 0m-1 .8l1 0m1.6 1.4l1 0m1.1 0l1 0m.1-2.7l1 0m-.7 1.7l1 0m.1 .3l1 0m-.5-.2l1 0m.2 0l1 0m2.6-.9l-1.6 1.6 1.6 1.6m.5-2.4l1 0m-.9-1.3l1 0m-.4 .8l1 0m1.9-1.4l1 0m1.2 1.3l1 0m-1 .8l1 0m-.7-1.6l1 0m17.5 2.5l1 0m2.1-2.5l1 0m1 1.4l1 0m2.4 1.1l1 0m3.2-1.4l1 0m3.3 .7l1 0m.3-1.2l1 0m2.9 .3l1 0m.1 .6l-1.6 1.6 1.6 1.6m2.9-3.6l1 0m.7-.2l1 0m-.7 .1l1 0m-.4 1.4l1 0m-96.1 2.8l-1.6 1.6 1.6 1.6m1.3-3.9l1.4 1.5 1.2 1.4m-2.2-4.2l1 0m-.8-.3l1 0m-.1 .5l1 0m-.8-.8l1 0m.8 2.3l1.4 1.5 1.2 1.4m-2.2-4.9l1 0m-.5 1.7l1 0m.9 .8l1 0m.4-.1l1 0m-.9 .1l1 0m-.9-2.5l1 0m1.2 .4l1 0m-.7 .4l1 0m-.9 1l1 0m.6-1.8l1 0m-.6 1.5l1 0m.2-.4l1 0m-.3 .3l1 0m-.7 .8l-1.6 1.6 1.6 1.6m.1-4.5l1 0m-.1-.4l1 0m-.3 .8l1 0m1 .5l-1.6 1.6 1.6 1.6m1-3.4l1 0m-.9-.1l1.4 1.5 1.2 1.4m-1.2-2.9l1 0m2.2 .7l-1.6 1.6 1.6 1.6m6.4-3l1 0m-.8-2l1 0m-1 0l1 0m2.2 1l-1.6 1.6 1.6 1.6m.5-2.8l1 0m-.8-1.8l1 0m-.4 .6l1 0m.1 .6l1 0m1.1 .6l1.4 1.5 1.2 1.4m-1.5-4.4l1 0m.1 .6l1 0m2 1.1l-1.6 1.6 1.6 1.6m.6-4.1l1 0m-.5-.9l1 0m-.3 2.1l1 0m.6-.4l1 0m-.9-.4l-1.6 1.6 1.6 1.6m1.7-3.3l1.4 1.5 1.2 1.4m-1.7-3.9l1 0m-.3 1.7l1 0m-.9-1.3l1 0m-.2-.2l1 0m1.1 0l1 0m1.1-.8l1 0m1.8 2.3l1.4 1.5 1.2 1.4m-.7-5.3l1 0m4.2 2.6l-1.6 1.6 1.6 1.6m1.2-4l1 0m7.4 .5l1 0m5.8-2l1 0m0 .9l1 0m4.6 .5l-1.6 1.6 1.6 1.6m-103.5 .5l1 0m.4-.3l-1.6 1.6 1.6 1.6m1.5-3.1l1.4 1.5 1.2 1.4m1.6-2.8l1 0m-.2 0l1 0m3.7 .6l1.4 1.5 1.2 1.4m-2.4-5l1 0m-.6 1.1l1 0m-.7 .5l1 0m-.9 .3l1 0m-1-2.2l1 0m.5 .5l1 0m-.7 1.6l1.4 1.5 1.2 1.4m-2.2-3.9l1 0m.6 .4l1 0m-.8-.2l1 0m-.5 1l1.4 1.5 1.2 1.4m-.4-3l1 0m1.3-.9l1 0m3.2 .8l1 0m0-2l1 0m-.9-.1l1 0m-.6 2.1l1 0m.3 .2l-1.6 1.6 1.6 1.6m0-4.5l1 0m4.3-1.4l1 0m3 2.7l-1.6 1.6 1.6 1.6m.1-5.1l1 0m-.6 1.7l1 0m.4-.1l1 0m-.2-.3l1 0m.5 .3l1 0m-1-.8l1 0m4.7-1.8l1 0m-.5 .3l1 0m-.4 .4l1 0m-.5 1.2l1 0m-.8 .8l1.4 1.5 1.2 1.4m.7-2.6l1.4 1.5 1.2 1.4m-1.9-4.9l1 0m.6-.2l1 0m-.7 .5l1 0m-.8 .9l1.4 1.5 1.2 1.4m-1.9-2.6l1 0m.1-2l1 0m1.4 2l1 0m3.1-.3l1 0m-.7 .5l-1.6 1.6 1.6 1.6m.6-5.3l1 0m-.4-.4l1 0m-.9 .7l1 0m-.7 1.2l1.4 1.5 1.2 1.4m-.3-3l1.4 1.5 1.2 1.4m-1.6-2.4l1 0m-.9-1.6l1 0m-.8 .6l1 0m0 .6l1 0m-.5-1.7l1 0m5.2-.1l1 0m.1 2.2l1 0m-.8-1.7l1 0m-.8 .6l1 0m.2 1.3l-1.6 1.6 1.6 1.6m1.3-5.3l1 0m3.7 2.4l-1.6 1.6 1.6 1.6m9.8-3.4l1 0m-1-.6l1 0m4.4 .3l1 0m-121.5 3.1l1 0m3.2 .3l1 0m1.2 0l-1.6 1.6 1.6 1.6m2.1-3.7l1 0m0-.2l1 0m4.3 .6l1 0m-.8-.5l1 0m-.7-1.4l1 0m-.2 .3l1 0m-.2-.7l1 0m1.8 1l1 0m.5 .5l1 0m.4-1.9l1 0m-.6 2.8l-1.6 1.6 1.6 1.6m1.9-3.7l1 0m5.3-1.7l1 0m-.7-.2l1 0m-.1 1.7l1 0m2.2-1.8l1 0m3.7-.3l1 0m-.9 2.5l1.4 1.5 1.2 1.4m0-3.1l1.4 1.5 1.2 1.4m-1.2-2.8l1 0m-.7-1.8l1 0m-.3-.5l1 0m-.1 .3l1 0m-.8 1.8l1.4 1.5 1.2 1.4m1.5-5.1l1 0m-.6 .7l1 0m2.8 1.8l-1.6 1.6 1.6 1.6m1.2-5l1 0m.6 1.4l1 0m.3-.3l1 0m.7-.1l1 0m-.2 .9l-1.6 1.6 1.6 1.6m1-3.7l1 0m7.7-2.2l1 0m.3 2.9l1 0m.2-2.3l1 0m1 1.8l1 0m.7-2l1 0m-.4 2l1 0m3-2.3l1 0m-.7 2.8l1 0m-.3 .1l1 0m-.9-1.2l1 0m-.2-.4l1 0m3.1 1.1l1.4 1.5 1.2 1.4m-.7-3.2l1 0m-.7-2l1 0m8.8 2.1l1 0m-.3 .6l1 0m2.3-.5l1.4 1.5 1.2 1.4m1.2-4.6l1 0m0-.3l1 0m-.9 1.6l1 0m.4-.1l1 0m-108.3 1.6l1 0m-.2-.1l1 0m3.5 .8l1 0m.5 .6l1 0m5.3 1.1l1 0m2.5-2.7l1 0m0 1.8l1 0m.8-1.1l1 0m4.9 .3l1 0m.7 1.4l1 0m-.3-1.6l1 0m-.5 .4l1 0m2.8 .9l1 0m.2-2.1l1 0m1.1 .1l1 0m2.8 1.2l1 0m2.5 .5l1 0m1.7-.4l1 0m1.2 .1l1 0m.3 .8l1 0m-.7-.7l1 0m.1 .2l1 0m.5-.2l1 0m0-1.8l1.4 1.5 1.2 1.4m.1-.2l1 0m13.6-2.2l1 0m1-.1l1 0m-.4 .4l1 0m-.8 .8l1 0m2.2 .4l1 0m-.5 .2l1 0m-.6 .1l1 0m-.7-.6l1 0m-.1-.7l1 0m-.3-.2l1 0m-.5 1.6l1 0m1.1-2.1l1 0m-.9 0l1 0m-.8 .5l1 0m4.3 .8l1 0m-.8-1.5l1 0m6.5 1l1 0m5.9 1l1 0m3-.2l1 0m-.7-1.5l-1.6 1.6 1.6 1.6m1.7-3.2l1 0m.2 2.4l-1.6 1.6 1.6 1.6m1-5.2l1 0m1.4 .5l1 0m-1-.7l1 0m1-.5l1 0m0 2l1 0m3-.2l1 0m-104.9 1.7l1 0m2.7 .3l1 0m1.1 0l1 0m-.6 .5l1 0m0-1.1l1 0m-.9 .6l1 0m-.7-.7l-1.6 1.6 1.6 1.6m.2-2.3l1 0m3.5 .5l1 0m0 .6l1 0m3.8-1l1 0m0 1.2l1 0m5.9 .4l1 0m1.5-1.6l1 0m-.9-.8l1 0m-.2 .1l1 0m.6-.3l1 0m.1 .8l2.6-.4m-1.5 1.5l1 0m-.1-.4l1 0m-.6-.4l1 0m1.1-.9l-1.6 1.6 1.6 1.6m0-1.3l1 0m4.5-.2l1 0m1-.6l1 0m4-1.2l-1.6 1.6 1.6 1.6m.3-1l1 0m7-1.6l2.6-.4m-2.3 1.2l1 0m-1 0l1 0m-.1 .7l1 0m1.2-2.2l1 0m.2 2l1 0m-.2-.2l1 0m2.1-1.8l1 0m2.5 1l1 0m-.7 .3l1 0m1.8 .5l1 0m8.8-1l2.6-.4m-.6-.1l1 0m.9 1.1l1 0m1.6-1.1l1 0m7 .1l1 0m2.1 .4l1 0m-45 3.3l1 0m1.5 1.6l1 0m1.6-2.7l1 0m-.6 2.1l1 0m.2-2.3l1 0m-.1 .5l1 0m-.7 1.7l1 0m-.8-1.7l1 0m-1 1l2.6-.4m-2.5-.7l1 0m.2 2.3l1 0m-.7-2.7l1 0m-.8 1.3l1 0m0-.4l1 0m.9-.4l1 0m2.3 .5l1 0m-.9-.5l1 0m1.2-.1l1 0m-.6 .2l1 0m4.1 .2l2.6-.4m6.3 .1l2.6-.4m.7 .8l2.6-.4m-2.4 2.1l1 0m.5-1.7l1 0m.6 .4l2.6-.4m1 .2l1 0m-.4-.8l1 0m-100.1 4.5l1 0m.5 .2l1 0m.8-.3l1 0m1.5-.7l1 0m.1 .3l1 0m1.6-.4l1 0m2.8-.5l1 0m-.3 .1l1 0m-.7 1.4l1 0m-.9-.9l1 0m-.3 .1l2.6-.4m-2.6 .5l1 0m.6 1.2l1 0m-.3-1.4l1 0m-.6 1.8l1 0m-.7-1.8l1 0m-1 .3l2.6-.4m-1.5 .7l1 0m-.9-1.3l1 0m1.5 .4l1 0m.5 1.7l1 0m.1-1.1l1 0m1.9-.2l1 0m-.1-.4l1 0m1.9 1l1 0m.9-1l1 0m-.5 .4l1 0m1.9-.2l1 0m-.9 1.1l1 0m-.9-.8l1 0m1 0l1 0m4.4 .5l2.6-.4m.5 .8l1 0m-.4-.5l2.6-.4m-2.3 .4l1 0m4.7-.2l2.6-.4m-2.2 .5l1 0m-.9-.1l1 0m-.1 .4l1 0m-.7 .2l1 0m-.9 .6l1 0m1.9-.8l1 0m-.6-1l1 0m-.3 .3l2.6-.4m-1.8 2.2l1 0m-.7-1.6l1 0m-.2 .3l1 0m-.2 1l1 0m-.6-2.3l1 0m2.7 1l2.6-.4m-.5-.6l1 0m-.1 1l2.6-.4m-2.5 0l1 0m.7-.2l1 0m.2 .5l1 0m2.7-.5l1 0m1.9 1.2l2.6-.4m-1.4-.5l1 0m2.5 1.2l1 0m1-1.6l1 0m-.3 1.7l1 0m3.5-1.3l1 0m.8 1l1 0m0-1.6l1 0m-.4 1.4l1 0m-.6-1.6l1 0m-105.4 4.2l1 0m.9 .1l1 0m-.8 .8l1 0m.1-1l1 0m-.6-.7l1 0m.6 2.2l1 0m0-2.6l1 0m0 2l1 0m1.9 .5l1 0m-1-1.4l1 0m-.6-.4l1 0m3.6 .9l2.6-.4m-1.1-.7l1 0m4.1 .2l1 0m-.7-.9l1 0m-.2 2.2l1 0m1.1 .2l2.6-.4m-1.5 .8l1 0m-.6-2l1 0m.2-.3l1 0m-.6 1.5l2.6-.4m.9-.2l2.6-.4m-.1 .8l2.6-.4m-2.2-.2l1 0m-.6 .1l1 0m-.5 0l1 0m-.3 .9l1 0m1.2-.6l2.6-.4m-2.3 1.7l1 0m-.2-1.2l1 0m2 .2l1 0m0-1.2l1 0m-.4 1.6l1 0m.4-1.5l1 0m-.7 1.4l1 0m-.3-1.5l1 0m.7 1l2.6-.4m-1.7-.6l1 0m2.5 .8l1 0m-.9 1.1l1 0m.3-.6l1 0m-.8 .5l1 0m-1-1.4l1 0m1.9-.3l1 0m-1 1.1l2.6-.4m-2.3-1.4l1 0m1 1.5l1 0m-.5-.8l1 0m1.8-.6l1 0m-.2 1.6l2.6-.4m-.9 .7l1 0m-.4 0l1 0m-.9 .3l1 0m.2 0l2.6-.4m.5-.7l2.6-.4m-1.4 .6l1 0m-.5-.8l1 0m.7 1.2l2.6-.4m1.7-.5l1 0m-.7 .9l1 0m.5-1.1l1 0m.1 1.2l1 0m-.8-1l1 0m-1 .8l1 0m.8-.5l2.6-.4m-.8 1.3l1 0m1-.1l2.6-.4m.3 .5l2.6-.4m-1.5-1.4l1 0m.1 1.3l1 0m1.2 .6l1 0m.5-.9l1 0m2.4 .1l1 0m4-1l1 0m13.1 .7l1 0m-121.9 3.2l1 0m.3 1.4l1 0m.4-.5l2.6-.4m-2.6-.1l1 0m0 .7l1 0m-1-.1l1 0m-.3-.9l1 0m-.7 .3l1 0m2.5 0l1 0m2.6 1.1l2.6-.4m-2.3-1.7l1 0m-.1-.7l1 0m-.8 2.4l1 0m-.8 .3l1 0m-.4-2.8l1 0m-.7 .6l1 0m.3 .1l1 0m0-.3l1 0m-.8 1.3l1 0m-.2 .4l1 0m-.7-.8l1 0m2.5 .8l2.6-.4m-2-.7l1 0m-.8 1.2l1 0m.1-.6l1 0m.2 .7l1 0m-.8-.5l2.6-.4m-2.2 .3l1 0m.2-1.2l1 0m-.3 2.3l1 0m-1-.8l1 0m-.6 .3l1 0m-.1 .1l2.6-.4m.1 .3l1 0m-.8 .5l1 0m-.5-.2l1 0m3.3-.8l1 0m-.7 .3l1 0m.3 .5l1 0m1.5-.6l1 0m-.5-.2l2.6-.4m1 .2l1 0m-.7 .7l2.6-.4m-2.4-1.7l1 0m.9 2.2l1 0m2.5 .1l2.6-.4m-2.6 .6l1 0m1.1 .2l1 0m.2-1.3l1 0m-1 1.1l1 0m.6 0l1 0m.2-.7l1 0m-.4 .5l2.6-.4m-1.9 .1l1 0m0-.9l1 0m-.8-1.2l1 0m-.5 1.2l1 0m.5 1l2.6-.4m-1.4-1.3l1 0m.4 2.1l1 0m.8 .2l1 0m-.3-1.6l1 0m-.4 .6l2.6-.4m-1.1-.6l1 0m-.2 .5l1 0m.5-.1l1 0m3.5-.9l1 0m-.9 .6l1 0m-.9 1.9l1 0m-.4-2.3l1 0m0 1.4l2.6-.4m-1.8 .5l1 0m-.8 .1l1 0m-.9 .3l1 0m.1-1.9l1 0m-.4 1.6l2.6-.4m-.3-.8l1 0m.3 1l2.6-.4m.1 1.1l1 0m.9 .2l1 0m.6-.9l2.6-.4m1.1-.1l1 0m1.3 1.4l1 0m-.6-.9l2.6-.4m3.7 .9l2.6-.4m-2.2 .8l1 0m4.5-.4l1 0m.1-.1l2.6-.4m4.6-.6l1 0m-119.6 4.2l1 0m.8-.2l2.6-.4m-.1-.2l1 0m-.1-1.1l1 0m-.9 1.7l2.6-.4m-1.6 .6l1 0m1.1-.5l2.6-.4m.4-.4l1 0m1.7 .3l1 0m-.8 1.1l2.6-.4m-2.6-.4l1 0m1.6 1l1 0m.3-.8l2.6-.4m-1.5 .7l1 0m2.3-.5l1 0m-.6-1.5l1 0m-.8 2.1l1 0m1.3-1.6l1 0m3.1 1.6l1 0m-.1 .2l2.6-.4m-2.5-1.3l1 0m-.6-1l1 0m-.4 2.3l1 0m2-.1l1 0m.2 .4l1 0m.1-.2l2.6-.4m-1.5-.4l1 0m-.4 .9l1 0m.6-.1l2.6-.4m-1.6-.2l1 0m-.6-.5l1 0m-.5 1.1l1 0m-.5-1.4l1 0m-.3 1.5l2.6-.4m-2.1-.1l1 0m-.8-1.7l1 0m-.7-.2l1 0m-.5 1.9l1 0m2.7-.2l1 0m-.6 .9l1 0m1.3-.1l1 0m-.7 .2l1 0m-.6-2.6l1 0m-.2 2l2.6-.4m-1.6 0l1 0m-.4 .3l1 0m.7-.1l1 0m2-.2l1 0m.5 .9l1 0m.9-1.5l1 0m1.9 .4l1 0m1 .5l1 0m-.9-1.6l1 0m-.5-.3l1 0m-.8 2.4l1 0m-.3 .3l2.6-.4m.1-2l1 0m-.7 2.1l2.6-.4m-1.2 .5l1 0m.5-2.3l1 0m1.4 .3l1 0m-.7 1.6l1 0m-.5 .4l1 0m-.7-.2l1 0m-.6-2.5l1 0m-.9 2.7l2.6-.4m.2 .4l1 0m.5-.8l1 0m.4-1.6l1 0m.3 .2l1 0m0 2l1 0m-1-1.5l1 0m.3 1l1 0m-1-.6l1 0m-.1-1l1 0m9.8 1.8l1 0m1.3-.4l1 0m5 .5l1 0m-.9-.2l1 0m.1-2l1 0m3.4 2.9l1 0m-.5-.1l1 0m6.5-2l1 0m-118.5 2.3l1 0m1.4 0l1 0m5.1 .1l1 0m.3 0l1 0m.8-.3l1 0m-.6 .1l1 0m.8-.1l1 0m5.9 .6l1 0m-.5 .1l1 0m-.9-.3l1 0m.4 2.1l1 0m-.7-2.4l2.6-.4m-2.5 1.8l1 0m3-1.2l1 0m4.2 0l1 0m0 1l1 0m2.9 .8l1 0m1.4-.4l1 0m-.7 .7l1 0m.9 .4l1 0m-.5-2.2l1 0m-.8-.4l1 0m-.5-.1l1 0m1.2 1.5l1 0m.2-1.3l1 0m-.4 .9l1 0m-.2-1.1l1 0m2.8 1.2l1 0m-.3-1l2.6-.4m-2.4 .9l1 0m-.6 1.6l1 0m0-2.3l1 0m.3 2.4l1 0m-.5-2.4l2.6-.4m-.7 1.6l1 0m-.9 .6l1 0m.3-1.8l2.6-.4m1.2 .5l1 0m-.5 1.1l1 0m-.7 1.6l1 0m-.3-.4l1 0m10.2-1.1l1 0m-.7 1.4l1 0m.7-1.4l1 0m.1 1.2l1 0m1.1-2.4l2.6-.4m-1.9 1.2l1 0m.1-.8l1 0m9.3 .7l1 0m-.3-.8l2.6-.4m.1 2.8l1 0m13.6-1.6l1 0" stroke="#1c1cff" stroke-width="0.8" fill="none" stroke-opacity="1" stroke-linejoin="round"/>
<path d="M214.3 165.0 L222.3 164.2 L233.3 165.5 L236.3 167.2 L245.3 166.5 L256.3 164.5 L268.3 164.0 L283.3 164.5 L284.3 168.0 L297.3 167.5 L297.3 165.0 L310.3 165.3 L320.3 166.5 L329.3 168.0 L329.8 173.0 L329.1 179.0 L327.3 181.0 L327.3 191.0 L328.3 196.0 L331.0 198.0 L331.0 202.0 L325.8 203.0 L323.3 208.0 L327.3 211.0 L333.3 214.0 L335.3 217.0 L340.3 223.0 L343.3 228.0 L344.3 236.0 L344.3 242.0 L336.3 244.0 L335.8 251.0 L338.3 257.0 L341.3 263.0 L341.3 269.0 L335.3 273.0 L322.3 275.0 L300.3 275.6 L270.3 275.5 L240.3 275.0 L220.3 274.0 L215.1 272.5 L213.6 261.0 L213.6 211.0 L213.9 181.0ZM233.3 167.5 L245.3 167.3 L256.3 167.5 L259.3 169.0 L263.3 172.0 L263.8 181.0 L261.3 186.0 L254.3 188.2 L245.3 188.5 L238.3 187.6 L230.3 185.2 L226.3 182.2 L229.3 178.0 L231.3 173.0ZM273.8 171.0 L276.3 168.5 L284.3 168.2 L297.3 168.5 L306.3 169.5 L311.3 171.0 L313.3 173.5 L312.3 176.5 L306.3 178.5 L298.3 180.2 L290.3 182.5 L283.3 185.0 L277.3 185.5 L274.3 182.5 L273.3 177.0ZM223.8 203.5 L226.3 201.5 L230.8 201.2 L235.8 202.8 L237.3 207.0 L237.1 212.5 L234.8 216.3 L228.8 216.8 L225.1 214.0 L223.3 209.0ZM289.3 215.5 L292.5 215.5 L317.8 242.5 L314.6 243.0ZM266.3 213.0 L268.3 213.0 L282.3 231.0 L280.3 231.5ZM213.3 218.0 L219.3 223.5 L228.1 231.0 L236.3 239.2 L244.5 243.3 L247.3 245.5 L235.3 247.5 L225.3 249.2 L218.6 250.8 L213.3 251.0ZM213.3 251.0 L218.6 252.5 L230.3 255.0 L247.3 257.0 L260.8 257.5 L285.3 258.5 L289.3 260.5 L285.3 262.3 L260.8 260.8 L245.3 260.6 L222.7 263.7 L217.3 268.0 L215.8 272.5 L213.3 273.0ZM270.3 241.0 L273.8 241.0 L290.3 258.0 L286.8 258.5ZM283.8 164.0 L296.8 164.0 L296.8 167.4 L284.8 167.8Z" fill="#c0b4ff" fill-opacity="0.12" fill-rule="evenodd"/>
<path d="M214.7 165.3l1 0m-.3 1l1.3 1.5 1.1 1.3m.3-2.8l1 0m-.6-1.6l1 0m-.2 1.1l1 0m1.7 .6l1.3 1.5 1.1 1.3m-1.2-3.1l1 0m-.7-1.2l1 0m-1 .2l1 0m.9 1.3l1 0m-.3-.1l1 0m3.1-.1l1 0m20.1 0l1.3 1.5 1.1 1.3m1-3.9l1 0m.2 .3l1 0m0-.4l1 0m-1 1.4l1 0m1.5-.3l-2 2.6m2.6-2.7l1.3 1.5 1.1 1.3m-1.5-2.6l1 0m1.3-.6l1 0m1 .7l-2 2.6m4.3-4.4l1 0m-.5-.2l1 0m1.3 1.1l1 0m-.8-.9l1 0m.7 .8l1 0m1.5-1.8l-2 2.6m2.1 .1l1 0m1.2-.1l1 0m-.7-1.2l1 0m.1 1.4l1 0m-.4-1l1 0m-.4 .7l1.3 1.5 1.1 1.3m-2.3-5.3l1.3 1.5 1.1 1.3m-2.1-1.5l1 0m.2 1.5l1 0m-.7 0l1 0m16.1 0l1.3 1.5 1.1 1.3m-1.2-2.7l1 0m.4 .1l1 0m2.8-.8l1 0m-.7 .1l1 0m7.1 .5l1 0m-99.6 1.7l1 0m-.5 1.2l1 0m-.3-1.3l1 0m1.3-.9l1.3 1.5 1.1 1.3m-1-1.3l1 0m-.5 1l1 0m-.3-1.4l1 0m.2 1.1l1.3 1.5 1.1 1.3m-1.3-3.6l1 0m-.8-.7l1 0m-.5 1.8l1 0m2.8-2.2l1 0m-.7 1.1l1 0m-.4-1.6l1.3 1.5 1.1 1.3m-2.1-2.7l1 0m-.7 .8l1 0m-.7 .3l1 0m.5-.6l1 0m6.1-.1l1 0m11.9-.2l1 0m8.7 .8l1 0m2.1-.7l1 0m-.6-.5l1 0m-.6 .3l1 0m2.2-.4l1 0m1.4 .5l1 0m-.9 2.2l1 0m1.3-1.1l1 0m3.5 .1l1 0m0-1.4l1 0m-.4-.2l1 0m-.9-.1l-2 2.6m3.3-1.6l1 0m-.2 0l1 0m.7-1l1.3 1.5 1.1 1.3m4.9-1.5l1 0m-.6-.1l1 0m5.2 .3l1 0m.7-.2l1 0m1.6 .8l1 0m-.1-1.4l1 0m1.7 1.1l1 0m1.2 .3l1 0m-.6-.8l1 0m-.9 1.4l1 0m-.3-1.1l1 0m3.4-1.4l1.3 1.5 1.1 1.3m-2.1-2.3l1 0m-.7 2l1 0m-.9-1.3l1 0m3.1-1.3l1 0m3.4 1.9l1 0m-.8 0l1 0m1.5 0l1 0m-.7-.6l1 0m1.8-1l1.3 1.5 1.1 1.3m-115 0l1 0m-.4 1.5l1 0m-.3 1.1l1 0m1.3-1.4l1 0m1.8-1.3l-2 2.6m7 .2l1 0m-.4-.5l1 0m0-1.7l-2 2.6m2-.7l1 0m1.6-1.8l1 0m29.2-.6l1 0m2.3 .4l1 0m0 1.9l1 0m-.8-2.3l1 0m1.2 0l1.3 1.5 1.1 1.3m-1-1.9l1 0m1.1 1.1l1 0m-.8 0l1 0m-.6-1.9l1 0m-.7 .4l1 0m.5-.5l1 0m36.4 .7l1 0m-.9-.1l1 0m-.1 .3l1 0m0-.2l1 0m1.5 1.8l1 0m-.5-2.4l1.3 1.5 1.1 1.3m-2.1-.9l1 0m.6-1.5l1 0m-.4-.1l1 0m-.7 2l1 0m.3-1.1l1 0m.2 .8l1 0m-.6-1.6l1.3 1.5 1.1 1.3m-2.3-2.3l1 0m-.7 .8l1 0m1.5-.8l1 0m-.4 1.7l1 0m-.2-1.8l1 0m.6 .6l1 0m-.7 .4l1 0m-112.6 .8l1 0m-.9 1.3l1.3 1.5 1.1 1.3m-2.2-3.9l1 0m-.4 .9l1 0m.1 .2l1 0m-.5-1.1l1 0m-.8 1.5l1 0m-.2 1.2l1 0m-.4-1.9l1 0m3.6 .8l1 0m.6 .3l1 0m-.3-1.6l1 0m-.8 1.1l1 0m.5 .7l1 0m1.1-1.7l1 0m31.7 2.1l1 0m1.2 .3l1 0m.7-1.7l1.3 1.5 1.1 1.3m-.2-4l1 0m-.7 .2l1.3 1.5 1.1 1.3m-1.3-.2l1 0m0-2.8l1 0m-.9 2.6l1 0m-.7-.6l1 0m40.8-.3l1 0m.1 .7l1 0m.4-2.4l1 0m-.4 .4l-2 2.6m3.8-1.9l1 0m-.5 .8l1 0m-.6-1l1 0m-1 1.9l1 0m-.5-2.6l1 0m-.2 .6l1.3 1.5 1.1 1.3m-2-1.1l1 0m1.7-1.2l1 0m1.8 .8l1 0m-.6-1.1l1 0m.8-.3l1 0m-114 4.4l1 0m-.9-.1l1 0m-.4-.9l1 0m-.8-.3l1 0m-.3 1.4l1 0m-.7 .5l1 0m-.9-2.4l1 0m.9 .7l1 0m-.1-.5l-2 2.6m2.9-1.6l1 0m-.5-.5l1.3 1.5 1.1 1.3m-1.4-2.9l1 0m-.2 1.2l1 0m1.7-2l1 0m-.8 1.4l1 0m1.6-1.4l1 0m37.5 1.8l1 0m.2 .2l1 0m0-1.4l1 0m.2 1.7l1 0m.1-2.1l1 0m41.1 0l1 0m-.5 2.4l1 0m2.4-1.8l1 0m6.3-.6l1 0m-.8 2.1l1 0m.6-.1l1 0m-1-1.6l1 0m-113.1 4.4l1 0m1-1.7l1 0m-.8 1.4l1 0m2.7-.6l-2 2.6m2-3l1 0m-1 0l1 0m-.4-.2l1 0m1.5-.6l1 0m1.9 .6l1 0m36.3 1.1l1 0m.1-.6l-2 2.6m2.9-1.8l1.3 1.5 1.1 1.3m-.9-4.4l1 0m.5 0l1 0m24.4 1.3l1.3 1.5 1.1 1.3m3.3-2.4l1 0m1 .2l1 0m.8 .1l1 0m2.2 .2l1 0m.6-2.1l1 0m-.4 .9l1 0m-.9-.1l-2 2.6m6.2-1.9l1 0m1.1-.8l-2 2.6m3.2-2.8l1.3 1.5 1.1 1.3m-1.7-3.6l1 0m3.1 0l1 0m3.4 1.9l1 0m-.7-1.3l1 0m-115.4 4.5l1.3 1.5 1.1 1.3m-.3-3.3l1 0m-1-1.2l1 0m-.3 .1l1 0m1.4-.1l1 0m.8 .4l1 0m-.4 .1l1 0m-.9 .8l1 0m-.5-1.2l1 0m-.7 1.8l1 0m-.9 .2l1 0m2.3-.1l1 0m.4-.7l1 0m33.9 0l1.3 1.5 1.1 1.3m.9-2.3l1 0m-1-1.1l1 0m1.4 1.3l1 0m.9-1.2l-2 2.6m6-2.1l-2 2.6m2.4-2.5l1 0m-.9 .2l1 0m-.7 .8l1 0m.4-1.1l-2 2.6m20.3-2l1 0m-.2-.3l1 0m-.2-2.1l1 0m2.2 2.8l1 0m-.6-1.6l1 0m2 1.5l1 0m.1-1.6l1 0m-.4 .1l1 0m3.9-1l1 0m-.1 1.7l1.3 1.5 1.1 1.3m2.3-2.4l1 0m-.6-.2l-2 2.6m2.6-3.3l1.3 1.5 1.1 1.3m-2.1-2.6l1 0m-.6 .4l1 0m-.9-.6l1 0m.6 .4l1 0m-.6-.7l1 0m-.1 1.1l1.3 1.5 1.1 1.3m.2-3.1l1.3 1.5 1.1 1.3m-2.4-4.2l1 0m-.8 1l1 0m-.5 .6l1 0m0-.1l1 0m-.5 .6l1 0m-.9-1.1l1 0m-.9 1.1l1 0m.6-.3l1 0m.2-.2l-2 2.6m-110.2 0l1 0m.1 .6l1 0m-.6-1.8l1 0m1.7 2l-2 2.6m2.6-2.6l1 0m1.1-2l1 0m1.8 .9l1 0m.8-.9l1 0m-.1 .9l1 0m-.4-1.1l1 0m-.7 2.2l-2 2.6m2.3-4.6l1 0m.2 2.1l1.3 1.5 1.1 1.3m-2.2-3.6l1 0m-.7-.8l1 0m-.5 .7l1 0m1.1-.1l1 0m29.8-.2l1 0m.7-.3l1 0m1.3 .2l1 0m-.1 .4l1 0m1.3-1l1 0m3.9 .1l1 0m-.7 .9l-2 2.6m4.8-2.4l1 0m2.8-.6l1 0m1.1 .6l1 0m0 .2l1 0m1.6-1.9l1 0m1 2.4l1 0m-1-2.3l1 0m.6 1.5l1 0m.9-1.6l1 0m.1 .5l1 0m.5 1l1.3 1.5 1.1 1.3m1-2.8l1.3 1.5 1.1 1.3m-.6-2.9l1 0m1.5 .9l1 0m-.2-.8l1 0m-.3 1.1l1 0m.1 0l1 0m.2-.8l1 0m1.2 .4l1.3 1.5 1.1 1.3m-.7-5l1 0m-.1 1.9l1.3 1.5 1.1 1.3m0-3.1l1 0m-.1-1.6l1 0m-.1 .5l1 0m4.1 .3l1 0m-.6-.3l1 0m-.5 1.9l1.3 1.5 1.1 1.3m-2.3-4.6l1 0m1.6 1.2l1 0m.8-1l1 0m-.6 1.3l1 0m-113.5 1.7l1 0m.2 1l1.3 1.5 1.1 1.3m0-3.6l1 0m.1 .1l1 0m.5 .7l-2 2.6m4.3-2.4l1 0m-.4-.3l1 0m.3-.8l1 0m-.8 1.1l1.3 1.5 1.1 1.3m3.4-2.8l1 0m3-.3l1 0m.9 .6l-2 2.6m2.2-4.8l1 0m-1 1.5l1 0m-.6-.2l1 0m2.7 1l1.3 1.5 1.1 1.3m1.2-3l1 0m-.8-1.1l1 0m-1 .8l1.3 1.5 1.1 1.3m3.7-2.1l1.3 1.5 1.1 1.3m4.4-3.6l1.3 1.5 1.1 1.3m-1.5-3.4l1 0m1 .8l1.3 1.5 1.1 1.3m-1.5-3.7l1 0m.9 1.5l1.3 1.5 1.1 1.3m-1.5-4l1 0m-1-1.5l1 0m.1 0l1 0m2.4 1.7l1 0m-1-.7l1 0m.4 .7l1 0m.2-.2l1 0m-.3 .5l-2 2.6m2.8-3.9l1 0m-.9 1.6l1.3 1.5 1.1 1.3m-.7-2.4l1 0m2.4-.9l1 0m2.6 .9l-2 2.6m2-4.5l1 0m-.1 1.4l1.3 1.5 1.1 1.3m-1.7-4.2l1 0m.9 1l1 0m-.1-1.4l1 0m-.4 2.1l1.3 1.5 1.1 1.3m.5-4.3l1 0m-.7 1.6l1.3 1.5 1.1 1.3m-.1-4.9l1 0m-.4 1.9l1.3 1.5 1.1 1.3m-2-4.7l1 0m-1 1.3l1 0m1.9-.9l1 0m-.3 1.9l1 0m1.4-.2l1.3 1.5 1.1 1.3m1.1-3l1 0m.9-2.5l1 0m-1 2l-2 2.6m2.3-4.6l1 0m.1 2.1l1.3 1.5 1.1 1.3m-2.3-2l1 0m-1-1.6l1 0m-.7-.7l1 0m-.4-.4l1 0m.4 2.6l1.3 1.5 1.1 1.3m-2.1-4.8l1 0m.6 1.2l1 0m-.7-.1l1 0m-.1 .5l1.3 1.5 1.1 1.3m-1-5.1l1 0m.4 .3l1 0m.8-.5l1 0m-.8 2.2l1 0m-.5-1.1l1 0m-.8-.1l1 0m-.7-.7l1 0m-.4 2.4l1.3 1.5 1.1 1.3m-2.3-4.8l1 0m0 .1l1 0m.2-.4l1 0m-.7 .6l1 0m-.8 0l1 0m-.7-.8l1 0m-.9 1.1l1 0m-.7-.7l1 0m1 .2l1 0m1.4 .1l1 0m-113 3.7l1 0m-.9 .4l1 0m0-1.9l1 0m-.4 2.2l1 0m-.7-1.4l1 0m-1 1.9l1.4 1.5 1.2 1.4m-2.3-3.9l1 0m1.3-.6l1 0m-.8-.6l1 0m-.1 1.1l1 0m-.8 .7l1 0m.5-.4l1 0m-.7-2l1 0m-.9 1.5l1 0m-.5-1.3l1 0m.1 0l1 0m-.3 1.3l1 0m1.2-.9l1 0m-.3-.1l1 0m-.7 .2l1 0m-.8 1.2l1 0m.2-.2l1 0m.2 .4l1 0m-.7-1.9l1 0m-.8 1.3l1 0m-.4-1.5l-2 2.6m2.9-2.6l1 0m-1 2.2l1 0m-.9-2l1.3 1.5 1.1 1.3m-2.2-2.2l1 0m-.6 .6l1 0m-.9 .4l1 0m.4-.6l1 0m-.4 0l1 0m.3 1.1l1 0m-.8-2l1 0m-.6 2.1l1 0m-.3-.9l1 0m-.9-1.2l1 0m1.2 1.1l1 0m-.8 .8l1 0m-.6 0l1 0m-.1 .4l1.4 1.5 1.2 1.4m-.5-3.8l1 0m-.5 1.3l1 0m-.3-2.7l1 0m-.9 2.6l1 0m0-.3l1 0m-.4-.7l1 0m-.8 .9l-1.6 1.6 1.6 1.6m.5-3.6l1 0m-.9 .3l1 0m-1-2.4l1 0m-.7 1l1 0m-.3-1.3l1 0m2.7 2.9l1 0m-.2-1.9l1 0m0 .2l1 0m-.2 1.4l1.4 1.5 1.2 1.4m-1.1-4l1 0m-.4-.4l1 0m.9 .6l1 0m-.4-1.1l1 0m-.4 1.2l1 0m-.6-.7l1 0m-1-.1l1 0m-.1-.4l1 0m-.2 1.2l1 0m-.3 1.2l1 0m.7-.3l1 0m-.3-.5l1 0m.8-.8l1 0m-.8-1.2l1 0m.6 1.8l1 0m-.6-.2l1 0m-.5-.8l1 0m-.8 .4l1 0m1.2 .3l1 0m.8-.5l1 0m-.8-.2l1 0m-.8-.2l1 0m-.9-.2l1 0m-.9 1.5l1 0m-.1 .5l-1.6 1.6 1.6 1.6m.8-5.1l1 0m.6 2l1 0m-.5 .3l1 0m-.8-2.8l1 0m1.9 1.7l1 0m-.2-.4l1 0m-.2-.9l1 0m2.1 .8l1 0m0 .2l1 0m-.1 .7l1 0m.6-1.3l1 0m.7 0l1 0m-.8 1.3l1 0m1.3-.1l1 0m1.6-1.8l1 0m-.8-.2l1.3 1.5 1.1 1.3m-.6-2.9l1 0m.7 .4l1 0m0 1.7l1 0m-.9-1.7l1 0m.3 .3l1 0m-.7 1.4l1 0m.1-2l1 0m-.9 .2l1 0m-.4 .5l1 0m-.4 1.2l1 0m-.2-.6l1 0m-.8-1.1l1 0m1.1 1.8l1 0m.2 .5l1 0m-.9-1.8l1 0m-.8-.2l1 0m-.3 .3l1 0m.9-.3l1 0m.8-.2l1 0m-.4 2.1l1 0m-.6-.4l1 0m.1 .1l1 0m-.7-2.3l1 0m.7 .1l-2 2.6m3 .3l1 0m-.6-1.1l1 0m-.2-.6l1 0m-.7 .7l1 0m-.6 .2l1 0m-1 .1l1 0m.8-2.1l1 0m-.2 .2l1 0m-1-.2l-2 2.6m2.9-2.3l1 0m.3 1.4l1 0m-.7-.4l1 0m-.3-1.5l1 0m-.7 2l1 0m-.3-1.8l-2 2.6m-111.1 2.6l1 0m.8-2.2l1 0m.7 1.8l1 0m.9 .9l1 0m-.9-2.4l1 0m3.1 .2l1 0m2.3 .6l1 0m2.5-.6l1 0m-.7-.3l1 0m-.4-.3l1.4 1.5 1.2 1.4m.2-1.6l1 0m-.8-1.1l1 0m-.2 2.7l1.4 1.5 1.2 1.4m1.2-5.8l1 0m-.7 .9l1 0m-.3 0l1 0m3.3 .2l1 0m4.7 1.2l1 0m.9 .4l1 0m.2-2.4l-1.6 1.6 1.6 1.6m2.6-2l1 0m1.8-.5l1 0m-.9-.2l1 0m-.9-.2l1 0m.2-.1l1 0m3-.6l1 0m.8 1.4l1 0m.4 .3l1 0m-.5-.7l1 0m3.1 2l1 0m0-2.8l1 0m3.2 2.5l1 0m-1-2.5l1 0m.5 .6l1 0m.3 .3l1 0m0 .6l1 0m-.1-.5l1 0m-.8 .3l1 0m2.5-1.3l1 0m1.8 .7l1 0m.4 .6l1 0m1.5-.4l1 0m.6-.2l1 0m-.7 2l1 0m-.9-2.8l1 0m1.9 1.2l1 0m1.7 1.5l1 0m1.3-2.2l1.4 1.5 1.2 1.4m2.5-1.2l1 0m2.9-1.6l1 0m-.8 1.9l1 0m1.4-2l1 0m.5 1.9l1 0m.7-.7l1 0m.2 1.1l1 0m3.1-2.8l1 0m-.4 2.4l1 0m.9-.4l1 0m0 .2l1 0m-.8-.2l1 0m-.1-1.2l1 0m-113.9 3.6l1 0m-.8 1.3l1 0m-.7-.7l1 0m.4-2l1.4 1.5 1.2 1.4m-2-2.9l1 0m-.9 .9l1 0m-.8 1.4l1 0m.3-.1l1 0m-.6-1l1 0m-.6-1l1.4 1.5 1.2 1.4m-2-2l1 0m1.5-1l1.4 1.5 1.2 1.4m.1-.9l1 0m-.3-1.3l1 0m-.7 1.8l1 0m-.8-1.4l1 0m.4-1.1l-1.6 1.6 1.6 1.6m1.3-3l1 0m.4 1.7l1 0m-.8-1.4l-1.6 1.6 1.6 1.6m1.5-2.8l1 0m1.2 1.7l1 0m-.6-1.9l1 0m-.3-.6l1 0m2.4 .4l1.4 1.5 1.2 1.4m-1.7-3.5l1 0m-.5 1.8l1 0m-.8 .8l1 0m-.1-.5l1 0m2.1 .4l1 0m-.6 .1l1 0m1.3-1.3l1 0m-.9-.6l-1.6 1.6 1.6 1.6m1.3-3.3l1 0m-.8-.1l1.4 1.5 1.2 1.4m-1.5-.8l1 0m-.9-1.5l1 0m-.4-.7l1 0m-.6 .5l1 0m-.6-.3l1 0m-.8-.2l1.4 1.5 1.2 1.4m-2.3-.6l1 0m1.1-.4l1 0m-.5 .2l1 0m-.3-2.1l1 0m-.7 .2l1 0m-.9 1.8l1 0m.2-1l1 0m-.6 1.5l1 0m-1-2.2l1 0m-.5 .5l1 0m-.9 1l1 0m-.7-1.4l1 0m-1 0l1 0m.6 0l1 0m-.7 .7l1 0m-.9-1.3l1 0m-.6 2.6l1 0m-.8-1.1l1 0m-.6-.5l1 0m-.6 .2l1 0m-.9 .8l1 0m-.5-.7l1 0m-.3 .8l1 0m-.7-1.2l1 0m.1-.4l1.4 1.5 1.2 1.4m-2.6-3.2l1 0m-.3 0l1 0m-.7 2.3l1 0m-.6-1.5l1 0m-.5 1.5l1 0m-.8-1.9l1 0m-.9-.7l1 0m1.2 .7l1 0m0-.1l1 0m-.8 .1l-1.6 1.6 1.6 1.6m.1-1.6l1 0m2.4-.9l1 0m.2-1.5l1 0m-.6 .5l1 0m-.6 2.2l1 0m0-1.9l-1.6 1.6 1.6 1.6m3.1-3.9l1 0m-.9 1l1 0m-1 .3l1 0m-.7-.9l1 0m-.7-.1l1 0m-.6 .3l1.4 1.5 1.2 1.4m-2.3-1.5l1 0m-.1-1.8l1 0m-.2 .2l1 0m-.9 .2l1 0m-.9 .9l1 0m-.9 1l1 0m.3-1.8l1.4 1.5 1.2 1.4m-1.1-1l1 0m-1-2l1 0m-.8 .2l1 0m-.8-.8l1 0m-.6 1.8l1 0m-.7-1.3l1 0m-.6-.2l1.4 1.5 1.2 1.4m-2.1-2.4l1 0m-.8 1.5l1 0m-.6-1.9l1 0m-.1 .9l1 0m-.2-1.3l1 0m-1 .9l1 0m-1 1.2l1 0m.5-1.2l-1.6 1.6 1.6 1.6m0-2.1l1 0m-1 .1l1 0m-.4-1.1l1 0m-.8 1l1 0m-.8-1.2l1 0m-.5-.6l1 0m-.9 1.3l1 0m-.4-.8l1 0m1.2-.1l1 0m.3 1.6l1 0m1-.8l1 0m-.5-.9l1.4 1.5 1.2 1.4m-1.5-1l1 0m.2 .3l1 0m-.9-.7l1 0m1.5-1.1l1 0m-.8-.8l-1.6 1.6 1.6 1.6m.1-1.4l1 0m-.5 .5l1 0m-.9-1.2l1 0m-.2 .3l1 0m-.9-.4l1 0m0-1.3l-1.6 1.6 1.6 1.6m0-2.3l1 0m-1 1.6l1 0m.4-1.9l1 0m-.8 .6l1 0m.4 .2l1 0m.1-.4l-1.6 1.6 1.6 1.6m.8-3.7l1 0m-.5-.1l1 0m0 2l1 0m-.6-1.7l-1.6 1.6 1.6 1.6m.1-2.8l1 0m-.7 .6l1 0m-.2-.3l1 0m-.4-1.2l1.4 1.5 1.2 1.4m-1.9-2.5l1 0m-.9 .4l1 0m-.5 1.2l1 0m.7-1.1l1 0m-.1 1.4l1 0m-.7-.4l1 0m1.3-1.2l1.4 1.5 1.2 1.4m-1.1-.8l1 0m-.3-1.4l1 0m-.3 0l1 0m.3-.6l-1.6 1.6 1.6 1.6m1.2-2.6l1 0m-.7 .1l1 0m-1 1.1l1 0m-.7-1.7l1.4 1.5 1.2 1.4m-2.4-1.2l1 0m-.2-2.6l1 0m.1 1.4l1 0m-116.2 1.5l1 0m-.7 2l1 0m1.3-.9l1 0m.4-.9l1 0m-.5 1.2l1 0m-.1-.9l1 0m.9 .8l1 0m.9-.6l1 0m-1-.5l1 0m.1 1.8l1 0m2.3-1.7l1 0m-.8-.3l1 0m.6 .4l1 0m1.4-.2l1 0m.6 1.1l1 0m1.6-.9l-1.6 1.6 1.6 1.6m4.1-2.5l1 0m-.4 1.5l1 0m1.3-.9l1 0m2.1-1.5l1 0m.3 .1l1.4 1.5 1.2 1.4m2.3-1.8l1 0m1.3-1.4l1 0m-.5 .6l1 0m2.8-.4l1 0m.1 1.1l1 0m2.4-.2l1 0m-.7-.9l1 0m.8-.2l1 0m1.1 2.2l1 0m-.6-.5l1 0m2.1-1.3l1 0m1.1-.4l1 0m.2 2.9l1 0m-1-2.7l1 0m5.9 .1l1 0m-.2 .8l1 0m3.6-.2l1 0m1.1-.2l1 0m-.4 .5l1 0m.7 .2l1 0m-1-.4l-1.6 1.6 1.6 1.6m.2-1.6l1 0m.1-1.4l1 0m-.3 0l1 0m-1 .6l1 0m-.8 .5l1 0m6.2-2.2l1 0m0-.1l1 0m-.4 1.3l1.4 1.5 1.2 1.4m-1.4-1.5l1 0m-.9-2.7l1 0m.9 2.6l1 0m-.9-.5l1 0m.7-.3l1 0m2.7-1.3l1 0m-.6 .7l1 0m1.1-.5l-1.6 1.6 1.6 1.6m2-2.9l1 0m-.9-.9l1 0m-.7 2.4l1 0m2.8-.6l1 0m2.2-1l1 0m-.6-.3l1 0m-.4-.4l1 0m-.5-.1l1 0m.4 .8l1 0m2.2-.2l1 0m-115.9 4.1l1 0m-.7-.9l1 0m-.1 1.9l1 0m-.4-.5l1 0m-.4-1.3l1 0m1.1 .2l1 0m-.7 1.3l1 0m.4-.6l1 0m-.8 .1l1 0m-.8-1.2l-1.6 1.6 1.6 1.6m2.3-2.6l-1.6 1.6 1.6 1.6m12.3-3.2l1.4 1.5 1.2 1.4m-1.2-4l1 0m.6 .3l1 0m.5 .7l1 0m-.5 .5l1 0m2.9 .7l1 0m-.3 .1l1 0m-.9-.6l1 0m3.6-.1l1 0m0-1l1.4 1.5 1.2 1.4m-2.1-2.6l1 0m-.8 .2l1 0m-.1 .9l1 0m-.7-1.4l1 0m-.5 .4l1 0m.1 1.4l1 0m-1-1.5l1 0m3.4 1.2l1 0m-.5-1.5l-1.6 1.6 1.6 1.6m.9-2.4l1 0m-.5 .4l1 0m-.3-2l1 0m-.8 .5l1 0m-.7 1.3l1 0m-.9-1.4l1 0m-.8 2.4l1 0m-1-.7l1 0m.2-1.8l1 0m-.8 .6l1 0m-.9 1.6l1 0m-.8-.3l1 0m2.2-1.9l1 0m-.8 .3l1 0m-.9 .3l1 0m-.7-.3l1 0m-.6-.2l1 0m-.8-.2l1 0m-.6 .8l-1.6 1.6 1.6 1.6m1.4-2.6l1 0m-.5-.4l1.4 1.5 1.2 1.4m-1.9-3.4l1 0m-.4 .6l1 0m-.4 1l1 0m0-.9l1.4 1.5 1.2 1.4m-1.1-3.1l1 0m.8-.6l1.4 1.5 1.2 1.4m-2.1-3.1l1 0m-.9 1.2l1 0m.2 .5l1 0m-.1-1.4l1 0m-.3 0l1 0m-1-.4l1 0m1.8 1.7l1 0m.4-.8l1 0m-.4 .2l-1.6 1.6 1.6 1.6m1.8-2.3l1 0m-.9 .2l1 0m-.9-2.4l1 0m.1 1.5l1 0m.6-.8l1.4 1.5 1.2 1.4m-1.2-3.4l1 0m-.3 0l1 0m0 1.9l1 0m-.2 .4l1 0m1-1.2l1.4 1.5 1.2 1.4m-1.6-2.8l1 0m.7-.2l1 0m-.5 .2l1 0m-.9-.7l1.4 1.5 1.2 1.4m-2.5-1.3l1 0m-.2-1.2l1 0m.3 .4l1 0m-.6-1.6l1 0m-.9 1l1 0m.2 .2l1.4 1.5 1.2 1.4m-1.9-1.4l1 0m-.6-1.6l1 0m.8-.1l1.4 1.5 1.2 1.4m1.9-3.4l-1.6 1.6 1.6 1.6m8.4-2.4l1.4 1.5 1.2 1.4m-1.3-3l1 0m-.1 .7l1 0m.3 .7l1 0m-.1-.5l1 0m.6-.7l1 0m-.8-.2l1 0m-112.7 2.9l1.4 1.5 1.2 1.4m.1-1.7l1 0m1.7-1.1l1 0m1.7 0l1 0m-.6-.7l1 0m-.2-.5l1 0m15 1.1l1.4 1.5 1.2 1.4m0-2l1 0m2.4-.5l1.4 1.5 1.2 1.4m-.7-3.5l1 0m1 1.8l1 0m-.4-2.5l1 0m1.1 1.8l1 0m2.8-.1l1 0m2.7-1.3l1 0m.5 1.3l1 0m-.7-1.5l1 0m5.2 .9l1 0m1.4-1.5l1 0m-.2 2.6l1 0m.3-.4l1 0m.6-2l1 0m-.5 .2l1 0m6.7 .1l1 0m.1-.1l1 0m.8-.2l1 0m-.8 .5l1 0m.5 2.2l1 0m1.9-1.2l1 0m2.1-.2l1 0m1.2 .3l1 0m1.2-1.4l1 0m-.9 .5l1 0m.3 .6l-1.6 1.6 1.6 1.6m7.3-2.8l-1.6 1.6 1.6 1.6m0-2.2l1 0m-.4-2l1 0m3.9-.4l1 0m.2 2l1 0m2.4-.9l1.4 1.5 1.2 1.4m-2.2-1.9l1 0m3.9 .4l1 0m-.4-.3l1 0m-107.8 1.1l1 0m1.5 .4l1 0m.3 .4l1 0m-.6 .4l1 0m-.3 .3l1 0m-.4-1.8l1 0m-.8 2.5l1 0m1.1-1.4l1 0m-.9 1.1l1 0m-1-.4l1 0m.8 .1l1 0m-1-.8l1 0m13.9 1.2l1 0m-.6-1.6l1 0m.2 0l1 0m.5 0l1 0m.3 1.5l1 0m-.1-1.1l-1.6 1.6 1.6 1.6m.7-1.9l1 0m1.4-.7l-1.6 1.6 1.6 1.6m.5-5.1l1 0m-.6 1.4l1.4 1.5 1.2 1.4m-1.2-1.7l1 0m-.9-2.1l1 0m-1 1.5l1 0m-.5 .2l1 0m.9-.2l1 0m-.3 .5l1 0m.1-2l1 0m-.5 1.4l1 0m-.2-1.8l1 0m0 .7l1 0m1.2-.3l1 0m.6 1l1 0m-.6-.3l1 0m.5-.2l1 0m-.3 .7l-1.6 1.6 1.6 1.6m.1-4.9l1 0m-.9 1.8l1 0m-.7-.2l1 0m1.4 .3l1 0m0-1.6l1 0m-.4 1l1 0m-.8 0l1 0m-.4 0l1.4 1.5 1.2 1.4m-2.6-2l1 0m.3-1.4l1 0m0 1.9l1 0m.7-1.2l1 0m-.7-1.1l1 0m-.4 1.1l-1.6 1.6 1.6 1.6m1.9-2.5l1 0m-1 .3l1 0m-.7-2.1l1 0m-.7 1.3l1 0m-.9-.8l1 0m.5 .8l1 0m-.5-.2l1.4 1.5 1.2 1.4m-1.3-3.8l1 0m.4 1.1l1.4 1.5 1.2 1.4m-.6-2.9l1 0m2.4-.2l1 0m-.8-.3l1 0m-.7 1.2l1 0m-.1-1l1 0m1.4 1.2l1 0m.3-.2l1 0m-.3-.6l-1.6 1.6 1.6 1.6m2.8-3l1 0m-.7-.6l1 0m1.1 1l1 0m.9 .2l1 0m2-1l-1.6 1.6 1.6 1.6m1.7-2.5l1.4 1.5 1.2 1.4m-1.2-3.4l1 0m-.3-.8l1 0m-.7 1l1 0m0-.7l1 0m-.8 .7l1 0m-.8-2l1 0m-.2 1.1l1 0m-.9 .9l-1.6 1.6 1.6 1.6m1.1-3.2l1 0m1.2 0l1 0m.1-.8l1 0m1.5 .3l1 0m.8 .8l1 0m6.3-.1l1 0m-.9-.1l1 0m.6-1.6l1 0m-111.5 4.4l1 0m-.3 .5l1 0m0-2.3l1 0m.5 .6l1 0m3.7 1.7l1 0m-1-.7l1.4 1.5 1.2 1.4m-1-4.2l1 0m15.4 .4l1 0m1.4-.8l1 0m-.5 1.4l1 0m-.8 1.3l1 0m3.2-2.4l1 0m7.3 2l1 0m-.1-.5l1 0m2-.4l1 0m2.6 1.1l1 0m.6-2.5l1 0m3 .4l1 0m-.6 .8l1 0m.6-1.3l1 0m-.6 1.4l1 0m-.6-1.1l1 0m0-.2l1 0m-.6-.1l1 0m-.4 2.7l1 0m-.1-.2l1 0m-.5-.2l1 0m2.2 .2l1 0m-.2-1.1l1 0m.3-1.3l1 0m-.8 .4l1 0m.5 2.2l1 0m.8-1.4l1 0m-.6-1.4l1 0m2.6 .5l1 0m-.1 .9l1 0m.8 .5l1 0m.2 .9l1 0m-.2-2.7l1 0m4.2 .1l1 0m.4 .4l1 0m1.9 2.1l1.4 1.5 1.2 1.4m-1.2-5.1l1 0m6.1-.1l1 0m-.4-.1l1 0m1.3 .3l1 0m5.3 1l1 0m.5 .3l1.4 1.5 1.2 1.4m-1.1-3.1l1 0m2.7-1.7l1 0m-.6 2.2l1 0m1-1.7l1 0m.9 2.3l1.4 1.5 1.2 1.4m-119.3-.2l1 0m6.4-.4l1 0m.1-1.4l1 0m-.2 .8l1 0m-.7 .1l1 0m0 .7l1 0m-.5 .4l1.4 1.5 1.2 1.4m-.5-5.7l-1.6 1.6 1.6 1.6m.2-1.5l1 0m4.1 .4l1.3 0m1.2 0l1.3 0m1-1.4l1.3 0m-1.1 1.4l1.3 0m4.9-1.4l1.3 0m-1 1.4l1.3 0m0 .7l1 0m-.2-2.1l1.3 0m-1.3 1.4l1.3 0m1.2-1.4l1.3 0m-1 2.1l1 0m.3-.5l1 0m-.5-1.6l1.3 0m-.3 1.6l1 0m1.7-2.2l1 0m-.7 1l1 0m-.2 1l1.3 0m.7-1.4l1.3 0m1 0l1.3 0m-.4 1.3l1 0m-.7 .2l1 0m.5-1.5l1.3 0m3.1 1.4l1.3 0m3.5-2l1 0m-.7 2l1.3 0m1 0l1.3 0m.6 0l1.3 0m.9 0l1.3 0m-1-1.4l1.3 0m.6 1.3l1 0m-1-1.3l1.3 0m.9 0l1.3 0m-.6 1.4l1.3 0m.4-1.4l1.3 0m1.3 1.4l1.3 0m-.9 .2l1 0m.6-1.6l1.3 0m1.6 .7l1 0m1-.2l1 0m2.9 .6l1 0m1.7 .5l1 0m-.3-.3l1 0m-.5 .2l1 0m-.2-1.1l1 0m-.7-.3l1 0m1.4 .8l1 0m1.2-.6l1 0m2.2-.4l1 0m2.9 1.6l1 0m8.1-1.2l1 0m-.9 .1l1 0m2.4 .2l1 0m-.8 1.5l1 0m-.4-1.6l1 0m0 1l1 0m.8-.5l1 0m.3 .4l1 0m-.6-.6l1 0m-118.6 2.5l1 0m.6-.7l-1.6 1.6 1.6 1.6m.3-.6l1 0m1.4-2.7l1 0m.9 2l1 0m.6-2.1l1 0m0 .4l1 0m-.8 .5l1 0m1.2-.4l1 0m0-.5l1 0m-.8 2.8l1 0m1.2-1.2l1.3 0m-1.2-1.3l1.3 0m.7 0l1.3 0m-1.1 1.3l1.3 0m1.1 0l1.3 0m-1.3-1.3l1.3 0m1 1.3l1.3 0m-.3 .5l1 0m.3-.5l1.3 0m1.1-1.3l1.3 0m0 .2l1 0m-.1-.2l1.3 0m-1.3 1.3l1.3 0m-.5-.5l1 0m.3-.8l1.3 0m1.2 0l1.3 0m1.1 1.3l1.3 0m.8 0l1.3 0m.9-1.3l1.3 0m-.2 2.2l1 0m.3-2.2l1.3 0m.8 0l1.3 0m-.1-.1l1 0m0 .1l1.3 0m3.5 1.3l1.3 0m-1.2-1.3l1.3 0m-.9 1.5l1 0m1-.2l1.3 0m.5-1.3l1.3 0m1.1 1.3l1.3 0m-.8 .9l1 0m1-.9l1.3 0m-1 .4l1 0m.8 .9l1 0m.8-2.6l1 0m-.2 1.3l1.3 0m.9 0l1.3 0m.8 0l1.3 0m-1.2-1.3l1.3 0m1 1.3l1.3 0m1 0l1.3 0m-.1-.9l1 0m4.6 0l1 0m3.2 1l1 0m-.6-1l1 0m.9 1.1l1 0m3.3 .4l1 0m13.1-2l1 0m1.1 0l1 0m.9 2.6l1 0m0-2.6l-1.6 1.6 1.6 1.6m.5-.8l1 0m2.7-2.7l1.4 1.5 1.2 1.4m-.9-2l1 0m1.5 1.4l1 0m-.2-1.1l1 0m-119.9 2.3l1 0m0 .5l1 0m-.5-.3l1 0m-.2 .8l1 0m-.6 .1l1 0m-.6-.9l1 0m1.3 0l1 0m.2 2l1 0m-.9 0l1 0m2-1.7l1 0m-.8-.2l1 0m.6 .3l1 0m.6-1l1.3 0m-.5 1.9l1 0m.6-1.9l1.3 0m-.3 1l-1.7 2.2 1.7 2.2m1.5-5.4l1.3 0m.2 1.1l-1.7 2.2 1.7 2.2m.5-5.5l1.3 0m1 0l1.3 0m-.2 1.2l-1.7 2.2 1.7 2.2m1.5-5.6l1.3 0m.5 0l1.3 0m1 0l1.3 0m-.3 2.8l1 0m.5-2.8l1.3 0m1 1l-1.7 2.2 1.7 2.2m4.8-5.4l1.3 0m.7 0l1.3 0m-1.2 .9l-1.7 2.2 1.7 2.2m4.9-5.3l1.3 0m.5 .9l-1.7 2.2 1.7 2.2m2.3-5.3l1.3 0m0 0l1 0m-.6 1l-1.7 2.2 1.7 2.2m.9-5.4l1.3 0m.7 0l1 0m-.6 1l-1.7 2.2 1.7 2.2m3.5-4.2l-1.7 2.2 1.7 2.2m.9-5.6l1.3 0m.9 0l1.3 0m-.7 .8l-1.7 2.2 1.7 2.2m2.1-5.2l1.3 0m-.4 1.2l-1.7 2.2 1.7 2.2m3.5-4.8l1 0m-1-.8l1.3 0m1.3 0l1.3 0m-.1 1l-1.7 2.2 1.7 2.2m.7-5.4l1.3 0m11.6 1.5l1 0m-.9 .1l1 0m.5-1.3l-1.6 1.6 1.6 1.6m.5-3.6l1 0m1.3 2.2l1 0m.2-1.1l1 0m-.1-.6l1 0m-.7-.3l1 0m-.2 .9l1 0m-.4 .9l1 0m-.4 .5l1 0m-.7-.5l1 0m-.6-1.7l1.4 1.5 1.2 1.4m-1.9-2.2l1 0m1.7-.2l1 0m.4 .7l1 0m1.2-.8l1 0m-.7 1.3l1 0m3.1-1.7l-1.6 1.6 1.6 1.6m1.2-3.2l1.4 1.5 1.2 1.4m-1.5-1.1l1 0m.3 .8l1 0m2 0l1 0m-.7-1.6l1 0m-.4 0l1 0m.2 .6l1 0m.5-1l1 0m-.6 .2l1 0m-.6 .6l1 0m.8 .7l1 0m.7-1.8l1 0m-.2 1.9l1 0m-118.5 .8l1 0m-.8 1.1l1 0m1 .6l1 0m-.8-.8l1 0m-.5 1l1 0m1.2 .2l1 0m-.5-.7l1 0m3.8-1.4l1 0m.8 2.2l-1.7 1.9 1.7 1.9m3-3.7l-1.7 1.9 1.7 1.9m3.9-3.7l-1.7 1.9 1.7 1.9m3.1-6.2l1 0m-.9 2.5l-1.7 1.9 1.7 1.9m2.6-3.9l1 0m-.2-.8l1 0m-.9 .4l-1.7 1.9 1.7 1.9m7.2-3.8l-1.7 1.9 1.7 1.9m1.3-5.9l1 0m1.1 2.2l-1.7 1.9 1.7 1.9m4.4-3.6l1 0m.3-1.1l1 0m10.8 1.2l-1.7 1.9 1.7 1.9m6.7-3.8l-1.7 1.9 1.7 1.9m3.7-3.8l-1.7 1.9 1.7 1.9m2.2-5.7l1 0m.4 1.7l-1.7 1.9 1.7 1.9m1-3.9l1 0m1.3 .2l-1.7 1.9 1.7 1.9m1.2-5.6l1 0m1.7-.6l1 0m5.2 .1l1.4 1.5 1.2 1.4m-2.3-2.6l1 0m2.8 0l1 0m-.5 0l-1.6 1.6 1.6 1.6m3.2-1.4l1 0m-.4-.7l1 0m1.6 .1l1 0m2.5 1.1l1 0m-.7-.2l1 0m-.9-2.7l1 0m.4 2.1l1 0m0 0l1 0m-.6 .6l1 0m2.2-.1l1 0m.2-1l1 0m.9-1.3l1 0m.2-.3l1 0m1.3 .2l1 0m1.8 1.8l1 0m-.1 .2l1 0m-1-2l1 0m-.4 1.9l1 0m-.8 .6l1 0m-.1-2.4l-1.6 1.6 1.6 1.6m2-2l1 0m-.4-1.1l1 0m-.4 .4l1 0m-114.8 3.8l1.4 1.5 1.2 1.4m-2.2-2.2l1 0m-.1-1.1l1 0m0-.4l1 0m10.7 1.5l1 0m-.5-1.6l1 0m.5-.6l1 0m3 2.9l1 0m0-1.4l1 0m2.3 1.3l1 0m-.1-2.8l1 0m6 2.6l1 0m4.1-.9l1 0m2.9-1.2l1 0m1.4 1.6l1 0m.2 .3l1 0m.8-1.7l1 0m-.1 1.5l1 0m2.2-.8l1 0m6.6 .2l1 0m7.3-.9l1 0m4.6-.7l1 0m5.8-.1l1 0m-.9 .1l1 0m1.6 .7l-1.6 1.6 1.6 1.6m1.4-2.2l1 0m4.1-1.2l1 0m1.2 .5l1.4 1.5 1.2 1.4m2.9-3.3l1 0m2.7 .6l1 0m2.6 1.7l1 0m1.8-2.2l1 0m-1 .5l1.4 1.5 1.2 1.4m-1.8-3.3l1 0m-.9-.2l1 0m.3 0l1 0m-.4 .4l1.4 1.5 1.2 1.4m-1.1-3.9l1 0m-.3 1.3l1 0m.7 1.4l1 0m-.1-2l-1.6 1.6 1.6 1.6m2-3.5l1 0m-1 .3l1.4 1.5 1.2 1.4m-114.9 .9l1 0m3.7-.6l1 0m-.6 .1l-1.7 2.2 1.7 2.2m3.4-4.9l-1.7 2.2 1.7 2.2m2.3-4.5l1 0m.1 .1l-1.7 2.2 1.7 2.2m1.6-5l1 0m.6 .9l-1.7 2.2 1.7 2.2m.4-3.6l1 0m-.1-.5l1 0m1.5-.7l-1.7 2.2 1.7 2.2m3.1-4.4l-1.7 2.2 1.7 2.2m3-3.6l1 0m0-.7l-1.7 2.2 1.7 2.2m6.5-4.1l-1.7 2.2 1.7 2.2m1.9-3.3l1 0m.9-1l-1.7 2.2 1.7 2.2m2.7-4.8l1 0m-.3 .2l-1.7 2.2 1.7 2.2m.8-4.2l1 0m1.7 1.5l1 0m-.9-1.9l-1.7 2.2 1.7 2.2m3.6-4.4l-1.7 2.2 1.7 2.2m1.8-2.3l1 0m.4-1.8l-1.7 2.2 1.7 2.2m3.5-3.6l1 0m.6-1.3l1 0m.8 .4l1 0m-.8 .2l-1.7 2.2 1.7 2.2m10.8-4.8l-1.7 2.2 1.7 2.2m3.1-4.3l-1.7 2.2 1.7 2.2m.8-3.3l1 0m-.5-1.5l1 0m-.6 2.5l1 0m-1-1.2l1 0m6.9 .1l1 0m1-1.4l1 0m2.2-.1l1 0m.1 .5l1 0m6.3 1.4l-1.6 1.6 1.6 1.6m.8-4l1 0m1.2 0l-1.6 1.6 1.6 1.6m1.2-3.3l1 0m0 1.8l1 0m-.1-.3l1 0m2.6-1.8l-1.6 1.6 1.6 1.6m3.2-3.4l1 0m-.9-.3l1 0m-.3 1l-1.6 1.6 1.6 1.6m1.4-3.4l1 0m-.5-1.1l1 0m-.3 2.2l1 0m-.7-1l-1.6 1.6 1.6 1.6m1.8-3.3l1 0m-108.4 4.3l-1.7 1.9 1.7 1.9m.6-5.3l1 0m4.3-.2l1 0m.9 1.6l1 0m-.3 .1l1 0m.5-.2l-1.7 1.9 1.7 1.9m0-3.4l1 0m1.1-2.2l1 0m.7 1.4l-1.7 1.9 1.7 1.9m3.3-3.5l1 0m2.8-.2l-1.7 1.9 1.7 1.9m3.4-3.6l-1.7 1.9 1.7 1.9m1.9-3l1 0m2.9-1.7l1 0m1 .3l1 0m-.7-1.3l1 0m2.2 1.4l1 0m-.8 1.3l1 0m1.4-1l-1.7 1.9 1.7 1.9m3.8-3.7l1 0m2 .2l-1.7 1.9 1.7 1.9m2.5-4.6l1 0m.3 .5l-1.7 1.9 1.7 1.9m3.3-3.8l1 0m1.4 .2l1 0m4.2-.6l1 0m2.2 .4l-1.7 1.9 1.7 1.9m2.7-3.1l1 0m-.6-.6l-1.7 1.9 1.7 1.9m.4-4.5l1 0m1.3 .1l1.4 1.5 1.2 1.4m-1.9-4.3l1 0m2.5 2.8l1 0m3.3-.5l1 0m-.7-2.2l1 0m-.3 2.2l1 0m-.5-.7l1.4 1.5 1.2 1.4m-2.5-1.7l1 0m3.2-2.5l1 0m.6 2.5l1 0m1.2-.8l1 0m-.8 .9l1 0m.3-1.7l1.4 1.5 1.2 1.4m-2-3.9l1 0m4.2 1.2l1.4 1.5 1.2 1.4m-1.8-1.7l1 0m.4-2.7l1 0m.3 1.9l1.4 1.5 1.2 1.4m0-2.4l1 0m-.9-.5l1 0m.6-1.2l1 0m-.9-.3l1 0m-.8 1.2l1 0m-.4-1.4l1 0m.5 1.9l1.4 1.5 1.2 1.4m0-3.2l1 0m-.3-1.7l1 0m-.9 2.7l1 0m1-.8l1 0m-.4 .3l1 0m-108 .9l1 0m1.3 .7l1 0m-.4 1l1 0m-.4-.9l1 0m.1 .5l1 0m6 .4l1 0m2.6 .1l1 0m3.9 .5l1 0m1.7-.5l1 0m.1-1.8l1 0m-.4 1.9l1 0m.7-1l1 0m-.7-.5l1 0m-.3 1l1 0m1.8 1.1l1 0m10.3-2.3l1 0m19.6 0l1 0m1.7 .8l1 0m-.6-.2l1 0m-.8 1.1l1 0m-.8 .2l1 0m-1 .2l1 0m.9 .3l1 0m2.7 0l1 0m-.1-1.3l1 0m3.8-.7l1 0m.5-.1l1 0m-.6 1l1 0m-.5-1.2l1 0m.6 2.3l1.4 1.5 1.2 1.4m1.2-3.4l1 0m4.3-.4l1 0m.7-1.6l1 0m6.1 1.7l1 0m2.5 .9l1 0m-.8-.1l1 0m1-.3l1 0m1-.4l1 0m-103.3 1.4l1 0m0 2.5l1.4 1.5 1.2 1.4m-.4-2.9l1 0m-.1-1.9l1 0m.1 .2l1 0m-.2 .1l1 0m-.2 .7l1 0m-.9-1.2l1 0m1.1 1.3l-1.6 1.6 1.6 1.6m.2-5.3l1 0m1.1 1.6l1 0m2.6 .2l1 0m-1 .9l1 0m.8 .1l1 0m.1-1l1 0m2.6 .8l-1.6 1.6 1.6 1.6m1.7-3.3l1.4 1.5 1.2 1.4m.5-4.2l1 0m-.5 1.3l1 0m4.2-1.2l1 0m2.5 .2l1 0m-.5-.3l1 0m-.8-.1l1 0m.3 1l-1.6 1.6 1.6 1.6m.6-3.2l1 0m-.6 .5l1 0m0 0l1 0m-.5 .2l1 0m1.5-.9l1 0m.2 .7l-1.6 1.6 1.6 1.6m2.4-3.2l1 0m-.5-1.5l1 0m-.9 1.5l1 0m5.1-.9l1 0m0-1.5l1 0m-.8 2.1l1 0m-.7-1.3l1 0m-.4-.8l1 0m-.8 2.5l1 0m.3-.8l1 0m-.6 .4l1 0m.7-.3l1 0m1.2 .5l1 0m-.3-.1l1 0m2.2-1.8l1 0m-.6 1l1 0m3.3 0l1 0m8.8 .8l-1.6 1.6 1.6 1.6m4.1-3.1l1 0m.8-.5l1 0m-.9-1.9l1 0m.5 .9l1 0m.5 1.2l-1.6 1.6 1.6 1.6m6.9-3l1 0m.4 .2l1 0m2.7-2.4l1 0m.3 .5l1 0m-101.8 2.2l1 0m3.9 2.8l1 0m.2-2.2l1 0m-.7 .1l1 0m-.9 .5l1 0m0 1.3l-1.6 1.6 1.6 1.6m.8-4.1l1 0m-.9 1.2l1 0m-.4 .1l1 0m.5-.3l1 0m-.7 .3l-1.6 1.6 1.6 1.6m.1-5.9l1 0m.6 .3l1 0m-.4 .4l1 0m-.3 .5l1 0m.3-.3l1 0m-.5 0l1 0m5 .7l1 0m-.3 .1l1 0m-.8-.7l1 0m1.7 1.2l1 0m1.3-1.9l1 0m-.6 .1l1 0m1.3 .8l1 0m.1 1l1 0m3-1.5l1 0m-1 .5l1 0m-.1-.2l1 0m-.5-.6l1 0m-.4 .7l1 0m-.4 .6l1 0m-.9-.2l1 0m-1-1.6l1 0m-.4 1.3l1 0m-.9-1.4l1.4 1.5 1.2 1.4m-1.9-.6l1 0m0 .6l1 0m-.9-.6l1 0m1.4 .1l1 0m1.5-.6l1 0m.2-.3l1 0m-.8-.7l1 0m-.9-.6l-1.6 1.6 1.6 1.6m.5-1l1 0m-.5 .3l1.4 1.5 1.2 1.4m-1.7-4.5l1 0m-.9-.8l1 0m-.2 2.7l1 0m.4-.7l1 0m-.6-2l1 0m0 1.6l1 0m-.7-.8l1 0m-.5 1.7l1 0m-.3-2.1l1 0m-.6 .9l1 0m-.2 0l1 0m-.6-1.5l-1.6 1.6 1.6 1.6m.5-.9l1 0m-.5-1.5l1 0m-.5 .4l1 0m-.2-.4l1 0m-.4 .8l1 0m-.4-1l1 0m-.4 .2l1 0m.2 .6l1 0m.1 1l1 0m-.5-2.2l-1.6 1.6 1.6 1.6m2-.7l1 0m6.9-.1l1 0m1.8-.2l1 0m-.1-1.6l1 0m2.9 1.1l1 0m9.4 .7l1 0m3.3-1.2l1 0m-96.1 4.1l1 0m-.8-.5l1 0m.7 .8l-1.6 1.6 1.6 1.6m.1-3.4l1 0m-.7-1l1 0m.6 1.2l1.4 1.5 1.2 1.4m-2.2-3.4l1 0m-.4-.9l1 0m-.7 1.1l1 0m-.6-2.4l-1.6 1.6 1.6 1.6m.2-.4l1 0m-.5-1l1 0m-.2-1l1 0m2.5 .8l1 0m.1 .4l1 0m-.1-1.3l1 0m-.9 .6l1 0m-.8-.8l1.4 1.5 1.2 1.4m-1.3-.7l1 0m.2-1.5l1 0m.7-.8l1 0m-.6-.5l1 0m-.4 2.2l1 0m-.5-.1l1 0m1.2-2.1l1 0m-.9 2.9l-1.6 1.6 1.6 1.6m1.2-6.1l1 0m-.9 2.8l1 0m2.6-2.3l1.4 1.5 1.2 1.4m-2.3-.7l1 0m0-1.4l1 0m.5-.1l1 0m.8-.4l1 0m-.6 .9l1 0m.2-1.1l1 0m5.5 1.6l1 0m-.9-.2l1 0m.1-.5l1 0m-.4-.6l1 0m.4-.8l1 0m-.9 2.7l1 0m-.8-2.8l1.4 1.5 1.2 1.4m-2.4-.1l1 0m1.5-2.5l1 0m-.6-.3l1 0m-.8 .2l1.4 1.5 1.2 1.4m-2.1-2.7l1 0m-.6 .7l1 0m.2 .1l1 0m-.9-.5l1 0m-.4 1.4l1 0m-.3-1.5l1 0m-.3 .1l1 0m-.6 .9l1 0m-.7-.9l1 0m-.4 1.7l1 0m-1 .2l1 0m1-1.9l1 0m-1-.2l1 0m.4 1.4l1 0m-.2 .4l1 0m1.2-.7l1 0m.6-.7l1 0m-.9 1.5l1 0m.5 .3l1 0m-.9-1.1l1 0m-.8-1.5l1 0m1.2 0l-1.6 1.6 1.6 1.6m.3-2.7l1 0m-.8-.3l1 0m-.2 1.8l1 0m.3-1.9l1 0m1.2 2.3l1 0m-.2-1.2l1 0m4.2-.8l1.4 1.5 1.2 1.4m1.7-1.4l1 0m11.6 .2l1 0m-111.3 3.5l1 0m.9 .1l1 0m1.4-.5l1 0m1 .2l1 0m1.4-2.1l-1.6 1.6 1.6 1.6m.1-.9l1 0m1.4-1.1l1 0m-.5-1.6l-1.6 1.6 1.6 1.6m1.9-.8l1 0m-.7-1.1l1 0m-.7-.8l1.4 1.5 1.2 1.4m-2.1-3.2l1 0m-.5 2l1 0m-.2-1.6l1 0m-.2 2.3l1 0m-.7-.4l1 0m-.8-.2l1 0m.7-.4l1 0m-.9-1.1l1 0m-.8 .6l1 0m-.3-.5l1 0m-.5 .6l1 0m1.8-.2l1 0m.7 .3l1 0m-.8 .8l1 0m2.2-1.5l1 0m.8-.2l1.4 1.5 1.2 1.4m-.2-3.4l1 0m-.1 .5l1 0m.2-.6l-1.6 1.6 1.6 1.6m.4-3.3l1 0m-.4 1.9l1 0m-.5-1.2l1 0m-1 .1l1 0m1.8 .3l1 0m-.3 .8l1 0m1.3 .5l1 0m-.2-1.7l1 0m-.4 1.5l1 0m-.2-1l1 0m.1 .1l1 0m-.9-.5l1.4 1.5 1.2 1.4m-1-1.6l1 0m-.7-.3l1 0m-.6 .9l1 0m1.6-1.9l1 0m-.8-.7l-1.6 1.6 1.6 1.6m1.8-2.2l1 0m-.5 .1l1 0m-.6 .3l1 0m-.7 .1l1 0m.6 .8l1 0m-.9-1.8l1 0m-.3 .9l1 0m2.7-1.4l1 0m-.8 .8l1 0m1.3 1.9l1 0m.3-2.3l1 0m-.9-.4l-1.6 1.6 1.6 1.6m.9-2.4l1 0m-.3-.8l1.4 1.5 1.2 1.4m-2.2-.2l1 0m.1-.6l1 0m-.4-.3l1 0m0 .7l1 0m-.1-2.6l-1.6 1.6 1.6 1.6m2.3-2.8l1.4 1.5 1.2 1.4m-1.2-1.7l1 0m-.6-1.5l1 0m.6 0l1 0m-.1 2.2l1 0m-.3-2.3l-1.6 1.6 1.6 1.6m1-2.2l1 0m-.1 .7l1 0m.5 .9l1 0m-.3-2.4l1 0m2.6-.3l1.4 1.5 1.2 1.4m-2.3-2.6l1 0m3.3 2.3l1 0m3.8-1.4l1 0m2.7 1.7l1 0m9-.2l1 0m3.3-2.6l-1.6 1.6 1.6 1.6m.4-.5l1 0m1.1-.9l1 0m-.6-.7l1 0m-121.7 2.5l1 0m.8 .8l1 0m-.3-.8l1 0m2.4 0l1 0m1.4-.4l1 0m1.2 2.5l1 0m.7 0l1 0m-.8-2.6l1 0m-.7 .6l1 0m-1-.5l1 0m-.7 .4l1 0m-.9 1.1l1 0m5.4 .1l1 0m0 1.1l1 0m-.1-1.2l1 0m-.5-1.1l-1.6 1.6 1.6 1.6m.8-3.5l1.4 1.5 1.2 1.4m-.8-1.5l1 0m-.9 .3l1 0m-.4-2.1l1 0m-.7 .5l1 0m.9 .2l1 0m-.3 .6l1 0m.2-.1l1 0m.9-.5l1 0m2.7 1.1l1 0m-.6-1.7l1 0m.7 1.9l1 0m-.2-.9l1 0m-.1-.8l1 0m1.6-.1l1 0m.2 1l1.4 1.5 1.2 1.4m-1.8-3.7l1 0m-.1 .2l1 0m-1-.5l1 0m-.1 1.2l1 0m-.5-1l1 0m2.2 0l1 0m2.1 1.2l1 0m-.9-.1l1 0m0-.4l-1.6 1.6 1.6 1.6m.8-4l1 0m1.8 1.6l1 0m2.2-1.5l1 0m.4 .1l1 0m1 .7l1 0m-.7 .7l1 0m5.3 0l1 0m-.7-1.4l1 0m.5 2.5l1 0m.8-2.6l1 0m-.5 .2l1 0m-.9 1.5l1 0m.1-.8l1 0m-.4-1l1 0m1.8 .8l1 0m-.6-.6l-1.6 1.6 1.6 1.6m2-2.7l1.4 1.5 1.2 1.4m-.3-3.2l1 0m-.4 2.2l1 0m.7 0l1 0m1.1-1.7l1.4 1.5 1.2 1.4m-.8-2.8l1 0m1.9 .2l1 0m.4-.5l1 0m-.8-.3l1 0m.1 .5l1 0m-.8-.5l-1.6 1.6 1.6 1.6m6.4-1.2l1 0m.6-1.6l1.4 1.5 1.2 1.4m-2.4-3.4l1 0m3.5 1.1l1 0m12.3 1.1l1 0m-105.2 1.9l1 0m1.6-.8l1 0m1.2 .8l1 0m-.6-.1l1 0m-.7-1.3l1 0m-1 1.7l1 0m.5-.2l1 0m-.7-.3l1 0m0-.1l1 0m.7 1.3l1 0m-.8-.2l1 0m0-1.7l1 0m-.4 1.4l1 0m.5-.5l1 0m-.6-.7l1 0m.6-.5l1 0m.5 .4l1 0m.3 1.3l1 0m-.6 .3l1 0m2.2-1.1l1 0m-.8-.3l1.4 1.5 1.2 1.4m-2.2-3.2l1 0m.2 1.7l1 0m-.6-1.6l1 0m-1 1.6l1 0m.4-2.4l1 0m-.4 .2l1 0m-.8 1l1 0m-.4 1.3l1 0m-.8-.8l1 0m-.9-1.5l1 0m-.5 2.5l1 0m0-2.4l1 0m-.8-.2l1 0m-.4 .2l1 0m1.7 2.5l1 0m1.1-.5l1 0m-.4 .5l1 0m-.9 0l1 0m0-2.2l1 0m-.9 1.5l1 0m6.3-1.6l1 0m.7 .1l1 0m.5 .7l1 0m2 1.2l1 0m1.9-1.3l-1.6 1.6 1.6 1.6m4.4-3.7l1 0m-.9-.1l1 0m-.1-.4l1 0m-.1 1.6l1 0m-.3-1.4l1 0m.8 2.5l1 0m-.7-2.8l1 0m.1 1.1l1 0m.6-.4l1.4 1.5 1.2 1.4m-1-2.4l1 0m-.8-1l1 0m-.1 2.4l1 0m.9 .3l1 0m-.8-1.6l1 0m-.7 1.3l1 0m-.1-2.4l1 0m.6 1l-1.6 1.6 1.6 1.6m1.5-1.7l1 0m.1-.4l1 0m3.7-1.7l1 0m4 1.9l1 0m.9-1.9l1 0m.4 2l1 0m1.4-1l1 0m3-1l1 0m.3 .7l1 0m3.2 .8l2.6-.4m.2 1.1l1 0m-.9-.6l2.6-.4m-1.1-.9l1 0m.7 1.3l1 0m-90.4 .9l1 0m5-.1l1 0m5.5 .5l1 0m4 .5l1 0m7.6 .1l1 0m.5-.4l1 0m4.3 .3l1 0m4.8 .9l2.6-.4m-.4 .5l1 0m-1 0l1 0m.2-1.3l1 0m.8-.2l1 0m-.4 2l2.6-.4m-2.2-.9l1 0m-.8 1.5l1 0m2-.8l1 0m-.8-1.8l1 0m-1 2.3l2.6-.4m-1.1-.5l1 0m-.1 .7l2.6-.4m-2.1 0l1 0m1.9-1.2l1 0m.6 2.2l1 0m2.7-1.8l1 0m.4 1.3l2.6-.4m-1.8 .3l1 0m-.8-1.3l1 0m3.3-.6l1 0m1.3 1.4l1 0m-.1-1.1l1 0m-.1 .9l1 0m3.6 0l1 0m9.9 .2l1 0m1.8 0l1 0m1.1 .3l1 0m-103.8 3.4l1 0m-.6 .4l1 0m1.6-.1l2.6-.4m-.3 .6l2.6-.4m-.6-.9l1 0m1 1.1l2.6-.4m-1.1 .5l1 0m.8-.1l2.6-.4m-.6 .2l1 0m-.9 .1l1 0m-.3-.8l1 0m-.6 .4l1 0m-.6-.5l1 0m-.9 .1l1 0m1.3 1l2.6-.4m-1.6-.2l1 0m.4-.7l1 0m0 1.1l1 0m1.3 0l1 0m-.5-.5l2.6-.4m-.8 .6l1 0m.4 .3l2.6-.4m.5-.3l2.6-.4m-.4 1.1l1 0m0-.2l1 0m1.5 .1l1 0m2.7 .2l1 0m-.6-.2l1 0m-.5-.3l2.6-.4m-.1 .6l1 0m-.5 .1l1 0m3.3 .2l1 0m1-.5l1 0m-.6 .6l1 0m.1-.7l1 0m.6 .3l1 0m-.4-.7l1 0m-.8 .7l1 0m.2-1.1l1 0m-1-.8l1 0m-.6 .4l1 0m-.9 1.6l1 0m1.3-.3l1 0m.3-1l1 0m-.9-.8l1 0m.8 1.6l1 0m-.9-1.8l1 0m0 .4l1 0m-.5 1.3l1 0m1.2-1.6l1 0m-.8 1.7l1 0m0-.1l2.6-.4m-2-.5l1 0m2.9-1.1l1 0m-.3 2.7l1 0m2.3-1.5l1 0m3.3 1.1l1 0m4.1 .3l1 0m.1 .1l1 0m-.4-2.1l1 0m-.9 1.5l1 0m4.2-.3l1 0m-.1 1.1l1 0m-.1-1l1 0m-.1 .7l1 0m-.1 .1l1 0m0-.4l1 0m.3 0l1 0m-.5-.1l1 0m.4-2l1 0m4.2 2.5l1 0m-117.7 2.6l1 0m-.8-.6l1 0m.1 .6l1 0m-.5-.9l1 0m.1-.7l1 0m1-.2l1 0m.9 2.3l1 0m1.4-.6l1 0m1.4-1l1 0m-.2 .3l1 0m1.3 1.5l2.6-.4m-1.1-.7l1 0m0 0l1 0m-.8 .6l2.6-.4m-2.3 .9l1 0m-.8-.5l1 0m.9-1.8l1 0m.9 1.2l1 0m1.6-.1l1 0m-.7 .8l1 0m0-1l1 0m0-.4l1 0m1.2 .5l1 0m.7 .9l1 0m-.6-.1l1 0m-.4-1.9l1 0m-.7 1.1l1 0m.4-.5l1 0m.7 1.2l1 0m-.3-2.3l1 0m.3 0l1 0m-.3 1.8l1 0m.1 .1l1 0m-.4 .6l1 0m-.5 .2l2.6-.4m-2.4 .3l1 0m-.7-2.2l1 0m1.2-.4l1 0m3.3 2.8l1 0m-1-.3l2.6-.4m.9 .2l1 0m.7-.7l1 0m-.4 1l2.6-.4m-2-.8l1 0m1.8-.5l1 0m-.8-.9l1 0m-.9 2.7l2.6-.4m-2.2 .2l1 0m.6-2.5l1 0m-.9 2l1 0m-.4 .3l1 0m-.8 .2l1 0m-.4-1.3l1 0m1.3-1.3l2.6-.4m-2.3 2.8l2.6-.4m-2.3 .2l1 0m.9-.4l1 0m-.9-1.4l1 0m-.7 1.7l1 0m-.7-2l2.6-.4m-2.5 2.5l1 0m-.3-1.2l1 0m-.9 1.3l2.6-.4m-2.4 .4l1 0m-1 .2l1 0m-.3-2.2l1 0m.9 2.5l2.6-.4m-2.2-2.3l2.6-.4m-2.3 1.5l1 0m.7-.3l1 0m-1-.7l1 0m-.9 .6l1 0m-.5 1.8l1 0m-.1-2.5l1 0m-.8 .1l1 0m-.8 2.2l1 0m.8 .2l2.6-.4m-1.1 .2l1 0m2.1-.3l1 0m-.4 .8l1 0m-.8-2.8l1 0m-.3 .4l1 0m-.7 1.4l1 0m-.4 .4l2.6-.4m6.5 .6l1 0m-.2-.1l1 0m.2-.7l1 0m-.8 .2l1 0m5.1-1.1l1 0m-.8 1.9l1 0m-.9-1.7l1 0m2.1-.7l1 0m-.6 1.7l1 0m3.7 .2l1 0m4.3 0l1 0m-119.9 3.6l1 0m-.5-.1l2.6-.4m-.6 .4l1 0m-.9-1.4l1 0m2.5 1.3l1 0m-.7-.8l1 0m.4-1.6l2.6-.4m-2.5 2.1l1 0m1.8-1.5l1 0m-.8 1.9l1 0m1.6-.3l1 0m.8 .8l1 0m.7 0l2.6-.4m-1.1 .3l1 0m-.6-2.7l1 0m.7 2.3l1 0m1.9-1.7l1 0m1.9 2.2l1 0m-.5-2.2l1 0m-.8-.4l1 0m-.9 2.8l1 0m1.6-1.5l1 0m-.9-1.4l1 0m1.5 2.6l1 0m-.2-1.4l1 0m.5-1.1l1 0m-.7 1l1 0m.8-.8l1 0m0 .5l1 0m-.9 2.1l1 0m.9-2.1l1 0m-.2 1.9l1 0m-.5-1.9l1 0m2.4-.5l1 0m2.1 2.5l1 0m-.9-.8l1 0m1.2-1.9l1 0m-.3 .1l1 0m-.2 2.4l1 0m.6 .2l1 0m-.5-2.5l1 0m-.1 1.2l1 0m.3-1.5l2.6-.4m-1.9 .5l1 0m3.4 1.4l1 0m-.5 1.3l1 0m0-2.5l1 0m.7 1l1 0m-.8-.3l1 0m-.5 1.1l1 0m3.6-2.1l1 0m-1 .8l1 0m-.4-.5l1 0m-.5 .9l1 0m0-1.2l1 0m.7 2l1 0m0 .6l2.6-.4m-2.1 .5l1 0m-1-2.2l1 0m-.4-.4l1 0m1.1-.1l1 0m-.8-.1l2.6-.4m-2.1 1.1l1 0m-.9 2.2l1 0m-.3-2.9l1 0m.3 2.1l1 0m.5-1.8l1 0m-.9 .5l1 0m1-.4l1 0m-.4 2.2l1 0m-.6-1.4l1 0m-.3 1.4l1 0m.5-.2l1 0m4.8 .2l1 0m3.6-2.4l2.6-.4m10.7 3l1 0m5.7 0l1 0m2.6-.2l1 0m1-2.5l1 0m-125.1 5.1l1 0m-.7-1.5l1 0m.3 1.5l1 0m.4 .6l1 0m.1-.8l1 0m1.3-2l1 0m-.4 2.3l1 0m-.1-2l2.6-.4m-2.4 .3l1 0m-.9 .1l1 0m2.7-.1l2.6-.4m-1.5 1.1l1 0m-.2 1.6l1 0m-.8-2.4l1 0m.3 .6l2.6-.4m.6-.1l1 0m-.8 2.6l1 0m-.9-1.7l1 0m.9-.6l2.6-.4m-1.2 .3l1 0m1.8 .1l1 0m-.9-.2l2.6-.4m-2.4 2.8l1 0m1.3-.1l1 0m-.7-2.4l1 0m-.8 0l2.6-.4m-2.1 .4l1 0m-.8 2.5l1 0m-.8-1.7l1 0m1.2 .1l1 0m-.9-.9l2.6-.4m-.5 1.7l1 0m-.8-1.1l1 0m-.9-.3l2.6-.4m-1.6 .4l1 0m-.9 .8l1 0m-.1 1.9l1 0m.7-2.5l2.6-.4m1.6 1.1l1 0m-.3 0l1 0m-.2-.3l1 0m-.9-.3l1 0m1.4 .7l1 0m-.1 0l1 0m-.5-.4l1 0m-.7-.4l2.6-.4m-.8 3l1 0m-1-2.6l1 0m.8 1l1 0m-.6-.9l1 0m1 .3l2.6-.4m.4 .8l1 0m-.3-.2l2.6-.4m-.4 0l1 0m-.8 0l2.6-.4m-1.8 .5l1 0m1.6 2.2l1 0m-.3-.6l1 0m.3-1.8l1 0m1 .4l2.6-.4m.1 2.4l1 0m-.8-2.6l2.6-.4m-1.6 .9l1 0m.2-.2l1 0m-.5 .1l2.6-.4m-2.5 .6l1 0m0 1.2l1 0m-.2-1.3l1 0m-.7 1.1l1 0m-.6-.6l1 0m-1 1.1l1 0m.9-1.5l1 0m1-.2l2.6-.4m-1-.2l1 0m3.1 1l1 0m-.2-.7l2.6-.4m1.6 2.6l1 0m.6-2.2l1 0m4.5 1.7l1 0m2.3-.2l1 0m-.7-.4l1 0m1.2-1.1l1 0m0 2.2l1 0m-.1-2.5l2.6-.4m2.8 .7l1 0m3.3 2.7l1 0m-.9-2.3l1 0m1.5 2.2l1 0m3-2.1l2.6-.4m-.6-.1l1 0m-124.9 3l2.6-.4m-1.7 1.1l1 0m-.9-.6l1 0m-.2-.1l1 0m1.1-.1l1 0m-.7 1l1 0m-.7-.1l1 0m-.4 .6l1 0m1.9-.8l1 0m-.6 .8l1 0m-.9-.4l1 0m0-.5l2.6-.4m1.3 .4l2.6-.4m-2.4-.3l1 0m-.1 .7l1 0m-1 1.7l1 0m.2-.7l1 0m-.8 1.2l1 0m-.9-2.1l2.6-.4m-1.1-.1l1 0m-.8 2.4l1 0m-1-1.9l1 0m-.5 .8l1 0m-1-.7l1 0m-.2-.4l2.6-.4m-2.4 1.9l1 0m-.1-1l1 0m-.9-.3l1 0m.9-.6l2.6-.4m-.8 .2l1 0m1.3 1.2l2.6-.4m-1.6-.7l1 0m.6 1.7l1 0m-.1-.7l1 0m-1-.8l1 0m.3 .2l1 0m-1 2l1 0m-.7-1.6l1 0m-.2 .4l1 0m1.3 .7l1 0m.2-1.5l1 0m1.3 2.3l1 0m-.1-1.5l1 0m-.9-.5l2.6-.4m-2.1 1.8l1 0m.6-1.9l1 0m-.9 1.6l1 0m-.8-1.8l2.6-.4m-1.9 1.1l1 0m-.6 1.7l1 0m-.5-.8l1 0m-.5 .4l1 0m.3-1.8l1 0m2.4 0l2.6-.4m-1.4 1.1l1 0m0-.7l1 0m-.2 .1l2.6-.4m-2.2 1l1 0m-.3-.8l1 0m-.9 2.3l1 0m-.3-1.4l1 0m0-.1l1 0m-.1-.8l2.6-.4m-.9 1.3l1 0m-.4 0l1 0m-.8-.2l2.6-.4m-1.2 1.5l1 0m-.8-1.9l1 0m-.7 2.6l1 0m-.5-1.9l1 0m-.5-.3l1 0m-.6 2.2l1 0m-.8-2.4l2.6-.4m-2.3 .6l1 0m.3 1.5l1 0m1.2-1.2l2.6-.4m-2 1.4l1 0m-.5-1.1l1 0m-.9 .9l1 0m.1-.5l1 0m-1-.5l1 0m-.9 .9l1 0m-.7-1l1 0m-.8 .6l2.6-.4m-1 1.9l1 0m-.6-.8l1 0m-.2-.3l1 0m-.4 0l1 0m-.9-1.2l2.6-.4m-.5 1.9l1 0m-.2-.8l1 0m-.3-1l1 0m-.3 1.2l1 0m-.3-1.1l1 0m0 .3l1 0m-.8 .6l2.6-.4m-1.2-.2l1 0m.2 .5l1 0m-.7-.2l2.6-.4m-.5 1.6l1 0m.8 .4l1 0m-.6-1.7l1 0m-.4 2.2l1 0m-.5-2.7l1 0m-.3 1.3l1 0m-.9-.7l1 0m-.7 .9l1 0m.9-1.1l1 0m-.7 .4l1 0m-.8-.5l1 0m2.9 .2l2.6-.4m.6 1.6l1 0m1.5-1.4l1 0m1.5 .7l1 0m-.9-1.1l1 0m0 1.2l1 0m2.6-.4l1 0m5.3 .8l1 0m.8-.5l1 0m-91.5 2l1 0m-.4 .3l1 0m15.1 .1l1 0m.1 .2l1 0m1.3 0l1 0m.3 0l1 0m7.7 0l1 0m2.7-.3l1 0m2.3 .4l1 0m-.6-.2l1 0m2.4 .4l1 0m10.7-.7l1 0m0 .4l1 0m21.6-.7l1 0" stroke="#c040a0" stroke-width="0.9" fill="none" stroke-opacity="0.35" stroke-linejoin="round"/>
<path d="M215 165.3l1 0m-.3 1l1.3 1.5 1.1 1.3m.3-2.8l1 0m-.6-1.6l1 0m-.2 1.1l1 0m1.7 .6l1.3 1.5 1.1 1.3m-1.2-3.1l1 0m-.7-1.2l1 0m-1 .2l1 0m.9 1.3l1 0m-.3-.1l1 0m3.1-.1l1 0m20.1 0l1.3 1.5 1.1 1.3m1-3.9l1 0m.2 .3l1 0m0-.4l1 0m-1 1.4l1 0m1.5-.3l-2 2.6m2.6-2.7l1.3 1.5 1.1 1.3m-1.5-2.6l1 0m1.3-.6l1 0m1 .7l-2 2.6m4.3-4.4l1 0m-.5-.2l1 0m1.3 1.1l1 0m-.8-.9l1 0m.7 .8l1 0m1.5-1.8l-2 2.6m2.1 .1l1 0m1.2-.1l1 0m-.7-1.2l1 0m.1 1.4l1 0m-.4-1l1 0m-.4 .7l1.3 1.5 1.1 1.3m-2.3-5.3l1.3 1.5 1.1 1.3m-2.1-1.5l1 0m.2 1.5l1 0m-.7 0l1 0m16.1 0l1.3 1.5 1.1 1.3m-1.2-2.7l1 0m.4 .1l1 0m2.8-.8l1 0m-.7 .1l1 0m7.1 .5l1 0m-99.6 1.7l1 0m-.5 1.2l1 0m-.3-1.3l1 0m1.3-.9l1.3 1.5 1.1 1.3m-1-1.3l1 0m-.5 1l1 0m-.3-1.4l1 0m.2 1.1l1.3 1.5 1.1 1.3m-1.3-3.6l1 0m-.8-.7l1 0m-.5 1.8l1 0m2.8-2.2l1 0m-.7 1.1l1 0m-.4-1.6l1.3 1.5 1.1 1.3m-2.1-2.7l1 0m-.7 .8l1 0m-.7 .3l1 0m.5-.6l1 0m6.1-.1l1 0m11.9-.2l1 0m8.7 .8l1 0m2.1-.7l1 0m-.6-.5l1 0m-.6 .3l1 0m2.2-.4l1 0m1.4 .5l1 0m-.9 2.2l1 0m1.3-1.1l1 0m3.5 .1l1 0m0-1.4l1 0m-.4-.2l1 0m-.9-.1l-2 2.6m3.3-1.6l1 0m-.2 0l1 0m.7-1l1.3 1.5 1.1 1.3m4.9-1.5l1 0m-.6-.1l1 0m5.2 .3l1 0m.7-.2l1 0m1.6 .8l1 0m-.1-1.4l1 0m1.7 1.1l1 0m1.2 .3l1 0m-.6-.8l1 0m-.9 1.4l1 0m-.3-1.1l1 0m3.4-1.4l1.3 1.5 1.1 1.3m-2.1-2.3l1 0m-.7 2l1 0m-.9-1.3l1 0m3.1-1.3l1 0m3.4 1.9l1 0m-.8 0l1 0m1.5 0l1 0m-.7-.6l1 0m1.8-1l1.3 1.5 1.1 1.3m-115 0l1 0m-.4 1.5l1 0m-.3 1.1l1 0m1.3-1.4l1 0m1.8-1.3l-2 2.6m7 .2l1 0m-.4-.5l1 0m0-1.7l-2 2.6m2-.7l1 0m1.6-1.8l1 0m29.2-.6l1 0m2.3 .4l1 0m0 1.9l1 0m-.8-2.3l1 0m1.2 0l1.3 1.5 1.1 1.3m-1-1.9l1 0m1.1 1.1l1 0m-.8 0l1 0m-.6-1.9l1 0m-.7 .4l1 0m.5-.5l1 0m36.4 .7l1 0m-.9-.1l1 0m-.1 .3l1 0m0-.2l1 0m1.5 1.8l1 0m-.5-2.4l1.3 1.5 1.1 1.3m-2.1-.9l1 0m.6-1.5l1 0m-.4-.1l1 0m-.7 2l1 0m.3-1.1l1 0m.2 .8l1 0m-.6-1.6l1.3 1.5 1.1 1.3m-2.3-2.3l1 0m-.7 .8l1 0m1.5-.8l1 0m-.4 1.7l1 0m-.2-1.8l1 0m.6 .6l1 0m-.7 .4l1 0m-112.6 .8l1 0m-.9 1.3l1.3 1.5 1.1 1.3m-2.2-3.9l1 0m-.4 .9l1 0m.1 .2l1 0m-.5-1.1l1 0m-.8 1.5l1 0m-.2 1.2l1 0m-.4-1.9l1 0m3.6 .8l1 0m.6 .3l1 0m-.3-1.6l1 0m-.8 1.1l1 0m.5 .7l1 0m1.1-1.7l1 0m31.7 2.1l1 0m1.2 .3l1 0m.7-1.7l1.3 1.5 1.1 1.3m-.2-4l1 0m-.7 .2l1.3 1.5 1.1 1.3m-1.3-.2l1 0m0-2.8l1 0m-.9 2.6l1 0m-.7-.6l1 0m40.8-.3l1 0m.1 .7l1 0m.4-2.4l1 0m-.4 .4l-2 2.6m3.8-1.9l1 0m-.5 .8l1 0m-.6-1l1 0m-1 1.9l1 0m-.5-2.6l1 0m-.2 .6l1.3 1.5 1.1 1.3m-2-1.1l1 0m1.7-1.2l1 0m1.8 .8l1 0m-.6-1.1l1 0m.8-.3l1 0m-114 4.4l1 0m-.9-.1l1 0m-.4-.9l1 0m-.8-.3l1 0m-.3 1.4l1 0m-.7 .5l1 0m-.9-2.4l1 0m.9 .7l1 0m-.1-.5l-2 2.6m2.9-1.6l1 0m-.5-.5l1.3 1.5 1.1 1.3m-1.4-2.9l1 0m-.2 1.2l1 0m1.7-2l1 0m-.8 1.4l1 0m1.6-1.4l1 0m37.5 1.8l1 0m.2 .2l1 0m0-1.4l1 0m.2 1.7l1 0m.1-2.1l1 0m41.1 0l1 0m-.5 2.4l1 0m2.4-1.8l1 0m6.3-.6l1 0m-.8 2.1l1 0m.6-.1l1 0m-1-1.6l1 0m-113.1 4.4l1 0m1-1.7l1 0m-.8 1.4l1 0m2.7-.6l-2 2.6m2-3l1 0m-1 0l1 0m-.4-.2l1 0m1.5-.6l1 0m1.9 .6l1 0m36.3 1.1l1 0m.1-.6l-2 2.6m2.9-1.8l1.3 1.5 1.1 1.3m-.9-4.4l1 0m.5 0l1 0m24.4 1.3l1.3 1.5 1.1 1.3m3.3-2.4l1 0m1 .2l1 0m.8 .1l1 0m2.2 .2l1 0m.6-2.1l1 0m-.4 .9l1 0m-.9-.1l-2 2.6m6.2-1.9l1 0m1.1-.8l-2 2.6m3.2-2.8l1.3 1.5 1.1 1.3m-1.7-3.6l1 0m3.1 0l1 0m3.4 1.9l1 0m-.7-1.3l1 0m-115.4 4.5l1.3 1.5 1.1 1.3m-.3-3.3l1 0m-1-1.2l1 0m-.3 .1l1 0m1.4-.1l1 0m.8 .4l1 0m-.4 .1l1 0m-.9 .8l1 0m-.5-1.2l1 0m-.7 1.8l1 0m-.9 .2l1 0m2.3-.1l1 0m.4-.7l1 0m33.9 0l1.3 1.5 1.1 1.3m.9-2.3l1 0m-1-1.1l1 0m1.4 1.3l1 0m.9-1.2l-2 2.6m6-2.1l-2 2.6m2.4-2.5l1 0m-.9 .2l1 0m-.7 .8l1 0m.4-1.1l-2 2.6m20.3-2l1 0m-.2-.3l1 0m-.2-2.1l1 0m2.2 2.8l1 0m-.6-1.6l1 0m2 1.5l1 0m.1-1.6l1 0m-.4 .1l1 0m3.9-1l1 0m-.1 1.7l1.3 1.5 1.1 1.3m2.3-2.4l1 0m-.6-.2l-2 2.6m2.6-3.3l1.3 1.5 1.1 1.3m-2.1-2.6l1 0m-.6 .4l1 0m-.9-.6l1 0m.6 .4l1 0m-.6-.7l1 0m-.1 1.1l1.3 1.5 1.1 1.3m.2-3.1l1.3 1.5 1.1 1.3m-2.4-4.2l1 0m-.8 1l1 0m-.5 .6l1 0m0-.1l1 0m-.5 .6l1 0m-.9-1.1l1 0m-.9 1.1l1 0m.6-.3l1 0m.2-.2l-2 2.6m-110.2 0l1 0m.1 .6l1 0m-.6-1.8l1 0m1.7 2l-2 2.6m2.6-2.6l1 0m1.1-2l1 0m1.8 .9l1 0m.8-.9l1 0m-.1 .9l1 0m-.4-1.1l1 0m-.7 2.2l-2 2.6m2.3-4.6l1 0m.2 2.1l1.3 1.5 1.1 1.3m-2.2-3.6l1 0m-.7-.8l1 0m-.5 .7l1 0m1.1-.1l1 0m29.8-.2l1 0m.7-.3l1 0m1.3 .2l1 0m-.1 .4l1 0m1.3-1l1 0m3.9 .1l1 0m-.7 .9l-2 2.6m4.8-2.4l1 0m2.8-.6l1 0m1.1 .6l1 0m0 .2l1 0m1.6-1.9l1 0m1 2.4l1 0m-1-2.3l1 0m.6 1.5l1 0m.9-1.6l1 0m.1 .5l1 0m.5 1l1.3 1.5 1.1 1.3m1-2.8l1.3 1.5 1.1 1.3m-.6-2.9l1 0m1.5 .9l1 0m-.2-.8l1 0m-.3 1.1l1 0m.1 0l1 0m.2-.8l1 0m1.2 .4l1.3 1.5 1.1 1.3m-.7-5l1 0m-.1 1.9l1.3 1.5 1.1 1.3m0-3.1l1 0m-.1-1.6l1 0m-.1 .5l1 0m4.1 .3l1 0m-.6-.3l1 0m-.5 1.9l1.3 1.5 1.1 1.3m-2.3-4.6l1 0m1.6 1.2l1 0m.8-1l1 0m-.6 1.3l1 0m-113.5 1.7l1 0m.2 1l1.3 1.5 1.1 1.3m0-3.6l1 0m.1 .1l1 0m.5 .7l-2 2.6m4.3-2.4l1 0m-.4-.3l1 0m.3-.8l1 0m-.8 1.1l1.3 1.5 1.1 1.3m3.4-2.8l1 0m3-.3l1 0m.9 .6l-2 2.6m2.2-4.8l1 0m-1 1.5l1 0m-.6-.2l1 0m2.7 1l1.3 1.5 1.1 1.3m1.2-3l1 0m-.8-1.1l1 0m-1 .8l1.3 1.5 1.1 1.3m3.7-2.1l1.3 1.5 1.1 1.3m4.4-3.6l1.3 1.5 1.1 1.3m-1.5-3.4l1 0m1 .8l1.3 1.5 1.1 1.3m-1.5-3.7l1 0m.9 1.5l1.3 1.5 1.1 1.3m-1.5-4l1 0m-1-1.5l1 0m.1 0l1 0m2.4 1.7l1 0m-1-.7l1 0m.4 .7l1 0m.2-.2l1 0m-.3 .5l-2 2.6m2.8-3.9l1 0m-.9 1.6l1.3 1.5 1.1 1.3m-.7-2.4l1 0m2.4-.9l1 0m2.6 .9l-2 2.6m2-4.5l1 0m-.1 1.4l1.3 1.5 1.1 1.3m-1.7-4.2l1 0m.9 1l1 0m-.1-1.4l1 0m-.4 2.1l1.3 1.5 1.1 1.3m.5-4.3l1 0m-.7 1.6l1.3 1.5 1.1 1.3m-.1-4.9l1 0m-.4 1.9l1.3 1.5 1.1 1.3m-2-4.7l1 0m-1 1.3l1 0m1.9-.9l1 0m-.3 1.9l1 0m1.4-.2l1.3 1.5 1.1 1.3m1.1-3l1 0m.9-2.5l1 0m-1 2l-2 2.6m2.3-4.6l1 0m.1 2.1l1.3 1.5 1.1 1.3m-2.3-2l1 0m-1-1.6l1 0m-.7-.7l1 0m-.4-.4l1 0m.4 2.6l1.3 1.5 1.1 1.3m-2.1-4.8l1 0m.6 1.2l1 0m-.7-.1l1 0m-.1 .5l1.3 1.5 1.1 1.3m-1-5.1l1 0m.4 .3l1 0m.8-.5l1 0m-.8 2.2l1 0m-.5-1.1l1 0m-.8-.1l1 0m-.7-.7l1 0m-.4 2.4l1.3 1.5 1.1 1.3m-2.3-4.8l1 0m0 .1l1 0m.2-.4l1 0m-.7 .6l1 0m-.8 0l1 0m-.7-.8l1 0m-.9 1.1l1 0m-.7-.7l1 0m1 .2l1 0m1.4 .1l1 0m-113 3.7l1 0m-.9 .4l1 0m0-1.9l1 0m-.4 2.2l1 0m-.7-1.4l1 0m-1 1.9l1.4 1.5 1.2 1.4m-2.3-3.9l1 0m1.3-.6l1 0m-.8-.6l1 0m-.1 1.1l1 0m-.8 .7l1 0m.5-.4l1 0m-.7-2l1 0m-.9 1.5l1 0m-.5-1.3l1 0m.1 0l1 0m-.3 1.3l1 0m1.2-.9l1 0m-.3-.1l1 0m-.7 .2l1 0m-.8 1.2l1 0m.2-.2l1 0m.2 .4l1 0m-.7-1.9l1 0m-.8 1.3l1 0m-.4-1.5l-2 2.6m2.9-2.6l1 0m-1 2.2l1 0m-.9-2l1.3 1.5 1.1 1.3m-2.2-2.2l1 0m-.6 .6l1 0m-.9 .4l1 0m.4-.6l1 0m-.4 0l1 0m.3 1.1l1 0m-.8-2l1 0m-.6 2.1l1 0m-.3-.9l1 0m-.9-1.2l1 0m1.2 1.1l1 0m-.8 .8l1 0m-.6 0l1 0m-.1 .4l1.4 1.5 1.2 1.4m-.5-3.8l1 0m-.5 1.3l1 0m-.3-2.7l1 0m-.9 2.6l1 0m0-.3l1 0m-.4-.7l1 0m-.8 .9l-1.6 1.6 1.6 1.6m.5-3.6l1 0m-.9 .3l1 0m-1-2.4l1 0m-.7 1l1 0m-.3-1.3l1 0m2.7 2.9l1 0m-.2-1.9l1 0m0 .2l1 0m-.2 1.4l1.4 1.5 1.2 1.4m-1.1-4l1 0m-.4-.4l1 0m.9 .6l1 0m-.4-1.1l1 0m-.4 1.2l1 0m-.6-.7l1 0m-1-.1l1 0m-.1-.4l1 0m-.2 1.2l1 0m-.3 1.2l1 0m.7-.3l1 0m-.3-.5l1 0m.8-.8l1 0m-.8-1.2l1 0m.6 1.8l1 0m-.6-.2l1 0m-.5-.8l1 0m-.8 .4l1 0m1.2 .3l1 0m.8-.5l1 0m-.8-.2l1 0m-.8-.2l1 0m-.9-.2l1 0m-.9 1.5l1 0m-.1 .5l-1.6 1.6 1.6 1.6m.8-5.1l1 0m.6 2l1 0m-.5 .3l1 0m-.8-2.8l1 0m1.9 1.7l1 0m-.2-.4l1 0m-.2-.9l1 0m2.1 .8l1 0m0 .2l1 0m-.1 .7l1 0m.6-1.3l1 0m.7 0l1 0m-.8 1.3l1 0m1.3-.1l1 0m1.6-1.8l1 0m-.8-.2l1.3 1.5 1.1 1.3m-.6-2.9l1 0m.7 .4l1 0m0 1.7l1 0m-.9-1.7l1 0m.3 .3l1 0m-.7 1.4l1 0m.1-2l1 0m-.9 .2l1 0m-.4 .5l1 0m-.4 1.2l1 0m-.2-.6l1 0m-.8-1.1l1 0m1.1 1.8l1 0m.2 .5l1 0m-.9-1.8l1 0m-.8-.2l1 0m-.3 .3l1 0m.9-.3l1 0m.8-.2l1 0m-.4 2.1l1 0m-.6-.4l1 0m.1 .1l1 0m-.7-2.3l1 0m.7 .1l-2 2.6m3 .3l1 0m-.6-1.1l1 0m-.2-.6l1 0m-.7 .7l1 0m-.6 .2l1 0m-1 .1l1 0m.8-2.1l1 0m-.2 .2l1 0m-1-.2l-2 2.6m2.9-2.3l1 0m.3 1.4l1 0m-.7-.4l1 0m-.3-1.5l1 0m-.7 2l1 0m-.3-1.8l-2 2.6m-111.1 2.6l1 0m.8-2.2l1 0m.7 1.8l1 0m.9 .9l1 0m-.9-2.4l1 0m3.1 .2l1 0m2.3 .6l1 0m2.5-.6l1 0m-.7-.3l1 0m-.4-.3l1.4 1.5 1.2 1.4m.2-1.6l1 0m-.8-1.1l1 0m-.2 2.7l1.4 1.5 1.2 1.4m1.2-5.8l1 0m-.7 .9l1 0m-.3 0l1 0m3.3 .2l1 0m4.7 1.2l1 0m.9 .4l1 0m.2-2.4l-1.6 1.6 1.6 1.6m2.6-2l1 0m1.8-.5l1 0m-.9-.2l1 0m-.9-.2l1 0m.2-.1l1 0m3-.6l1 0m.8 1.4l1 0m.4 .3l1 0m-.5-.7l1 0m3.1 2l1 0m0-2.8l1 0m3.2 2.5l1 0m-1-2.5l1 0m.5 .6l1 0m.3 .3l1 0m0 .6l1 0m-.1-.5l1 0m-.8 .3l1 0m2.5-1.3l1 0m1.8 .7l1 0m.4 .6l1 0m1.5-.4l1 0m.6-.2l1 0m-.7 2l1 0m-.9-2.8l1 0m1.9 1.2l1 0m1.7 1.5l1 0m1.3-2.2l1.4 1.5 1.2 1.4m2.5-1.2l1 0m2.9-1.6l1 0m-.8 1.9l1 0m1.4-2l1 0m.5 1.9l1 0m.7-.7l1 0m.2 1.1l1 0m3.1-2.8l1 0m-.4 2.4l1 0m.9-.4l1 0m0 .2l1 0m-.8-.2l1 0m-.1-1.2l1 0m-113.9 3.6l1 0m-.8 1.3l1 0m-.7-.7l1 0m.4-2l1.4 1.5 1.2 1.4m-2-2.9l1 0m-.9 .9l1 0m-.8 1.4l1 0m.3-.1l1 0m-.6-1l1 0m-.6-1l1.4 1.5 1.2 1.4m-2-2l1 0m1.5-1l1.4 1.5 1.2 1.4m.1-.9l1 0m-.3-1.3l1 0m-.7 1.8l1 0m-.8-1.4l1 0m.4-1.1l-1.6 1.6 1.6 1.6m1.3-3l1 0m.4 1.7l1 0m-.8-1.4l-1.6 1.6 1.6 1.6m1.5-2.8l1 0m1.2 1.7l1 0m-.6-1.9l1 0m-.3-.6l1 0m2.4 .4l1.4 1.5 1.2 1.4m-1.7-3.5l1 0m-.5 1.8l1 0m-.8 .8l1 0m-.1-.5l1 0m2.1 .4l1 0m-.6 .1l1 0m1.3-1.3l1 0m-.9-.6l-1.6 1.6 1.6 1.6m1.3-3.3l1 0m-.8-.1l1.4 1.5 1.2 1.4m-1.5-.8l1 0m-.9-1.5l1 0m-.4-.7l1 0m-.6 .5l1 0m-.6-.3l1 0m-.8-.2l1.4 1.5 1.2 1.4m-2.3-.6l1 0m1.1-.4l1 0m-.5 .2l1 0m-.3-2.1l1 0m-.7 .2l1 0m-.9 1.8l1 0m.2-1l1 0m-.6 1.5l1 0m-1-2.2l1 0m-.5 .5l1 0m-.9 1l1 0m-.7-1.4l1 0m-1 0l1 0m.6 0l1 0m-.7 .7l1 0m-.9-1.3l1 0m-.6 2.6l1 0m-.8-1.1l1 0m-.6-.5l1 0m-.6 .2l1 0m-.9 .8l1 0m-.5-.7l1 0m-.3 .8l1 0m-.7-1.2l1 0m.1-.4l1.4 1.5 1.2 1.4m-2.6-3.2l1 0m-.3 0l1 0m-.7 2.3l1 0m-.6-1.5l1 0m-.5 1.5l1 0m-.8-1.9l1 0m-.9-.7l1 0m1.2 .7l1 0m0-.1l1 0m-.8 .1l-1.6 1.6 1.6 1.6m.1-1.6l1 0m2.4-.9l1 0m.2-1.5l1 0m-.6 .5l1 0m-.6 2.2l1 0m0-1.9l-1.6 1.6 1.6 1.6m3.1-3.9l1 0m-.9 1l1 0m-1 .3l1 0m-.7-.9l1 0m-.7-.1l1 0m-.6 .3l1.4 1.5 1.2 1.4m-2.3-1.5l1 0m-.1-1.8l1 0m-.2 .2l1 0m-.9 .2l1 0m-.9 .9l1 0m-.9 1l1 0m.3-1.8l1.4 1.5 1.2 1.4m-1.1-1l1 0m-1-2l1 0m-.8 .2l1 0m-.8-.8l1 0m-.6 1.8l1 0m-.7-1.3l1 0m-.6-.2l1.4 1.5 1.2 1.4m-2.1-2.4l1 0m-.8 1.5l1 0m-.6-1.9l1 0m-.1 .9l1 0m-.2-1.3l1 0m-1 .9l1 0m-1 1.2l1 0m.5-1.2l-1.6 1.6 1.6 1.6m0-2.1l1 0m-1 .1l1 0m-.4-1.1l1 0m-.8 1l1 0m-.8-1.2l1 0m-.5-.6l1 0m-.9 1.3l1 0m-.4-.8l1 0m1.2-.1l1 0m.3 1.6l1 0m1-.8l1 0m-.5-.9l1.4 1.5 1.2 1.4m-1.5-1l1 0m.2 .3l1 0m-.9-.7l1 0m1.5-1.1l1 0m-.8-.8l-1.6 1.6 1.6 1.6m.1-1.4l1 0m-.5 .5l1 0m-.9-1.2l1 0m-.2 .3l1 0m-.9-.4l1 0m0-1.3l-1.6 1.6 1.6 1.6m0-2.3l1 0m-1 1.6l1 0m.4-1.9l1 0m-.8 .6l1 0m.4 .2l1 0m.1-.4l-1.6 1.6 1.6 1.6m.8-3.7l1 0m-.5-.1l1 0m0 2l1 0m-.6-1.7l-1.6 1.6 1.6 1.6m.1-2.8l1 0m-.7 .6l1 0m-.2-.3l1 0m-.4-1.2l1.4 1.5 1.2 1.4m-1.9-2.5l1 0m-.9 .4l1 0m-.5 1.2l1 0m.7-1.1l1 0m-.1 1.4l1 0m-.7-.4l1 0m1.3-1.2l1.4 1.5 1.2 1.4m-1.1-.8l1 0m-.3-1.4l1 0m-.3 0l1 0m.3-.6l-1.6 1.6 1.6 1.6m1.2-2.6l1 0m-.7 .1l1 0m-1 1.1l1 0m-.7-1.7l1.4 1.5 1.2 1.4m-2.4-1.2l1 0m-.2-2.6l1 0m.1 1.4l1 0m-116.2 1.5l1 0m-.7 2l1 0m1.3-.9l1 0m.4-.9l1 0m-.5 1.2l1 0m-.1-.9l1 0m.9 .8l1 0m.9-.6l1 0m-1-.5l1 0m.1 1.8l1 0m2.3-1.7l1 0m-.8-.3l1 0m.6 .4l1 0m1.4-.2l1 0m.6 1.1l1 0m1.6-.9l-1.6 1.6 1.6 1.6m4.1-2.5l1 0m-.4 1.5l1 0m1.3-.9l1 0m2.1-1.5l1 0m.3 .1l1.4 1.5 1.2 1.4m2.3-1.8l1 0m1.3-1.4l1 0m-.5 .6l1 0m2.8-.4l1 0m.1 1.1l1 0m2.4-.2l1 0m-.7-.9l1 0m.8-.2l1 0m1.1 2.2l1 0m-.6-.5l1 0m2.1-1.3l1 0m1.1-.4l1 0m.2 2.9l1 0m-1-2.7l1 0m5.9 .1l1 0m-.2 .8l1 0m3.6-.2l1 0m1.1-.2l1 0m-.4 .5l1 0m.7 .2l1 0m-1-.4l-1.6 1.6 1.6 1.6m.2-1.6l1 0m.1-1.4l1 0m-.3 0l1 0m-1 .6l1 0m-.8 .5l1 0m6.2-2.2l1 0m0-.1l1 0m-.4 1.3l1.4 1.5 1.2 1.4m-1.4-1.5l1 0m-.9-2.7l1 0m.9 2.6l1 0m-.9-.5l1 0m.7-.3l1 0m2.7-1.3l1 0m-.6 .7l1 0m1.1-.5l-1.6 1.6 1.6 1.6m2-2.9l1 0m-.9-.9l1 0m-.7 2.4l1 0m2.8-.6l1 0m2.2-1l1 0m-.6-.3l1 0m-.4-.4l1 0m-.5-.1l1 0m.4 .8l1 0m2.2-.2l1 0m-115.9 4.1l1 0m-.7-.9l1 0m-.1 1.9l1 0m-.4-.5l1 0m-.4-1.3l1 0m1.1 .2l1 0m-.7 1.3l1 0m.4-.6l1 0m-.8 .1l1 0m-.8-1.2l-1.6 1.6 1.6 1.6m2.3-2.6l-1.6 1.6 1.6 1.6m12.3-3.2l1.4 1.5 1.2 1.4m-1.2-4l1 0m.6 .3l1 0m.5 .7l1 0m-.5 .5l1 0m2.9 .7l1 0m-.3 .1l1 0m-.9-.6l1 0m3.6-.1l1 0m0-1l1.4 1.5 1.2 1.4m-2.1-2.6l1 0m-.8 .2l1 0m-.1 .9l1 0m-.7-1.4l1 0m-.5 .4l1 0m.1 1.4l1 0m-1-1.5l1 0m3.4 1.2l1 0m-.5-1.5l-1.6 1.6 1.6 1.6m.9-2.4l1 0m-.5 .4l1 0m-.3-2l1 0m-.8 .5l1 0m-.7 1.3l1 0m-.9-1.4l1 0m-.8 2.4l1 0m-1-.7l1 0m.2-1.8l1 0m-.8 .6l1 0m-.9 1.6l1 0m-.8-.3l1 0m2.2-1.9l1 0m-.8 .3l1 0m-.9 .3l1 0m-.7-.3l1 0m-.6-.2l1 0m-.8-.2l1 0m-.6 .8l-1.6 1.6 1.6 1.6m1.4-2.6l1 0m-.5-.4l1.4 1.5 1.2 1.4m-1.9-3.4l1 0m-.4 .6l1 0m-.4 1l1 0m0-.9l1.4 1.5 1.2 1.4m-1.1-3.1l1 0m.8-.6l1.4 1.5 1.2 1.4m-2.1-3.1l1 0m-.9 1.2l1 0m.2 .5l1 0m-.1-1.4l1 0m-.3 0l1 0m-1-.4l1 0m1.8 1.7l1 0m.4-.8l1 0m-.4 .2l-1.6 1.6 1.6 1.6m1.8-2.3l1 0m-.9 .2l1 0m-.9-2.4l1 0m.1 1.5l1 0m.6-.8l1.4 1.5 1.2 1.4m-1.2-3.4l1 0m-.3 0l1 0m0 1.9l1 0m-.2 .4l1 0m1-1.2l1.4 1.5 1.2 1.4m-1.6-2.8l1 0m.7-.2l1 0m-.5 .2l1 0m-.9-.7l1.4 1.5 1.2 1.4m-2.5-1.3l1 0m-.2-1.2l1 0m.3 .4l1 0m-.6-1.6l1 0m-.9 1l1 0m.2 .2l1.4 1.5 1.2 1.4m-1.9-1.4l1 0m-.6-1.6l1 0m.8-.1l1.4 1.5 1.2 1.4m1.9-3.4l-1.6 1.6 1.6 1.6m8.4-2.4l1.4 1.5 1.2 1.4m-1.3-3l1 0m-.1 .7l1 0m.3 .7l1 0m-.1-.5l1 0m.6-.7l1 0m-.8-.2l1 0m-112.7 2.9l1.4 1.5 1.2 1.4m.1-1.7l1 0m1.7-1.1l1 0m1.7 0l1 0m-.6-.7l1 0m-.2-.5l1 0m15 1.1l1.4 1.5 1.2 1.4m0-2l1 0m2.4-.5l1.4 1.5 1.2 1.4m-.7-3.5l1 0m1 1.8l1 0m-.4-2.5l1 0m1.1 1.8l1 0m2.8-.1l1 0m2.7-1.3l1 0m.5 1.3l1 0m-.7-1.5l1 0m5.2 .9l1 0m1.4-1.5l1 0m-.2 2.6l1 0m.3-.4l1 0m.6-2l1 0m-.5 .2l1 0m6.7 .1l1 0m.1-.1l1 0m.8-.2l1 0m-.8 .5l1 0m.5 2.2l1 0m1.9-1.2l1 0m2.1-.2l1 0m1.2 .3l1 0m1.2-1.4l1 0m-.9 .5l1 0m.3 .6l-1.6 1.6 1.6 1.6m7.3-2.8l-1.6 1.6 1.6 1.6m0-2.2l1 0m-.4-2l1 0m3.9-.4l1 0m.2 2l1 0m2.4-.9l1.4 1.5 1.2 1.4m-2.2-1.9l1 0m3.9 .4l1 0m-.4-.3l1 0m-107.8 1.1l1 0m1.5 .4l1 0m.3 .4l1 0m-.6 .4l1 0m-.3 .3l1 0m-.4-1.8l1 0m-.8 2.5l1 0m1.1-1.4l1 0m-.9 1.1l1 0m-1-.4l1 0m.8 .1l1 0m-1-.8l1 0m13.9 1.2l1 0m-.6-1.6l1 0m.2 0l1 0m.5 0l1 0m.3 1.5l1 0m-.1-1.1l-1.6 1.6 1.6 1.6m.7-1.9l1 0m1.4-.7l-1.6 1.6 1.6 1.6m.5-5.1l1 0m-.6 1.4l1.4 1.5 1.2 1.4m-1.2-1.7l1 0m-.9-2.1l1 0m-1 1.5l1 0m-.5 .2l1 0m.9-.2l1 0m-.3 .5l1 0m.1-2l1 0m-.5 1.4l1 0m-.2-1.8l1 0m0 .7l1 0m1.2-.3l1 0m.6 1l1 0m-.6-.3l1 0m.5-.2l1 0m-.3 .7l-1.6 1.6 1.6 1.6m.1-4.9l1 0m-.9 1.8l1 0m-.7-.2l1 0m1.4 .3l1 0m0-1.6l1 0m-.4 1l1 0m-.8 0l1 0m-.4 0l1.4 1.5 1.2 1.4m-2.6-2l1 0m.3-1.4l1 0m0 1.9l1 0m.7-1.2l1 0m-.7-1.1l1 0m-.4 1.1l-1.6 1.6 1.6 1.6m1.9-2.5l1 0m-1 .3l1 0m-.7-2.1l1 0m-.7 1.3l1 0m-.9-.8l1 0m.5 .8l1 0m-.5-.2l1.4 1.5 1.2 1.4m-1.3-3.8l1 0m.4 1.1l1.4 1.5 1.2 1.4m-.6-2.9l1 0m2.4-.2l1 0m-.8-.3l1 0m-.7 1.2l1 0m-.1-1l1 0m1.4 1.2l1 0m.3-.2l1 0m-.3-.6l-1.6 1.6 1.6 1.6m2.8-3l1 0m-.7-.6l1 0m1.1 1l1 0m.9 .2l1 0m2-1l-1.6 1.6 1.6 1.6m1.7-2.5l1.4 1.5 1.2 1.4m-1.2-3.4l1 0m-.3-.8l1 0m-.7 1l1 0m0-.7l1 0m-.8 .7l1 0m-.8-2l1 0m-.2 1.1l1 0m-.9 .9l-1.6 1.6 1.6 1.6m1.1-3.2l1 0m1.2 0l1 0m.1-.8l1 0m1.5 .3l1 0m.8 .8l1 0m6.3-.1l1 0m-.9-.1l1 0m.6-1.6l1 0m-111.5 4.4l1 0m-.3 .5l1 0m0-2.3l1 0m.5 .6l1 0m3.7 1.7l1 0m-1-.7l1.4 1.5 1.2 1.4m-1-4.2l1 0m15.4 .4l1 0m1.4-.8l1 0m-.5 1.4l1 0m-.8 1.3l1 0m3.2-2.4l1 0m7.3 2l1 0m-.1-.5l1 0m2-.4l1 0m2.6 1.1l1 0m.6-2.5l1 0m3 .4l1 0m-.6 .8l1 0m.6-1.3l1 0m-.6 1.4l1 0m-.6-1.1l1 0m0-.2l1 0m-.6-.1l1 0m-.4 2.7l1 0m-.1-.2l1 0m-.5-.2l1 0m2.2 .2l1 0m-.2-1.1l1 0m.3-1.3l1 0m-.8 .4l1 0m.5 2.2l1 0m.8-1.4l1 0m-.6-1.4l1 0m2.6 .5l1 0m-.1 .9l1 0m.8 .5l1 0m.2 .9l1 0m-.2-2.7l1 0m4.2 .1l1 0m.4 .4l1 0m1.9 2.1l1.4 1.5 1.2 1.4m-1.2-5.1l1 0m6.1-.1l1 0m-.4-.1l1 0m1.3 .3l1 0m5.3 1l1 0m.5 .3l1.4 1.5 1.2 1.4m-1.1-3.1l1 0m2.7-1.7l1 0m-.6 2.2l1 0m1-1.7l1 0m.9 2.3l1.4 1.5 1.2 1.4m-119.3-.2l1 0m6.4-.4l1 0m.1-1.4l1 0m-.2 .8l1 0m-.7 .1l1 0m0 .7l1 0m-.5 .4l1.4 1.5 1.2 1.4m-.5-5.7l-1.6 1.6 1.6 1.6m.2-1.5l1 0m4.1 .4l1.3 0m1.2 0l1.3 0m1-1.4l1.3 0m-1.1 1.4l1.3 0m4.9-1.4l1.3 0m-1 1.4l1.3 0m0 .7l1 0m-.2-2.1l1.3 0m-1.3 1.4l1.3 0m1.2-1.4l1.3 0m-1 2.1l1 0m.3-.5l1 0m-.5-1.6l1.3 0m-.3 1.6l1 0m1.7-2.2l1 0m-.7 1l1 0m-.2 1l1.3 0m.7-1.4l1.3 0m1 0l1.3 0m-.4 1.3l1 0m-.7 .2l1 0m.5-1.5l1.3 0m3.1 1.4l1.3 0m3.5-2l1 0m-.7 2l1.3 0m1 0l1.3 0m.6 0l1.3 0m.9 0l1.3 0m-1-1.4l1.3 0m.6 1.3l1 0m-1-1.3l1.3 0m.9 0l1.3 0m-.6 1.4l1.3 0m.4-1.4l1.3 0m1.3 1.4l1.3 0m-.9 .2l1 0m.6-1.6l1.3 0m1.6 .7l1 0m1-.2l1 0m2.9 .6l1 0m1.7 .5l1 0m-.3-.3l1 0m-.5 .2l1 0m-.2-1.1l1 0m-.7-.3l1 0m1.4 .8l1 0m1.2-.6l1 0m2.2-.4l1 0m2.9 1.6l1 0m8.1-1.2l1 0m-.9 .1l1 0m2.4 .2l1 0m-.8 1.5l1 0m-.4-1.6l1 0m0 1l1 0m.8-.5l1 0m.3 .4l1 0m-.6-.6l1 0m-118.6 2.5l1 0m.6-.7l-1.6 1.6 1.6 1.6m.3-.6l1 0m1.4-2.7l1 0m.9 2l1 0m.6-2.1l1 0m0 .4l1 0m-.8 .5l1 0m1.2-.4l1 0m0-.5l1 0m-.8 2.8l1 0m1.2-1.2l1.3 0m-1.2-1.3l1.3 0m.7 0l1.3 0m-1.1 1.3l1.3 0m1.1 0l1.3 0m-1.3-1.3l1.3 0m1 1.3l1.3 0m-.3 .5l1 0m.3-.5l1.3 0m1.1-1.3l1.3 0m0 .2l1 0m-.1-.2l1.3 0m-1.3 1.3l1.3 0m-.5-.5l1 0m.3-.8l1.3 0m1.2 0l1.3 0m1.1 1.3l1.3 0m.8 0l1.3 0m.9-1.3l1.3 0m-.2 2.2l1 0m.3-2.2l1.3 0m.8 0l1.3 0m-.1-.1l1 0m0 .1l1.3 0m3.5 1.3l1.3 0m-1.2-1.3l1.3 0m-.9 1.5l1 0m1-.2l1.3 0m.5-1.3l1.3 0m1.1 1.3l1.3 0m-.8 .9l1 0m1-.9l1.3 0m-1 .4l1 0m.8 .9l1 0m.8-2.6l1 0m-.2 1.3l1.3 0m.9 0l1.3 0m.8 0l1.3 0m-1.2-1.3l1.3 0m1 1.3l1.3 0m1 0l1.3 0m-.1-.9l1 0m4.6 0l1 0m3.2 1l1 0m-.6-1l1 0m.9 1.1l1 0m3.3 .4l1 0m13.1-2l1 0m1.1 0l1 0m.9 2.6l1 0m0-2.6l-1.6 1.6 1.6 1.6m.5-.8l1 0m2.7-2.7l1.4 1.5 1.2 1.4m-.9-2l1 0m1.5 1.4l1 0m-.2-1.1l1 0m-119.9 2.3l1 0m0 .5l1 0m-.5-.3l1 0m-.2 .8l1 0m-.6 .1l1 0m-.6-.9l1 0m1.3 0l1 0m.2 2l1 0m-.9 0l1 0m2-1.7l1 0m-.8-.2l1 0m.6 .3l1 0m.6-1l1.3 0m-.5 1.9l1 0m.6-1.9l1.3 0m-.3 1l-1.7 2.2 1.7 2.2m1.5-5.4l1.3 0m.2 1.1l-1.7 2.2 1.7 2.2m.5-5.5l1.3 0m1 0l1.3 0m-.2 1.2l-1.7 2.2 1.7 2.2m1.5-5.6l1.3 0m.5 0l1.3 0m1 0l1.3 0m-.3 2.8l1 0m.5-2.8l1.3 0m1 1l-1.7 2.2 1.7 2.2m4.8-5.4l1.3 0m.7 0l1.3 0m-1.2 .9l-1.7 2.2 1.7 2.2m4.9-5.3l1.3 0m.5 .9l-1.7 2.2 1.7 2.2m2.3-5.3l1.3 0m0 0l1 0m-.6 1l-1.7 2.2 1.7 2.2m.9-5.4l1.3 0m.7 0l1 0m-.6 1l-1.7 2.2 1.7 2.2m3.5-4.2l-1.7 2.2 1.7 2.2m.9-5.6l1.3 0m.9 0l1.3 0m-.7 .8l-1.7 2.2 1.7 2.2m2.1-5.2l1.3 0m-.4 1.2l-1.7 2.2 1.7 2.2m3.5-4.8l1 0m-1-.8l1.3 0m1.3 0l1.3 0m-.1 1l-1.7 2.2 1.7 2.2m.7-5.4l1.3 0m11.6 1.5l1 0m-.9 .1l1 0m.5-1.3l-1.6 1.6 1.6 1.6m.5-3.6l1 0m1.3 2.2l1 0m.2-1.1l1 0m-.1-.6l1 0m-.7-.3l1 0m-.2 .9l1 0m-.4 .9l1 0m-.4 .5l1 0m-.7-.5l1 0m-.6-1.7l1.4 1.5 1.2 1.4m-1.9-2.2l1 0m1.7-.2l1 0m.4 .7l1 0m1.2-.8l1 0m-.7 1.3l1 0m3.1-1.7l-1.6 1.6 1.6 1.6m1.2-3.2l1.4 1.5 1.2 1.4m-1.5-1.1l1 0m.3 .8l1 0m2 0l1 0m-.7-1.6l1 0m-.4 0l1 0m.2 .6l1 0m.5-1l1 0m-.6 .2l1 0m-.6 .6l1 0m.8 .7l1 0m.7-1.8l1 0m-.2 1.9l1 0m-118.5 .8l1 0m-.8 1.1l1 0m1 .6l1 0m-.8-.8l1 0m-.5 1l1 0m1.2 .2l1 0m-.5-.7l1 0m3.8-1.4l1 0m.8 2.2l-1.7 1.9 1.7 1.9m3-3.7l-1.7 1.9 1.7 1.9m3.9-3.7l-1.7 1.9 1.7 1.9m3.1-6.2l1 0m-.9 2.5l-1.7 1.9 1.7 1.9m2.6-3.9l1 0m-.2-.8l1 0m-.9 .4l-1.7 1.9 1.7 1.9m7.2-3.8l-1.7 1.9 1.7 1.9m1.3-5.9l1 0m1.1 2.2l-1.7 1.9 1.7 1.9m4.4-3.6l1 0m.3-1.1l1 0m10.8 1.2l-1.7 1.9 1.7 1.9m6.7-3.8l-1.7 1.9 1.7 1.9m3.7-3.8l-1.7 1.9 1.7 1.9m2.2-5.7l1 0m.4 1.7l-1.7 1.9 1.7 1.9m1-3.9l1 0m1.3 .2l-1.7 1.9 1.7 1.9m1.2-5.6l1 0m1.7-.6l1 0m5.2 .1l1.4 1.5 1.2 1.4m-2.3-2.6l1 0m2.8 0l1 0m-.5 0l-1.6 1.6 1.6 1.6m3.2-1.4l1 0m-.4-.7l1 0m1.6 .1l1 0m2.5 1.1l1 0m-.7-.2l1 0m-.9-2.7l1 0m.4 2.1l1 0m0 0l1 0m-.6 .6l1 0m2.2-.1l1 0m.2-1l1 0m.9-1.3l1 0m.2-.3l1 0m1.3 .2l1 0m1.8 1.8l1 0m-.1 .2l1 0m-1-2l1 0m-.4 1.9l1 0m-.8 .6l1 0m-.1-2.4l-1.6 1.6 1.6 1.6m2-2l1 0m-.4-1.1l1 0m-.4 .4l1 0m-114.8 3.8l1.4 1.5 1.2 1.4m-2.2-2.2l1 0m-.1-1.1l1 0m0-.4l1 0m10.7 1.5l1 0m-.5-1.6l1 0m.5-.6l1 0m3 2.9l1 0m0-1.4l1 0m2.3 1.3l1 0m-.1-2.8l1 0m6 2.6l1 0m4.1-.9l1 0m2.9-1.2l1 0m1.4 1.6l1 0m.2 .3l1 0m.8-1.7l1 0m-.1 1.5l1 0m2.2-.8l1 0m6.6 .2l1 0m7.3-.9l1 0m4.6-.7l1 0m5.8-.1l1 0m-.9 .1l1 0m1.6 .7l-1.6 1.6 1.6 1.6m1.4-2.2l1 0m4.1-1.2l1 0m1.2 .5l1.4 1.5 1.2 1.4m2.9-3.3l1 0m2.7 .6l1 0m2.6 1.7l1 0m1.8-2.2l1 0m-1 .5l1.4 1.5 1.2 1.4m-1.8-3.3l1 0m-.9-.2l1 0m.3 0l1 0m-.4 .4l1.4 1.5 1.2 1.4m-1.1-3.9l1 0m-.3 1.3l1 0m.7 1.4l1 0m-.1-2l-1.6 1.6 1.6 1.6m2-3.5l1 0m-1 .3l1.4 1.5 1.2 1.4m-114.9 .9l1 0m3.7-.6l1 0m-.6 .1l-1.7 2.2 1.7 2.2m3.4-4.9l-1.7 2.2 1.7 2.2m2.3-4.5l1 0m.1 .1l-1.7 2.2 1.7 2.2m1.6-5l1 0m.6 .9l-1.7 2.2 1.7 2.2m.4-3.6l1 0m-.1-.5l1 0m1.5-.7l-1.7 2.2 1.7 2.2m3.1-4.4l-1.7 2.2 1.7 2.2m3-3.6l1 0m0-.7l-1.7 2.2 1.7 2.2m6.5-4.1l-1.7 2.2 1.7 2.2m1.9-3.3l1 0m.9-1l-1.7 2.2 1.7 2.2m2.7-4.8l1 0m-.3 .2l-1.7 2.2 1.7 2.2m.8-4.2l1 0m1.7 1.5l1 0m-.9-1.9l-1.7 2.2 1.7 2.2m3.6-4.4l-1.7 2.2 1.7 2.2m1.8-2.3l1 0m.4-1.8l-1.7 2.2 1.7 2.2m3.5-3.6l1 0m.6-1.3l1 0m.8 .4l1 0m-.8 .2l-1.7 2.2 1.7 2.2m10.8-4.8l-1.7 2.2 1.7 2.2m3.1-4.3l-1.7 2.2 1.7 2.2m.8-3.3l1 0m-.5-1.5l1 0m-.6 2.5l1 0m-1-1.2l1 0m6.9 .1l1 0m1-1.4l1 0m2.2-.1l1 0m.1 .5l1 0m6.3 1.4l-1.6 1.6 1.6 1.6m.8-4l1 0m1.2 0l-1.6 1.6 1.6 1.6m1.2-3.3l1 0m0 1.8l1 0m-.1-.3l1 0m2.6-1.8l-1.6 1.6 1.6 1.6m3.2-3.4l1 0m-.9-.3l1 0m-.3 1l-1.6 1.6 1.6 1.6m1.4-3.4l1 0m-.5-1.1l1 0m-.3 2.2l1 0m-.7-1l-1.6 1.6 1.6 1.6m1.8-3.3l1 0m-108.4 4.3l-1.7 1.9 1.7 1.9m.6-5.3l1 0m4.3-.2l1 0m.9 1.6l1 0m-.3 .1l1 0m.5-.2l-1.7 1.9 1.7 1.9m0-3.4l1 0m1.1-2.2l1 0m.7 1.4l-1.7 1.9 1.7 1.9m3.3-3.5l1 0m2.8-.2l-1.7 1.9 1.7 1.9m3.4-3.6l-1.7 1.9 1.7 1.9m1.9-3l1 0m2.9-1.7l1 0m1 .3l1 0m-.7-1.3l1 0m2.2 1.4l1 0m-.8 1.3l1 0m1.4-1l-1.7 1.9 1.7 1.9m3.8-3.7l1 0m2 .2l-1.7 1.9 1.7 1.9m2.5-4.6l1 0m.3 .5l-1.7 1.9 1.7 1.9m3.3-3.8l1 0m1.4 .2l1 0m4.2-.6l1 0m2.2 .4l-1.7 1.9 1.7 1.9m2.7-3.1l1 0m-.6-.6l-1.7 1.9 1.7 1.9m.4-4.5l1 0m1.3 .1l1.4 1.5 1.2 1.4m-1.9-4.3l1 0m2.5 2.8l1 0m3.3-.5l1 0m-.7-2.2l1 0m-.3 2.2l1 0m-.5-.7l1.4 1.5 1.2 1.4m-2.5-1.7l1 0m3.2-2.5l1 0m.6 2.5l1 0m1.2-.8l1 0m-.8 .9l1 0m.3-1.7l1.4 1.5 1.2 1.4m-2-3.9l1 0m4.2 1.2l1.4 1.5 1.2 1.4m-1.8-1.7l1 0m.4-2.7l1 0m.3 1.9l1.4 1.5 1.2 1.4m0-2.4l1 0m-.9-.5l1 0m.6-1.2l1 0m-.9-.3l1 0m-.8 1.2l1 0m-.4-1.4l1 0m.5 1.9l1.4 1.5 1.2 1.4m0-3.2l1 0m-.3-1.7l1 0m-.9 2.7l1 0m1-.8l1 0m-.4 .3l1 0m-108 .9l1 0m1.3 .7l1 0m-.4 1l1 0m-.4-.9l1 0m.1 .5l1 0m6 .4l1 0m2.6 .1l1 0m3.9 .5l1 0m1.7-.5l1 0m.1-1.8l1 0m-.4 1.9l1 0m.7-1l1 0m-.7-.5l1 0m-.3 1l1 0m1.8 1.1l1 0m10.3-2.3l1 0m19.6 0l1 0m1.7 .8l1 0m-.6-.2l1 0m-.8 1.1l1 0m-.8 .2l1 0m-1 .2l1 0m.9 .3l1 0m2.7 0l1 0m-.1-1.3l1 0m3.8-.7l1 0m.5-.1l1 0m-.6 1l1 0m-.5-1.2l1 0m.6 2.3l1.4 1.5 1.2 1.4m1.2-3.4l1 0m4.3-.4l1 0m.7-1.6l1 0m6.1 1.7l1 0m2.5 .9l1 0m-.8-.1l1 0m1-.3l1 0m1-.4l1 0m-103.3 1.4l1 0m0 2.5l1.4 1.5 1.2 1.4m-.4-2.9l1 0m-.1-1.9l1 0m.1 .2l1 0m-.2 .1l1 0m-.2 .7l1 0m-.9-1.2l1 0m1.1 1.3l-1.6 1.6 1.6 1.6m.2-5.3l1 0m1.1 1.6l1 0m2.6 .2l1 0m-1 .9l1 0m.8 .1l1 0m.1-1l1 0m2.6 .8l-1.6 1.6 1.6 1.6m1.7-3.3l1.4 1.5 1.2 1.4m.5-4.2l1 0m-.5 1.3l1 0m4.2-1.2l1 0m2.5 .2l1 0m-.5-.3l1 0m-.8-.1l1 0m.3 1l-1.6 1.6 1.6 1.6m.6-3.2l1 0m-.6 .5l1 0m0 0l1 0m-.5 .2l1 0m1.5-.9l1 0m.2 .7l-1.6 1.6 1.6 1.6m2.4-3.2l1 0m-.5-1.5l1 0m-.9 1.5l1 0m5.1-.9l1 0m0-1.5l1 0m-.8 2.1l1 0m-.7-1.3l1 0m-.4-.8l1 0m-.8 2.5l1 0m.3-.8l1 0m-.6 .4l1 0m.7-.3l1 0m1.2 .5l1 0m-.3-.1l1 0m2.2-1.8l1 0m-.6 1l1 0m3.3 0l1 0m8.8 .8l-1.6 1.6 1.6 1.6m4.1-3.1l1 0m.8-.5l1 0m-.9-1.9l1 0m.5 .9l1 0m.5 1.2l-1.6 1.6 1.6 1.6m6.9-3l1 0m.4 .2l1 0m2.7-2.4l1 0m.3 .5l1 0m-101.8 2.2l1 0m3.9 2.8l1 0m.2-2.2l1 0m-.7 .1l1 0m-.9 .5l1 0m0 1.3l-1.6 1.6 1.6 1.6m.8-4.1l1 0m-.9 1.2l1 0m-.4 .1l1 0m.5-.3l1 0m-.7 .3l-1.6 1.6 1.6 1.6m.1-5.9l1 0m.6 .3l1 0m-.4 .4l1 0m-.3 .5l1 0m.3-.3l1 0m-.5 0l1 0m5 .7l1 0m-.3 .1l1 0m-.8-.7l1 0m1.7 1.2l1 0m1.3-1.9l1 0m-.6 .1l1 0m1.3 .8l1 0m.1 1l1 0m3-1.5l1 0m-1 .5l1 0m-.1-.2l1 0m-.5-.6l1 0m-.4 .7l1 0m-.4 .6l1 0m-.9-.2l1 0m-1-1.6l1 0m-.4 1.3l1 0m-.9-1.4l1.4 1.5 1.2 1.4m-1.9-.6l1 0m0 .6l1 0m-.9-.6l1 0m1.4 .1l1 0m1.5-.6l1 0m.2-.3l1 0m-.8-.7l1 0m-.9-.6l-1.6 1.6 1.6 1.6m.5-1l1 0m-.5 .3l1.4 1.5 1.2 1.4m-1.7-4.5l1 0m-.9-.8l1 0m-.2 2.7l1 0m.4-.7l1 0m-.6-2l1 0m0 1.6l1 0m-.7-.8l1 0m-.5 1.7l1 0m-.3-2.1l1 0m-.6 .9l1 0m-.2 0l1 0m-.6-1.5l-1.6 1.6 1.6 1.6m.5-.9l1 0m-.5-1.5l1 0m-.5 .4l1 0m-.2-.4l1 0m-.4 .8l1 0m-.4-1l1 0m-.4 .2l1 0m.2 .6l1 0m.1 1l1 0m-.5-2.2l-1.6 1.6 1.6 1.6m2-.7l1 0m6.9-.1l1 0m1.8-.2l1 0m-.1-1.6l1 0m2.9 1.1l1 0m9.4 .7l1 0m3.3-1.2l1 0m-96.1 4.1l1 0m-.8-.5l1 0m.7 .8l-1.6 1.6 1.6 1.6m.1-3.4l1 0m-.7-1l1 0m.6 1.2l1.4 1.5 1.2 1.4m-2.2-3.4l1 0m-.4-.9l1 0m-.7 1.1l1 0m-.6-2.4l-1.6 1.6 1.6 1.6m.2-.4l1 0m-.5-1l1 0m-.2-1l1 0m2.5 .8l1 0m.1 .4l1 0m-.1-1.3l1 0m-.9 .6l1 0m-.8-.8l1.4 1.5 1.2 1.4m-1.3-.7l1 0m.2-1.5l1 0m.7-.8l1 0m-.6-.5l1 0m-.4 2.2l1 0m-.5-.1l1 0m1.2-2.1l1 0m-.9 2.9l-1.6 1.6 1.6 1.6m1.2-6.1l1 0m-.9 2.8l1 0m2.6-2.3l1.4 1.5 1.2 1.4m-2.3-.7l1 0m0-1.4l1 0m.5-.1l1 0m.8-.4l1 0m-.6 .9l1 0m.2-1.1l1 0m5.5 1.6l1 0m-.9-.2l1 0m.1-.5l1 0m-.4-.6l1 0m.4-.8l1 0m-.9 2.7l1 0m-.8-2.8l1.4 1.5 1.2 1.4m-2.4-.1l1 0m1.5-2.5l1 0m-.6-.3l1 0m-.8 .2l1.4 1.5 1.2 1.4m-2.1-2.7l1 0m-.6 .7l1 0m.2 .1l1 0m-.9-.5l1 0m-.4 1.4l1 0m-.3-1.5l1 0m-.3 .1l1 0m-.6 .9l1 0m-.7-.9l1 0m-.4 1.7l1 0m-1 .2l1 0m1-1.9l1 0m-1-.2l1 0m.4 1.4l1 0m-.2 .4l1 0m1.2-.7l1 0m.6-.7l1 0m-.9 1.5l1 0m.5 .3l1 0m-.9-1.1l1 0m-.8-1.5l1 0m1.2 0l-1.6 1.6 1.6 1.6m.3-2.7l1 0m-.8-.3l1 0m-.2 1.8l1 0m.3-1.9l1 0m1.2 2.3l1 0m-.2-1.2l1 0m4.2-.8l1.4 1.5 1.2 1.4m1.7-1.4l1 0m11.6 .2l1 0m-111.3 3.5l1 0m.9 .1l1 0m1.4-.5l1 0m1 .2l1 0m1.4-2.1l-1.6 1.6 1.6 1.6m.1-.9l1 0m1.4-1.1l1 0m-.5-1.6l-1.6 1.6 1.6 1.6m1.9-.8l1 0m-.7-1.1l1 0m-.7-.8l1.4 1.5 1.2 1.4m-2.1-3.2l1 0m-.5 2l1 0m-.2-1.6l1 0m-.2 2.3l1 0m-.7-.4l1 0m-.8-.2l1 0m.7-.4l1 0m-.9-1.1l1 0m-.8 .6l1 0m-.3-.5l1 0m-.5 .6l1 0m1.8-.2l1 0m.7 .3l1 0m-.8 .8l1 0m2.2-1.5l1 0m.8-.2l1.4 1.5 1.2 1.4m-.2-3.4l1 0m-.1 .5l1 0m.2-.6l-1.6 1.6 1.6 1.6m.4-3.3l1 0m-.4 1.9l1 0m-.5-1.2l1 0m-1 .1l1 0m1.8 .3l1 0m-.3 .8l1 0m1.3 .5l1 0m-.2-1.7l1 0m-.4 1.5l1 0m-.2-1l1 0m.1 .1l1 0m-.9-.5l1.4 1.5 1.2 1.4m-1-1.6l1 0m-.7-.3l1 0m-.6 .9l1 0m1.6-1.9l1 0m-.8-.7l-1.6 1.6 1.6 1.6m1.8-2.2l1 0m-.5 .1l1 0m-.6 .3l1 0m-.7 .1l1 0m.6 .8l1 0m-.9-1.8l1 0m-.3 .9l1 0m2.7-1.4l1 0m-.8 .8l1 0m1.3 1.9l1 0m.3-2.3l1 0m-.9-.4l-1.6 1.6 1.6 1.6m.9-2.4l1 0m-.3-.8l1.4 1.5 1.2 1.4m-2.2-.2l1 0m.1-.6l1 0m-.4-.3l1 0m0 .7l1 0m-.1-2.6l-1.6 1.6 1.6 1.6m2.3-2.8l1.4 1.5 1.2 1.4m-1.2-1.7l1 0m-.6-1.5l1 0m.6 0l1 0m-.1 2.2l1 0m-.3-2.3l-1.6 1.6 1.6 1.6m1-2.2l1 0m-.1 .7l1 0m.5 .9l1 0m-.3-2.4l1 0m2.6-.3l1.4 1.5 1.2 1.4m-2.3-2.6l1 0m3.3 2.3l1 0m3.8-1.4l1 0m2.7 1.7l1 0m9-.2l1 0m3.3-2.6l-1.6 1.6 1.6 1.6m.4-.5l1 0m1.1-.9l1 0m-.6-.7l1 0m-121.7 2.5l1 0m.8 .8l1 0m-.3-.8l1 0m2.4 0l1 0m1.4-.4l1 0m1.2 2.5l1 0m.7 0l1 0m-.8-2.6l1 0m-.7 .6l1 0m-1-.5l1 0m-.7 .4l1 0m-.9 1.1l1 0m5.4 .1l1 0m0 1.1l1 0m-.1-1.2l1 0m-.5-1.1l-1.6 1.6 1.6 1.6m.8-3.5l1.4 1.5 1.2 1.4m-.8-1.5l1 0m-.9 .3l1 0m-.4-2.1l1 0m-.7 .5l1 0m.9 .2l1 0m-.3 .6l1 0m.2-.1l1 0m.9-.5l1 0m2.7 1.1l1 0m-.6-1.7l1 0m.7 1.9l1 0m-.2-.9l1 0m-.1-.8l1 0m1.6-.1l1 0m.2 1l1.4 1.5 1.2 1.4m-1.8-3.7l1 0m-.1 .2l1 0m-1-.5l1 0m-.1 1.2l1 0m-.5-1l1 0m2.2 0l1 0m2.1 1.2l1 0m-.9-.1l1 0m0-.4l-1.6 1.6 1.6 1.6m.8-4l1 0m1.8 1.6l1 0m2.2-1.5l1 0m.4 .1l1 0m1 .7l1 0m-.7 .7l1 0m5.3 0l1 0m-.7-1.4l1 0m.5 2.5l1 0m.8-2.6l1 0m-.5 .2l1 0m-.9 1.5l1 0m.1-.8l1 0m-.4-1l1 0m1.8 .8l1 0m-.6-.6l-1.6 1.6 1.6 1.6m2-2.7l1.4 1.5 1.2 1.4m-.3-3.2l1 0m-.4 2.2l1 0m.7 0l1 0m1.1-1.7l1.4 1.5 1.2 1.4m-.8-2.8l1 0m1.9 .2l1 0m.4-.5l1 0m-.8-.3l1 0m.1 .5l1 0m-.8-.5l-1.6 1.6 1.6 1.6m6.4-1.2l1 0m.6-1.6l1.4 1.5 1.2 1.4m-2.4-3.4l1 0m3.5 1.1l1 0m12.3 1.1l1 0m-105.2 1.9l1 0m1.6-.8l1 0m1.2 .8l1 0m-.6-.1l1 0m-.7-1.3l1 0m-1 1.7l1 0m.5-.2l1 0m-.7-.3l1 0m0-.1l1 0m.7 1.3l1 0m-.8-.2l1 0m0-1.7l1 0m-.4 1.4l1 0m.5-.5l1 0m-.6-.7l1 0m.6-.5l1 0m.5 .4l1 0m.3 1.3l1 0m-.6 .3l1 0m2.2-1.1l1 0m-.8-.3l1.4 1.5 1.2 1.4m-2.2-3.2l1 0m.2 1.7l1 0m-.6-1.6l1 0m-1 1.6l1 0m.4-2.4l1 0m-.4 .2l1 0m-.8 1l1 0m-.4 1.3l1 0m-.8-.8l1 0m-.9-1.5l1 0m-.5 2.5l1 0m0-2.4l1 0m-.8-.2l1 0m-.4 .2l1 0m1.7 2.5l1 0m1.1-.5l1 0m-.4 .5l1 0m-.9 0l1 0m0-2.2l1 0m-.9 1.5l1 0m6.3-1.6l1 0m.7 .1l1 0m.5 .7l1 0m2 1.2l1 0m1.9-1.3l-1.6 1.6 1.6 1.6m4.4-3.7l1 0m-.9-.1l1 0m-.1-.4l1 0m-.1 1.6l1 0m-.3-1.4l1 0m.8 2.5l1 0m-.7-2.8l1 0m.1 1.1l1 0m.6-.4l1.4 1.5 1.2 1.4m-1-2.4l1 0m-.8-1l1 0m-.1 2.4l1 0m.9 .3l1 0m-.8-1.6l1 0m-.7 1.3l1 0m-.1-2.4l1 0m.6 1l-1.6 1.6 1.6 1.6m1.5-1.7l1 0m.1-.4l1 0m3.7-1.7l1 0m4 1.9l1 0m.9-1.9l1 0m.4 2l1 0m1.4-1l1 0m3-1l1 0m.3 .7l1 0m3.2 .8l2.6-.4m.2 1.1l1 0m-.9-.6l2.6-.4m-1.1-.9l1 0m.7 1.3l1 0m-90.4 .9l1 0m5-.1l1 0m5.5 .5l1 0m4 .5l1 0m7.6 .1l1 0m.5-.4l1 0m4.3 .3l1 0m4.8 .9l2.6-.4m-.4 .5l1 0m-1 0l1 0m.2-1.3l1 0m.8-.2l1 0m-.4 2l2.6-.4m-2.2-.9l1 0m-.8 1.5l1 0m2-.8l1 0m-.8-1.8l1 0m-1 2.3l2.6-.4m-1.1-.5l1 0m-.1 .7l2.6-.4m-2.1 0l1 0m1.9-1.2l1 0m.6 2.2l1 0m2.7-1.8l1 0m.4 1.3l2.6-.4m-1.8 .3l1 0m-.8-1.3l1 0m3.3-.6l1 0m1.3 1.4l1 0m-.1-1.1l1 0m-.1 .9l1 0m3.6 0l1 0m9.9 .2l1 0m1.8 0l1 0m1.1 .3l1 0m-103.8 3.4l1 0m-.6 .4l1 0m1.6-.1l2.6-.4m-.3 .6l2.6-.4m-.6-.9l1 0m1 1.1l2.6-.4m-1.1 .5l1 0m.8-.1l2.6-.4m-.6 .2l1 0m-.9 .1l1 0m-.3-.8l1 0m-.6 .4l1 0m-.6-.5l1 0m-.9 .1l1 0m1.3 1l2.6-.4m-1.6-.2l1 0m.4-.7l1 0m0 1.1l1 0m1.3 0l1 0m-.5-.5l2.6-.4m-.8 .6l1 0m.4 .3l2.6-.4m.5-.3l2.6-.4m-.4 1.1l1 0m0-.2l1 0m1.5 .1l1 0m2.7 .2l1 0m-.6-.2l1 0m-.5-.3l2.6-.4m-.1 .6l1 0m-.5 .1l1 0m3.3 .2l1 0m1-.5l1 0m-.6 .6l1 0m.1-.7l1 0m.6 .3l1 0m-.4-.7l1 0m-.8 .7l1 0m.2-1.1l1 0m-1-.8l1 0m-.6 .4l1 0m-.9 1.6l1 0m1.3-.3l1 0m.3-1l1 0m-.9-.8l1 0m.8 1.6l1 0m-.9-1.8l1 0m0 .4l1 0m-.5 1.3l1 0m1.2-1.6l1 0m-.8 1.7l1 0m0-.1l2.6-.4m-2-.5l1 0m2.9-1.1l1 0m-.3 2.7l1 0m2.3-1.5l1 0m3.3 1.1l1 0m4.1 .3l1 0m.1 .1l1 0m-.4-2.1l1 0m-.9 1.5l1 0m4.2-.3l1 0m-.1 1.1l1 0m-.1-1l1 0m-.1 .7l1 0m-.1 .1l1 0m0-.4l1 0m.3 0l1 0m-.5-.1l1 0m.4-2l1 0m4.2 2.5l1 0m-117.7 2.6l1 0m-.8-.6l1 0m.1 .6l1 0m-.5-.9l1 0m.1-.7l1 0m1-.2l1 0m.9 2.3l1 0m1.4-.6l1 0m1.4-1l1 0m-.2 .3l1 0m1.3 1.5l2.6-.4m-1.1-.7l1 0m0 0l1 0m-.8 .6l2.6-.4m-2.3 .9l1 0m-.8-.5l1 0m.9-1.8l1 0m.9 1.2l1 0m1.6-.1l1 0m-.7 .8l1 0m0-1l1 0m0-.4l1 0m1.2 .5l1 0m.7 .9l1 0m-.6-.1l1 0m-.4-1.9l1 0m-.7 1.1l1 0m.4-.5l1 0m.7 1.2l1 0m-.3-2.3l1 0m.3 0l1 0m-.3 1.8l1 0m.1 .1l1 0m-.4 .6l1 0m-.5 .2l2.6-.4m-2.4 .3l1 0m-.7-2.2l1 0m1.2-.4l1 0m3.3 2.8l1 0m-1-.3l2.6-.4m.9 .2l1 0m.7-.7l1 0m-.4 1l2.6-.4m-2-.8l1 0m1.8-.5l1 0m-.8-.9l1 0m-.9 2.7l2.6-.4m-2.2 .2l1 0m.6-2.5l1 0m-.9 2l1 0m-.4 .3l1 0m-.8 .2l1 0m-.4-1.3l1 0m1.3-1.3l2.6-.4m-2.3 2.8l2.6-.4m-2.3 .2l1 0m.9-.4l1 0m-.9-1.4l1 0m-.7 1.7l1 0m-.7-2l2.6-.4m-2.5 2.5l1 0m-.3-1.2l1 0m-.9 1.3l2.6-.4m-2.4 .4l1 0m-1 .2l1 0m-.3-2.2l1 0m.9 2.5l2.6-.4m-2.2-2.3l2.6-.4m-2.3 1.5l1 0m.7-.3l1 0m-1-.7l1 0m-.9 .6l1 0m-.5 1.8l1 0m-.1-2.5l1 0m-.8 .1l1 0m-.8 2.2l1 0m.8 .2l2.6-.4m-1.1 .2l1 0m2.1-.3l1 0m-.4 .8l1 0m-.8-2.8l1 0m-.3 .4l1 0m-.7 1.4l1 0m-.4 .4l2.6-.4m6.5 .6l1 0m-.2-.1l1 0m.2-.7l1 0m-.8 .2l1 0m5.1-1.1l1 0m-.8 1.9l1 0m-.9-1.7l1 0m2.1-.7l1 0m-.6 1.7l1 0m3.7 .2l1 0m4.3 0l1 0m-119.9 3.6l1 0m-.5-.1l2.6-.4m-.6 .4l1 0m-.9-1.4l1 0m2.5 1.3l1 0m-.7-.8l1 0m.4-1.6l2.6-.4m-2.5 2.1l1 0m1.8-1.5l1 0m-.8 1.9l1 0m1.6-.3l1 0m.8 .8l1 0m.7 0l2.6-.4m-1.1 .3l1 0m-.6-2.7l1 0m.7 2.3l1 0m1.9-1.7l1 0m1.9 2.2l1 0m-.5-2.2l1 0m-.8-.4l1 0m-.9 2.8l1 0m1.6-1.5l1 0m-.9-1.4l1 0m1.5 2.6l1 0m-.2-1.4l1 0m.5-1.1l1 0m-.7 1l1 0m.8-.8l1 0m0 .5l1 0m-.9 2.1l1 0m.9-2.1l1 0m-.2 1.9l1 0m-.5-1.9l1 0m2.4-.5l1 0m2.1 2.5l1 0m-.9-.8l1 0m1.2-1.9l1 0m-.3 .1l1 0m-.2 2.4l1 0m.6 .2l1 0m-.5-2.5l1 0m-.1 1.2l1 0m.3-1.5l2.6-.4m-1.9 .5l1 0m3.4 1.4l1 0m-.5 1.3l1 0m0-2.5l1 0m.7 1l1 0m-.8-.3l1 0m-.5 1.1l1 0m3.6-2.1l1 0m-1 .8l1 0m-.4-.5l1 0m-.5 .9l1 0m0-1.2l1 0m.7 2l1 0m0 .6l2.6-.4m-2.1 .5l1 0m-1-2.2l1 0m-.4-.4l1 0m1.1-.1l1 0m-.8-.1l2.6-.4m-2.1 1.1l1 0m-.9 2.2l1 0m-.3-2.9l1 0m.3 2.1l1 0m.5-1.8l1 0m-.9 .5l1 0m1-.4l1 0m-.4 2.2l1 0m-.6-1.4l1 0m-.3 1.4l1 0m.5-.2l1 0m4.8 .2l1 0m3.6-2.4l2.6-.4m10.7 3l1 0m5.7 0l1 0m2.6-.2l1 0m1-2.5l1 0m-125.1 5.1l1 0m-.7-1.5l1 0m.3 1.5l1 0m.4 .6l1 0m.1-.8l1 0m1.3-2l1 0m-.4 2.3l1 0m-.1-2l2.6-.4m-2.4 .3l1 0m-.9 .1l1 0m2.7-.1l2.6-.4m-1.5 1.1l1 0m-.2 1.6l1 0m-.8-2.4l1 0m.3 .6l2.6-.4m.6-.1l1 0m-.8 2.6l1 0m-.9-1.7l1 0m.9-.6l2.6-.4m-1.2 .3l1 0m1.8 .1l1 0m-.9-.2l2.6-.4m-2.4 2.8l1 0m1.3-.1l1 0m-.7-2.4l1 0m-.8 0l2.6-.4m-2.1 .4l1 0m-.8 2.5l1 0m-.8-1.7l1 0m1.2 .1l1 0m-.9-.9l2.6-.4m-.5 1.7l1 0m-.8-1.1l1 0m-.9-.3l2.6-.4m-1.6 .4l1 0m-.9 .8l1 0m-.1 1.9l1 0m.7-2.5l2.6-.4m1.6 1.1l1 0m-.3 0l1 0m-.2-.3l1 0m-.9-.3l1 0m1.4 .7l1 0m-.1 0l1 0m-.5-.4l1 0m-.7-.4l2.6-.4m-.8 3l1 0m-1-2.6l1 0m.8 1l1 0m-.6-.9l1 0m1 .3l2.6-.4m.4 .8l1 0m-.3-.2l2.6-.4m-.4 0l1 0m-.8 0l2.6-.4m-1.8 .5l1 0m1.6 2.2l1 0m-.3-.6l1 0m.3-1.8l1 0m1 .4l2.6-.4m.1 2.4l1 0m-.8-2.6l2.6-.4m-1.6 .9l1 0m.2-.2l1 0m-.5 .1l2.6-.4m-2.5 .6l1 0m0 1.2l1 0m-.2-1.3l1 0m-.7 1.1l1 0m-.6-.6l1 0m-1 1.1l1 0m.9-1.5l1 0m1-.2l2.6-.4m-1-.2l1 0m3.1 1l1 0m-.2-.7l2.6-.4m1.6 2.6l1 0m.6-2.2l1 0m4.5 1.7l1 0m2.3-.2l1 0m-.7-.4l1 0m1.2-1.1l1 0m0 2.2l1 0m-.1-2.5l2.6-.4m2.8 .7l1 0m3.3 2.7l1 0m-.9-2.3l1 0m1.5 2.2l1 0m3-2.1l2.6-.4m-.6-.1l1 0m-124.9 3l2.6-.4m-1.7 1.1l1 0m-.9-.6l1 0m-.2-.1l1 0m1.1-.1l1 0m-.7 1l1 0m-.7-.1l1 0m-.4 .6l1 0m1.9-.8l1 0m-.6 .8l1 0m-.9-.4l1 0m0-.5l2.6-.4m1.3 .4l2.6-.4m-2.4-.3l1 0m-.1 .7l1 0m-1 1.7l1 0m.2-.7l1 0m-.8 1.2l1 0m-.9-2.1l2.6-.4m-1.1-.1l1 0m-.8 2.4l1 0m-1-1.9l1 0m-.5 .8l1 0m-1-.7l1 0m-.2-.4l2.6-.4m-2.4 1.9l1 0m-.1-1l1 0m-.9-.3l1 0m.9-.6l2.6-.4m-.8 .2l1 0m1.3 1.2l2.6-.4m-1.6-.7l1 0m.6 1.7l1 0m-.1-.7l1 0m-1-.8l1 0m.3 .2l1 0m-1 2l1 0m-.7-1.6l1 0m-.2 .4l1 0m1.3 .7l1 0m.2-1.5l1 0m1.3 2.3l1 0m-.1-1.5l1 0m-.9-.5l2.6-.4m-2.1 1.8l1 0m.6-1.9l1 0m-.9 1.6l1 0m-.8-1.8l2.6-.4m-1.9 1.1l1 0m-.6 1.7l1 0m-.5-.8l1 0m-.5 .4l1 0m.3-1.8l1 0m2.4 0l2.6-.4m-1.4 1.1l1 0m0-.7l1 0m-.2 .1l2.6-.4m-2.2 1l1 0m-.3-.8l1 0m-.9 2.3l1 0m-.3-1.4l1 0m0-.1l1 0m-.1-.8l2.6-.4m-.9 1.3l1 0m-.4 0l1 0m-.8-.2l2.6-.4m-1.2 1.5l1 0m-.8-1.9l1 0m-.7 2.6l1 0m-.5-1.9l1 0m-.5-.3l1 0m-.6 2.2l1 0m-.8-2.4l2.6-.4m-2.3 .6l1 0m.3 1.5l1 0m1.2-1.2l2.6-.4m-2 1.4l1 0m-.5-1.1l1 0m-.9 .9l1 0m.1-.5l1 0m-1-.5l1 0m-.9 .9l1 0m-.7-1l1 0m-.8 .6l2.6-.4m-1 1.9l1 0m-.6-.8l1 0m-.2-.3l1 0m-.4 0l1 0m-.9-1.2l2.6-.4m-.5 1.9l1 0m-.2-.8l1 0m-.3-1l1 0m-.3 1.2l1 0m-.3-1.1l1 0m0 .3l1 0m-.8 .6l2.6-.4m-1.2-.2l1 0m.2 .5l1 0m-.7-.2l2.6-.4m-.5 1.6l1 0m.8 .4l1 0m-.6-1.7l1 0m-.4 2.2l1 0m-.5-2.7l1 0m-.3 1.3l1 0m-.9-.7l1 0m-.7 .9l1 0m.9-1.1l1 0m-.7 .4l1 0m-.8-.5l1 0m2.9 .2l2.6-.4m.6 1.6l1 0m1.5-1.4l1 0m1.5 .7l1 0m-.9-1.1l1 0m0 1.2l1 0m2.6-.4l1 0m5.3 .8l1 0m.8-.5l1 0m-91.5 2l1 0m-.4 .3l1 0m15.1 .1l1 0m.1 .2l1 0m1.3 0l1 0m.3 0l1 0m7.7 0l1 0m2.7-.3l1 0m2.3 .4l1 0m-.6-.2l1 0m2.4 .4l1 0m10.7-.7l1 0m0 .4l1 0m21.6-.7l1 0" stroke="#2c12ff" stroke-width="1.0" fill="none" stroke-opacity="1" stroke-linejoin="round"/>
</g>
</svg>
</body></html>
